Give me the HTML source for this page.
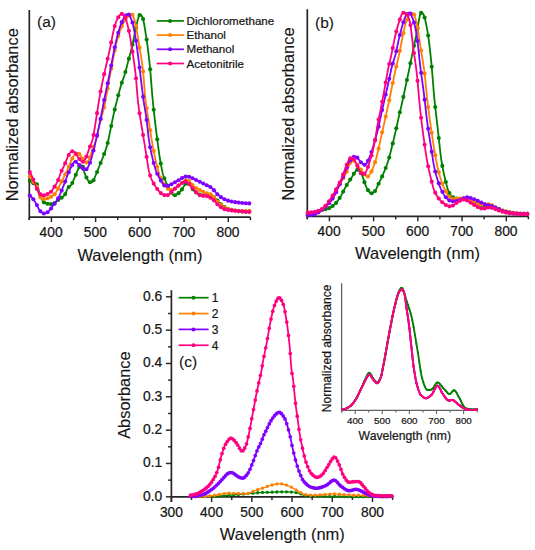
<!DOCTYPE html>
<html><head><meta charset="utf-8"><style>
html,body{margin:0;padding:0;background:#fff;overflow:hidden;}
svg{display:block;font-family:"Liberation Sans",sans-serif;}
</style></head><body>
<svg width="535" height="550" viewBox="0 0 535 550">
<rect width="535" height="550" fill="#fff"/>
<line x1="29.30" y1="10.00" x2="29.30" y2="219.90" stroke="#262626" stroke-width="1.7"/>
<line x1="29.30" y1="217.10" x2="250.40" y2="217.10" stroke="#262626" stroke-width="1.7"/>
<line x1="29.30" y1="217.10" x2="29.30" y2="220.10" stroke="#262626" stroke-width="1.4449999999999998"/>
<line x1="51.41" y1="217.10" x2="51.41" y2="222.10" stroke="#262626" stroke-width="1.4449999999999998"/>
<line x1="73.52" y1="217.10" x2="73.52" y2="220.10" stroke="#262626" stroke-width="1.4449999999999998"/>
<line x1="95.63" y1="217.10" x2="95.63" y2="222.10" stroke="#262626" stroke-width="1.4449999999999998"/>
<line x1="117.74" y1="217.10" x2="117.74" y2="220.10" stroke="#262626" stroke-width="1.4449999999999998"/>
<line x1="139.85" y1="217.10" x2="139.85" y2="222.10" stroke="#262626" stroke-width="1.4449999999999998"/>
<line x1="161.96" y1="217.10" x2="161.96" y2="220.10" stroke="#262626" stroke-width="1.4449999999999998"/>
<line x1="184.07" y1="217.10" x2="184.07" y2="222.10" stroke="#262626" stroke-width="1.4449999999999998"/>
<line x1="206.18" y1="217.10" x2="206.18" y2="220.10" stroke="#262626" stroke-width="1.4449999999999998"/>
<line x1="228.29" y1="217.10" x2="228.29" y2="222.10" stroke="#262626" stroke-width="1.4449999999999998"/>
<line x1="250.40" y1="217.10" x2="250.40" y2="220.10" stroke="#262626" stroke-width="1.4449999999999998"/>
<text x="51.11" y="236.8" font-size="13.8" text-anchor="middle" fill="#151515" stroke="#151515" stroke-width="0.22">400</text>
<text x="95.33" y="236.8" font-size="13.8" text-anchor="middle" fill="#151515" stroke="#151515" stroke-width="0.22">500</text>
<text x="139.55" y="236.8" font-size="13.8" text-anchor="middle" fill="#151515" stroke="#151515" stroke-width="0.22">600</text>
<text x="183.77" y="236.8" font-size="13.8" text-anchor="middle" fill="#151515" stroke="#151515" stroke-width="0.22">700</text>
<text x="227.99" y="236.8" font-size="13.8" text-anchor="middle" fill="#151515" stroke="#151515" stroke-width="0.22">800</text>
<path d="M29.80,180.70 L30.30,181.19 L30.80,181.64 L31.30,182.06 L31.80,182.43 L32.30,182.77 L32.80,183.05 L33.30,183.16 L33.80,183.16 L34.30,183.09 L34.80,183.03 L35.30,183.02 L35.80,183.13 L36.30,183.42 L36.80,184.05 L37.30,185.21 L37.80,186.74 L38.30,188.46 L38.80,190.23 L39.30,191.85 L39.80,193.23 L40.30,194.63 L40.80,196.08 L41.30,197.52 L41.80,198.88 L42.30,200.09 L42.80,201.08 L43.30,201.80 L43.80,202.24 L44.30,202.59 L44.80,202.90 L45.30,203.15 L45.80,203.35 L46.30,203.51 L46.80,203.62 L47.30,203.73 L47.80,203.84 L48.30,203.94 L48.80,204.04 L49.30,204.11 L49.80,204.17 L50.30,204.20 L50.80,204.19 L51.30,204.14 L51.80,204.05 L52.30,203.92 L52.80,203.77 L53.30,203.58 L53.80,203.38 L54.30,203.15 L54.80,202.87 L55.30,202.49 L55.80,202.05 L56.30,201.57 L56.80,201.09 L57.30,200.64 L57.80,200.25 L58.30,199.90 L58.80,199.57 L59.30,199.26 L59.80,198.94 L60.30,198.61 L60.80,198.27 L61.30,197.91 L61.80,197.55 L62.30,197.18 L62.80,196.78 L63.30,196.35 L63.80,195.88 L64.30,195.36 L64.80,194.77 L65.30,193.92 L65.80,192.82 L66.30,191.57 L66.80,190.31 L67.30,189.14 L67.80,188.20 L68.30,187.52 L68.80,187.02 L69.30,186.63 L69.80,186.29 L70.30,185.92 L70.80,185.45 L71.30,184.82 L71.80,183.97 L72.30,182.98 L72.80,181.88 L73.30,180.71 L73.80,179.50 L74.30,178.29 L74.80,177.09 L75.30,175.94 L75.80,174.76 L76.30,173.54 L76.80,172.32 L77.30,171.12 L77.80,169.99 L78.30,168.95 L78.80,168.03 L79.30,167.21 L79.80,166.51 L80.30,165.95 L80.80,165.57 L81.30,165.40 L81.80,165.47 L82.30,165.80 L82.80,166.61 L83.30,168.10 L83.80,169.99 L84.30,171.96 L84.80,173.70 L85.30,174.95 L85.80,176.09 L86.30,177.19 L86.80,178.24 L87.30,179.22 L87.80,180.09 L88.30,180.84 L88.80,181.44 L89.30,181.87 L89.80,182.17 L90.30,182.37 L90.80,182.45 L91.30,182.40 L91.80,182.22 L92.30,181.89 L92.80,181.40 L93.30,180.69 L93.80,179.76 L94.30,178.67 L94.80,177.46 L95.30,176.21 L95.80,174.98 L96.30,173.79 L96.80,172.57 L97.30,171.33 L97.80,170.07 L98.30,168.80 L98.80,167.52 L99.30,166.25 L99.80,165.00 L100.30,163.76 L100.80,162.54 L101.30,161.31 L101.80,160.08 L102.30,158.84 L102.80,157.58 L103.30,156.29 L103.80,154.97 L104.30,153.64 L104.80,152.29 L105.30,150.89 L105.80,149.43 L106.30,147.90 L106.80,146.26 L107.30,144.50 L107.80,142.53 L108.30,140.31 L108.80,137.93 L109.30,135.44 L109.80,132.94 L110.30,130.48 L110.80,128.07 L111.30,125.61 L111.80,123.12 L112.30,120.65 L112.80,118.22 L113.30,115.86 L113.80,113.61 L114.30,111.43 L114.80,109.30 L115.30,107.21 L115.80,105.16 L116.30,103.14 L116.80,101.15 L117.30,99.18 L117.80,97.22 L118.30,95.27 L118.80,93.32 L119.30,91.41 L119.80,89.53 L120.30,87.72 L120.80,85.97 L121.30,84.33 L121.80,82.81 L122.30,81.38 L122.80,79.99 L123.30,78.61 L123.80,77.19 L124.30,75.69 L124.80,74.06 L125.30,72.33 L125.80,70.52 L126.30,68.65 L126.80,66.75 L127.30,64.82 L127.80,62.89 L128.30,60.98 L128.80,59.09 L129.30,57.23 L129.80,55.36 L130.30,53.48 L130.80,51.56 L131.30,49.58 L131.80,47.52 L132.30,45.35 L132.80,43.05 L133.30,40.65 L133.80,38.20 L134.30,35.74 L134.80,33.31 L135.30,30.96 L135.80,28.70 L136.30,26.38 L136.80,24.03 L137.30,21.75 L137.80,19.65 L138.30,17.81 L138.80,16.34 L139.30,15.32 L139.80,14.73 L140.30,14.54 L140.80,14.70 L141.30,15.17 L141.80,15.93 L142.30,16.91 L142.80,18.13 L143.30,19.91 L143.80,22.21 L144.30,24.92 L144.80,27.92 L145.30,31.09 L145.80,34.30 L146.30,37.47 L146.80,40.81 L147.30,44.39 L147.80,48.19 L148.30,52.22 L148.80,56.47 L149.30,60.93 L149.80,65.60 L150.30,70.87 L150.80,76.87 L151.30,83.25 L151.80,89.64 L152.30,95.68 L152.80,101.00 L153.30,105.90 L153.80,110.61 L154.30,115.15 L154.80,119.53 L155.30,123.77 L155.80,127.89 L156.30,131.91 L156.80,135.87 L157.30,139.83 L157.80,143.74 L158.30,147.55 L158.80,151.20 L159.30,154.64 L159.80,157.81 L160.30,160.74 L160.80,163.62 L161.30,166.41 L161.80,169.06 L162.30,171.50 L162.80,173.67 L163.30,175.49 L163.80,176.95 L164.30,178.26 L164.80,179.50 L165.30,180.66 L165.80,181.77 L166.30,182.82 L166.80,183.81 L167.30,184.77 L167.80,185.69 L168.30,186.58 L168.80,187.51 L169.30,188.49 L169.80,189.50 L170.30,190.50 L170.80,191.48 L171.30,192.39 L171.80,193.22 L172.30,193.94 L172.80,194.51 L173.30,194.92 L173.80,195.13 L174.30,195.21 L174.80,195.20 L175.30,195.11 L175.80,194.94 L176.30,194.71 L176.80,194.43 L177.30,194.09 L177.80,193.72 L178.30,193.31 L178.80,192.87 L179.30,192.42 L179.80,191.95 L180.30,191.49 L180.80,191.00 L181.30,190.39 L181.80,189.68 L182.30,188.90 L182.80,188.07 L183.30,187.21 L183.80,186.36 L184.30,185.54 L184.80,184.78 L185.30,184.11 L185.80,183.55 L186.30,183.13 L186.80,182.87 L187.30,182.80 L187.80,182.92 L188.30,183.20 L188.80,183.61 L189.30,184.14 L189.80,184.76 L190.30,185.46 L190.80,186.21 L191.30,186.99 L191.80,187.79 L192.30,188.57 L192.80,189.33 L193.30,190.04 L193.80,190.68 L194.30,191.23 L194.80,191.66 L195.30,191.99 L195.80,192.30 L196.30,192.61 L196.80,192.92 L197.30,193.21 L197.80,193.49 L198.30,193.76 L198.80,194.01 L199.30,194.24 L199.80,194.46 L200.30,194.66 L200.80,194.83 L201.30,194.98 L201.80,195.10 L202.30,195.19 L202.80,195.24 L203.30,195.26 L203.80,195.25 L204.30,195.22 L204.80,195.18 L205.30,195.12 L205.80,195.05 L206.30,194.98 L206.80,194.92 L207.30,194.86 L207.80,194.82 L208.30,194.79 L208.80,194.79 L209.30,194.81 L209.80,194.87 L210.30,194.96 L210.80,195.10 L211.30,195.30 L211.80,195.56 L212.30,195.89 L212.80,196.26 L213.30,196.68 L213.80,197.13 L214.30,197.59 L214.80,198.08 L215.30,198.56 L215.80,199.04 L216.30,199.51 L216.80,199.97 L217.30,200.47 L217.80,200.99 L218.30,201.53 L218.80,202.08 L219.30,202.63 L219.80,203.17 L220.30,203.69 L220.80,204.18 L221.30,204.64 L221.80,205.05 L222.30,205.42 L222.80,205.77 L223.30,206.12 L223.80,206.47 L224.30,206.80 L224.80,207.12 L225.30,207.43 L225.80,207.73 L226.30,208.01 L226.80,208.27 L227.30,208.52 L227.80,208.75 L228.30,208.96 L228.80,209.15 L229.30,209.31 L229.80,209.45 L230.30,209.57 L230.80,209.69 L231.30,209.80 L231.80,209.91 L232.30,210.02 L232.80,210.13 L233.30,210.23 L233.80,210.33 L234.30,210.43 L234.80,210.52 L235.30,210.61 L235.80,210.70 L236.30,210.79 L236.80,210.87 L237.30,210.95 L237.80,211.03 L238.30,211.10 L238.80,211.17 L239.30,211.23 L239.80,211.29 L240.30,211.35 L240.80,211.40 L241.30,211.45 L241.80,211.49 L242.30,211.53 L242.80,211.56 L243.30,211.59 L243.80,211.62 L244.30,211.64 L244.80,211.65 L245.30,211.67 L245.80,211.67 L246.30,211.67 L246.80,211.67 L247.30,211.65 L247.80,211.64 L248.30,211.62 L248.80,211.59 L249.30,211.56 L249.80,211.52" fill="none" stroke="#008000" stroke-width="1.8" stroke-linejoin="round" stroke-linecap="round"/>
<g fill="#008000"><circle cx="29.80" cy="180.70" r="2.05"/><circle cx="33.34" cy="183.17" r="2.05"/><circle cx="36.88" cy="184.21" r="2.05"/><circle cx="40.42" cy="194.98" r="2.05"/><circle cx="43.96" cy="202.36" r="2.05"/><circle cx="47.50" cy="203.77" r="2.05"/><circle cx="51.04" cy="204.17" r="2.05"/><circle cx="54.58" cy="203.01" r="2.05"/><circle cx="58.12" cy="200.03" r="2.05"/><circle cx="61.66" cy="197.65" r="2.05"/><circle cx="65.20" cy="194.12" r="2.05"/><circle cx="68.74" cy="187.07" r="2.05"/><circle cx="72.28" cy="183.02" r="2.05"/><circle cx="75.82" cy="174.71" r="2.05"/><circle cx="79.36" cy="167.12" r="2.05"/><circle cx="82.90" cy="166.86" r="2.05"/><circle cx="86.44" cy="177.49" r="2.05"/><circle cx="89.98" cy="182.26" r="2.05"/><circle cx="93.52" cy="180.31" r="2.05"/><circle cx="97.06" cy="171.93" r="2.05"/><circle cx="100.60" cy="163.03" r="2.05"/><circle cx="104.14" cy="154.07" r="2.05"/><circle cx="107.68" cy="143.03" r="2.05"/><circle cx="111.22" cy="126.01" r="2.05"/><circle cx="114.76" cy="109.47" r="2.05"/><circle cx="118.30" cy="95.27" r="2.05"/><circle cx="121.84" cy="82.69" r="2.05"/><circle cx="125.38" cy="72.04" r="2.05"/><circle cx="128.92" cy="58.65" r="2.05"/><circle cx="132.46" cy="44.63" r="2.05"/><circle cx="136.00" cy="27.78" r="2.05"/><circle cx="139.54" cy="14.98" r="2.05"/><circle cx="143.08" cy="19.06" r="2.05"/><circle cx="146.62" cy="39.58" r="2.05"/><circle cx="150.16" cy="69.30" r="2.05"/><circle cx="153.70" cy="109.68" r="2.05"/><circle cx="157.24" cy="139.36" r="2.05"/><circle cx="160.78" cy="163.51" r="2.05"/><circle cx="164.32" cy="178.31" r="2.05"/><circle cx="167.86" cy="185.80" r="2.05"/><circle cx="171.40" cy="192.57" r="2.05"/><circle cx="174.94" cy="195.18" r="2.05"/><circle cx="178.48" cy="193.15" r="2.05"/><circle cx="182.02" cy="189.35" r="2.05"/><circle cx="185.56" cy="183.80" r="2.05"/><circle cx="189.10" cy="183.91" r="2.05"/><circle cx="192.64" cy="189.09" r="2.05"/><circle cx="196.18" cy="192.54" r="2.05"/><circle cx="199.72" cy="194.43" r="2.05"/><circle cx="203.26" cy="195.26" r="2.05"/><circle cx="206.80" cy="194.92" r="2.05"/><circle cx="210.34" cy="194.97" r="2.05"/><circle cx="213.88" cy="197.20" r="2.05"/><circle cx="217.42" cy="200.59" r="2.05"/><circle cx="220.96" cy="204.33" r="2.05"/><circle cx="224.50" cy="206.93" r="2.05"/><circle cx="228.04" cy="208.85" r="2.05"/><circle cx="231.58" cy="209.86" r="2.05"/><circle cx="235.12" cy="210.58" r="2.05"/><circle cx="238.66" cy="211.15" r="2.05"/><circle cx="242.20" cy="211.52" r="2.05"/><circle cx="245.74" cy="211.67" r="2.05"/><circle cx="249.28" cy="211.56" r="2.05"/></g>
<path d="M29.80,176.40 L30.30,177.24 L30.80,178.05 L31.30,178.85 L31.80,179.63 L32.30,180.40 L32.80,181.14 L33.30,181.80 L33.80,182.42 L34.30,183.02 L34.80,183.63 L35.30,184.28 L35.80,185.00 L36.30,185.82 L36.80,186.88 L37.30,188.33 L37.80,190.04 L38.30,191.85 L38.80,193.62 L39.30,195.20 L39.80,196.44 L40.30,197.22 L40.80,197.78 L41.30,198.29 L41.80,198.71 L42.30,199.04 L42.80,199.24 L43.30,199.31 L43.80,199.26 L44.30,199.17 L44.80,199.07 L45.30,198.95 L45.80,198.82 L46.30,198.68 L46.80,198.53 L47.30,198.37 L47.80,198.20 L48.30,198.02 L48.80,197.83 L49.30,197.64 L49.80,197.42 L50.30,197.20 L50.80,196.96 L51.30,196.70 L51.80,196.43 L52.30,196.14 L52.80,195.83 L53.30,195.50 L53.80,195.10 L54.30,194.58 L54.80,193.96 L55.30,193.26 L55.80,192.50 L56.30,191.69 L56.80,190.86 L57.30,190.01 L57.80,189.16 L58.30,188.24 L58.80,187.25 L59.30,186.23 L59.80,185.18 L60.30,184.13 L60.80,183.10 L61.30,182.10 L61.80,181.10 L62.30,180.10 L62.80,179.10 L63.30,178.10 L63.80,177.10 L64.30,176.10 L64.80,175.10 L65.30,174.12 L65.80,173.15 L66.30,172.18 L66.80,171.19 L67.30,170.17 L67.80,169.10 L68.30,167.94 L68.80,166.69 L69.30,165.39 L69.80,164.07 L70.30,162.77 L70.80,161.54 L71.30,160.41 L71.80,159.40 L72.30,158.43 L72.80,157.50 L73.30,156.65 L73.80,155.90 L74.30,155.29 L74.80,154.83 L75.30,154.41 L75.80,154.03 L76.30,153.71 L76.80,153.46 L77.30,153.31 L77.80,153.29 L78.30,153.40 L78.80,153.67 L79.30,154.09 L79.80,154.63 L80.30,155.27 L80.80,155.96 L81.30,156.68 L81.80,157.39 L82.30,158.07 L82.80,158.74 L83.30,159.47 L83.80,160.22 L84.30,160.95 L84.80,161.60 L85.30,162.13 L85.80,162.48 L86.30,162.54 L86.80,162.35 L87.30,161.94 L87.80,161.36 L88.30,160.63 L88.80,159.81 L89.30,158.91 L89.80,157.71 L90.30,156.20 L90.80,154.51 L91.30,152.79 L91.80,151.19 L92.30,149.79 L92.80,148.50 L93.30,147.28 L93.80,146.08 L94.30,144.86 L94.80,143.58 L95.30,142.19 L95.80,140.66 L96.30,138.92 L96.80,136.87 L97.30,134.59 L97.80,132.16 L98.30,129.68 L98.80,127.21 L99.30,124.86 L99.80,122.70 L100.30,120.78 L100.80,119.03 L101.30,117.41 L101.80,115.84 L102.30,114.26 L102.80,112.61 L103.30,110.83 L103.80,108.86 L104.30,106.65 L104.80,104.28 L105.30,101.78 L105.80,99.16 L106.30,96.45 L106.80,93.66 L107.30,90.81 L107.80,87.93 L108.30,85.02 L108.80,82.11 L109.30,79.22 L109.80,76.37 L110.30,73.57 L110.80,70.85 L111.30,68.22 L111.80,65.69 L112.30,63.15 L112.80,60.58 L113.30,58.00 L113.80,55.43 L114.30,52.89 L114.80,50.40 L115.30,47.97 L115.80,45.63 L116.30,43.40 L116.80,41.29 L117.30,39.32 L117.80,37.52 L118.30,35.89 L118.80,34.36 L119.30,32.89 L119.80,31.48 L120.30,30.13 L120.80,28.84 L121.30,27.60 L121.80,26.44 L122.30,25.33 L122.80,24.28 L123.30,23.30 L123.80,22.39 L124.30,21.53 L124.80,20.75 L125.30,19.99 L125.80,19.26 L126.30,18.56 L126.80,17.89 L127.30,17.27 L127.80,16.69 L128.30,16.16 L128.80,15.69 L129.30,15.28 L129.80,14.94 L130.30,14.68 L130.80,14.49 L131.30,14.40 L131.80,14.39 L132.30,14.61 L132.80,15.26 L133.30,16.31 L133.80,17.67 L134.30,19.29 L134.80,21.09 L135.30,23.02 L135.80,25.04 L136.30,27.48 L136.80,30.32 L137.30,33.43 L137.80,36.70 L138.30,39.99 L138.80,43.18 L139.30,46.21 L139.80,49.16 L140.30,52.10 L140.80,55.09 L141.30,58.20 L141.80,61.49 L142.30,65.04 L142.80,68.90 L143.30,73.77 L143.80,79.84 L144.30,86.40 L144.80,92.76 L145.30,98.22 L145.80,102.38 L146.30,106.07 L146.80,109.48 L147.30,112.67 L147.80,115.73 L148.30,118.73 L148.80,121.75 L149.30,124.85 L149.80,128.00 L150.30,131.15 L150.80,134.29 L151.30,137.37 L151.80,140.38 L152.30,143.28 L152.80,146.04 L153.30,148.75 L153.80,151.41 L154.30,154.01 L154.80,156.52 L155.30,158.90 L155.80,161.14 L156.30,163.21 L156.80,165.14 L157.30,167.04 L157.80,168.90 L158.30,170.70 L158.80,172.41 L159.30,174.01 L159.80,175.49 L160.30,176.82 L160.80,177.99 L161.30,179.03 L161.80,180.04 L162.30,181.04 L162.80,181.99 L163.30,182.91 L163.80,183.78 L164.30,184.60 L164.80,185.36 L165.30,186.05 L165.80,186.66 L166.30,187.20 L166.80,187.69 L167.30,188.18 L167.80,188.65 L168.30,189.08 L168.80,189.46 L169.30,189.76 L169.80,189.95 L170.30,190.05 L170.80,190.10 L171.30,190.11 L171.80,190.08 L172.30,190.00 L172.80,189.87 L173.30,189.69 L173.80,189.45 L174.30,189.15 L174.80,188.81 L175.30,188.44 L175.80,188.03 L176.30,187.60 L176.80,187.15 L177.30,186.68 L177.80,186.22 L178.30,185.75 L178.80,185.30 L179.30,184.86 L179.80,184.44 L180.30,184.05 L180.80,183.68 L181.30,183.29 L181.80,182.90 L182.30,182.49 L182.80,182.09 L183.30,181.70 L183.80,181.33 L184.30,181.00 L184.80,180.70 L185.30,180.45 L185.80,180.26 L186.30,180.13 L186.80,180.08 L187.30,180.11 L187.80,180.25 L188.30,180.50 L188.80,180.84 L189.30,181.25 L189.80,181.73 L190.30,182.26 L190.80,182.83 L191.30,183.42 L191.80,184.03 L192.30,184.63 L192.80,185.22 L193.30,185.78 L193.80,186.30 L194.30,186.77 L194.80,187.16 L195.30,187.49 L195.80,187.81 L196.30,188.12 L196.80,188.42 L197.30,188.72 L197.80,189.01 L198.30,189.29 L198.80,189.57 L199.30,189.84 L199.80,190.11 L200.30,190.37 L200.80,190.63 L201.30,190.89 L201.80,191.14 L202.30,191.38 L202.80,191.63 L203.30,191.87 L203.80,192.11 L204.30,192.34 L204.80,192.54 L205.30,192.73 L205.80,192.89 L206.30,193.05 L206.80,193.19 L207.30,193.33 L207.80,193.46 L208.30,193.60 L208.80,193.75 L209.30,193.91 L209.80,194.09 L210.30,194.28 L210.80,194.51 L211.30,194.76 L211.80,195.04 L212.30,195.38 L212.80,195.81 L213.30,196.33 L213.80,196.90 L214.30,197.53 L214.80,198.20 L215.30,198.89 L215.80,199.59 L216.30,200.28 L216.80,200.96 L217.30,201.60 L217.80,202.19 L218.30,202.72 L218.80,203.18 L219.30,203.62 L219.80,204.07 L220.30,204.51 L220.80,204.94 L221.30,205.36 L221.80,205.78 L222.30,206.17 L222.80,206.55 L223.30,206.91 L223.80,207.25 L224.30,207.57 L224.80,207.85 L225.30,208.11 L225.80,208.34 L226.30,208.53 L226.80,208.70 L227.30,208.85 L227.80,209.00 L228.30,209.15 L228.80,209.29 L229.30,209.43 L229.80,209.56 L230.30,209.69 L230.80,209.82 L231.30,209.94 L231.80,210.05 L232.30,210.17 L232.80,210.27 L233.30,210.37 L233.80,210.47 L234.30,210.56 L234.80,210.65 L235.30,210.73 L235.80,210.81 L236.30,210.88 L236.80,210.95 L237.30,211.01 L237.80,211.07 L238.30,211.12 L238.80,211.17 L239.30,211.21 L239.80,211.25 L240.30,211.28 L240.80,211.30 L241.30,211.32 L241.80,211.34 L242.30,211.35 L242.80,211.35 L243.30,211.35 L243.80,211.35 L244.30,211.34 L244.80,211.32 L245.30,211.30 L245.80,211.27 L246.30,211.23 L246.80,211.19 L247.30,211.15 L247.80,211.10 L248.30,211.04 L248.80,210.98 L249.30,210.91 L249.80,210.83" fill="none" stroke="#FF8000" stroke-width="1.8" stroke-linejoin="round" stroke-linecap="round"/>
<g fill="#FF8000"><circle cx="29.80" cy="176.40" r="2.05"/><circle cx="33.34" cy="181.85" r="2.05"/><circle cx="36.88" cy="187.09" r="2.05"/><circle cx="40.42" cy="197.36" r="2.05"/><circle cx="43.96" cy="199.23" r="2.05"/><circle cx="47.50" cy="198.30" r="2.05"/><circle cx="51.04" cy="196.84" r="2.05"/><circle cx="54.58" cy="194.24" r="2.05"/><circle cx="58.12" cy="188.58" r="2.05"/><circle cx="61.66" cy="181.38" r="2.05"/><circle cx="65.20" cy="174.31" r="2.05"/><circle cx="68.74" cy="166.85" r="2.05"/><circle cx="72.28" cy="158.46" r="2.05"/><circle cx="75.82" cy="154.01" r="2.05"/><circle cx="79.36" cy="154.15" r="2.05"/><circle cx="82.90" cy="158.88" r="2.05"/><circle cx="86.44" cy="162.51" r="2.05"/><circle cx="89.98" cy="157.20" r="2.05"/><circle cx="93.52" cy="146.75" r="2.05"/><circle cx="97.06" cy="135.71" r="2.05"/><circle cx="100.60" cy="119.71" r="2.05"/><circle cx="104.14" cy="107.38" r="2.05"/><circle cx="107.68" cy="88.62" r="2.05"/><circle cx="111.22" cy="68.64" r="2.05"/><circle cx="114.76" cy="50.60" r="2.05"/><circle cx="118.30" cy="35.89" r="2.05"/><circle cx="121.84" cy="26.34" r="2.05"/><circle cx="125.38" cy="19.87" r="2.05"/><circle cx="128.92" cy="15.58" r="2.05"/><circle cx="132.46" cy="14.77" r="2.05"/><circle cx="136.00" cy="25.96" r="2.05"/><circle cx="139.54" cy="47.63" r="2.05"/><circle cx="143.08" cy="71.44" r="2.05"/><circle cx="146.62" cy="108.28" r="2.05"/><circle cx="150.16" cy="130.27" r="2.05"/><circle cx="153.70" cy="150.88" r="2.05"/><circle cx="157.24" cy="166.82" r="2.05"/><circle cx="160.78" cy="177.94" r="2.05"/><circle cx="164.32" cy="184.63" r="2.05"/><circle cx="167.86" cy="188.70" r="2.05"/><circle cx="171.40" cy="190.11" r="2.05"/><circle cx="174.94" cy="188.71" r="2.05"/><circle cx="178.48" cy="185.59" r="2.05"/><circle cx="182.02" cy="182.72" r="2.05"/><circle cx="185.56" cy="180.34" r="2.05"/><circle cx="189.10" cy="181.08" r="2.05"/><circle cx="192.64" cy="185.04" r="2.05"/><circle cx="196.18" cy="188.05" r="2.05"/><circle cx="199.72" cy="190.07" r="2.05"/><circle cx="203.26" cy="191.85" r="2.05"/><circle cx="206.80" cy="193.19" r="2.05"/><circle cx="210.34" cy="194.30" r="2.05"/><circle cx="213.88" cy="197.00" r="2.05"/><circle cx="217.42" cy="201.74" r="2.05"/><circle cx="220.96" cy="205.08" r="2.05"/><circle cx="224.50" cy="207.68" r="2.05"/><circle cx="228.04" cy="209.07" r="2.05"/><circle cx="231.58" cy="210.00" r="2.05"/><circle cx="235.12" cy="210.70" r="2.05"/><circle cx="238.66" cy="211.15" r="2.05"/><circle cx="242.20" cy="211.35" r="2.05"/><circle cx="245.74" cy="211.27" r="2.05"/><circle cx="249.28" cy="210.91" r="2.05"/></g>
<path d="M29.80,195.50 L30.30,195.86 L30.80,196.30 L31.30,196.81 L31.80,197.37 L32.30,197.96 L32.80,198.57 L33.30,199.24 L33.80,199.97 L34.30,200.73 L34.80,201.53 L35.30,202.35 L35.80,203.19 L36.30,204.03 L36.80,204.92 L37.30,205.91 L37.80,206.95 L38.30,207.98 L38.80,208.94 L39.30,209.78 L39.80,210.45 L40.30,211.06 L40.80,211.64 L41.30,212.17 L41.80,212.62 L42.30,213.00 L42.80,213.29 L43.30,213.46 L43.80,213.53 L44.30,213.53 L44.80,213.47 L45.30,213.35 L45.80,213.18 L46.30,212.97 L46.80,212.71 L47.30,212.40 L47.80,212.03 L48.30,211.58 L48.80,211.07 L49.30,210.51 L49.80,209.93 L50.30,209.34 L50.80,208.74 L51.30,208.11 L51.80,207.45 L52.30,206.77 L52.80,206.08 L53.30,205.39 L53.80,204.70 L54.30,204.03 L54.80,203.36 L55.30,202.69 L55.80,202.01 L56.30,201.31 L56.80,200.58 L57.30,199.79 L57.80,198.95 L58.30,198.01 L58.80,196.98 L59.30,195.89 L59.80,194.75 L60.30,193.59 L60.80,192.43 L61.30,191.28 L61.80,190.10 L62.30,188.90 L62.80,187.68 L63.30,186.45 L63.80,185.19 L64.30,183.92 L64.80,182.64 L65.30,181.30 L65.80,179.91 L66.30,178.51 L66.80,177.12 L67.30,175.77 L67.80,174.50 L68.30,173.29 L68.80,172.09 L69.30,170.93 L69.80,169.80 L70.30,168.72 L70.80,167.71 L71.30,166.76 L71.80,165.85 L72.30,164.89 L72.80,163.92 L73.30,163.02 L73.80,162.25 L74.30,161.69 L74.80,161.41 L75.30,161.45 L75.80,161.69 L76.30,162.06 L76.80,162.51 L77.30,163.03 L77.80,163.57 L78.30,164.10 L78.80,164.60 L79.30,165.09 L79.80,165.62 L80.30,166.15 L80.80,166.68 L81.30,167.19 L81.80,167.67 L82.30,168.12 L82.80,168.51 L83.30,168.84 L83.80,169.11 L84.30,169.31 L84.80,169.45 L85.30,169.52 L85.80,169.52 L86.30,169.40 L86.80,169.00 L87.30,168.35 L87.80,167.49 L88.30,166.50 L88.80,165.41 L89.30,164.28 L89.80,163.13 L90.30,161.81 L90.80,160.29 L91.30,158.63 L91.80,156.86 L92.30,155.04 L92.80,153.20 L93.30,151.32 L93.80,149.34 L94.30,147.28 L94.80,145.17 L95.30,143.02 L95.80,140.86 L96.30,138.70 L96.80,136.53 L97.30,134.32 L97.80,132.09 L98.30,129.83 L98.80,127.52 L99.30,125.17 L99.80,122.78 L100.30,120.30 L100.80,117.71 L101.30,115.03 L101.80,112.30 L102.30,109.56 L102.80,106.86 L103.30,104.23 L103.80,101.71 L104.30,99.27 L104.80,96.90 L105.30,94.56 L105.80,92.23 L106.30,89.89 L106.80,87.50 L107.30,85.08 L107.80,82.66 L108.30,80.23 L108.80,77.78 L109.30,75.32 L109.80,72.83 L110.30,70.31 L110.80,67.75 L111.30,65.10 L111.80,62.39 L112.30,59.67 L112.80,56.98 L113.30,54.38 L113.80,51.90 L114.30,49.51 L114.80,47.17 L115.30,44.87 L115.80,42.64 L116.30,40.49 L116.80,38.42 L117.30,36.45 L117.80,34.59 L118.30,32.75 L118.80,30.97 L119.30,29.25 L119.80,27.62 L120.30,26.10 L120.80,24.71 L121.30,23.45 L121.80,22.22 L122.30,21.04 L122.80,19.92 L123.30,18.87 L123.80,17.92 L124.30,17.08 L124.80,16.37 L125.30,15.74 L125.80,15.19 L126.30,14.73 L126.80,14.37 L127.30,14.13 L127.80,14.01 L128.30,14.07 L128.80,14.43 L129.30,15.06 L129.80,15.92 L130.30,16.96 L130.80,18.12 L131.30,19.37 L131.80,20.65 L132.30,22.06 L132.80,23.85 L133.30,25.99 L133.80,28.40 L134.30,31.02 L134.80,33.80 L135.30,36.66 L135.80,39.59 L136.30,42.80 L136.80,46.29 L137.30,49.99 L137.80,53.83 L138.30,57.73 L138.80,61.63 L139.30,65.54 L139.80,69.61 L140.30,73.80 L140.80,78.04 L141.30,82.30 L141.80,86.53 L142.30,90.67 L142.80,94.69 L143.30,98.53 L143.80,102.09 L144.30,105.27 L144.80,108.22 L145.30,111.12 L145.80,114.15 L146.30,117.48 L146.80,121.35 L147.30,125.77 L147.80,130.40 L148.30,134.90 L148.80,138.94 L149.30,142.24 L149.80,145.21 L150.30,147.98 L150.80,150.58 L151.30,153.00 L151.80,155.27 L152.30,157.40 L152.80,159.39 L153.30,161.35 L153.80,163.28 L154.30,165.17 L154.80,166.97 L155.30,168.65 L155.80,170.19 L156.30,171.55 L156.80,172.76 L157.30,173.90 L157.80,174.99 L158.30,176.02 L158.80,177.00 L159.30,177.91 L159.80,178.77 L160.30,179.59 L160.80,180.44 L161.30,181.30 L161.80,182.14 L162.30,182.95 L162.80,183.70 L163.30,184.37 L163.80,184.94 L164.30,185.37 L164.80,185.68 L165.30,185.95 L165.80,186.16 L166.30,186.27 L166.80,186.25 L167.30,186.10 L167.80,185.91 L168.30,185.71 L168.80,185.49 L169.30,185.26 L169.80,185.02 L170.30,184.77 L170.80,184.51 L171.30,184.25 L171.80,183.98 L172.30,183.70 L172.80,183.43 L173.30,183.15 L173.80,182.87 L174.30,182.60 L174.80,182.33 L175.30,182.06 L175.80,181.80 L176.30,181.54 L176.80,181.27 L177.30,180.98 L177.80,180.68 L178.30,180.37 L178.80,180.05 L179.30,179.73 L179.80,179.40 L180.30,179.08 L180.80,178.76 L181.30,178.46 L181.80,178.16 L182.30,177.88 L182.80,177.61 L183.30,177.37 L183.80,177.14 L184.30,176.95 L184.80,176.78 L185.30,176.64 L185.80,176.54 L186.30,176.48 L186.80,176.46 L187.30,176.48 L187.80,176.53 L188.30,176.62 L188.80,176.73 L189.30,176.88 L189.80,177.04 L190.30,177.23 L190.80,177.43 L191.30,177.65 L191.80,177.88 L192.30,178.12 L192.80,178.36 L193.30,178.60 L193.80,178.84 L194.30,179.08 L194.80,179.31 L195.30,179.53 L195.80,179.76 L196.30,179.99 L196.80,180.23 L197.30,180.47 L197.80,180.72 L198.30,180.97 L198.80,181.22 L199.30,181.48 L199.80,181.74 L200.30,182.00 L200.80,182.26 L201.30,182.52 L201.80,182.78 L202.30,183.03 L202.80,183.29 L203.30,183.55 L203.80,183.80 L204.30,184.05 L204.80,184.29 L205.30,184.52 L205.80,184.75 L206.30,184.98 L206.80,185.20 L207.30,185.43 L207.80,185.66 L208.30,185.91 L208.80,186.16 L209.30,186.42 L209.80,186.69 L210.30,186.99 L210.80,187.30 L211.30,187.65 L211.80,188.06 L212.30,188.51 L212.80,189.00 L213.30,189.52 L213.80,190.08 L214.30,190.65 L214.80,191.23 L215.30,191.83 L215.80,192.42 L216.30,193.01 L216.80,193.58 L217.30,194.13 L217.80,194.66 L218.30,195.15 L218.80,195.60 L219.30,196.01 L219.80,196.37 L220.30,196.70 L220.80,197.03 L221.30,197.35 L221.80,197.66 L222.30,197.97 L222.80,198.26 L223.30,198.55 L223.80,198.83 L224.30,199.09 L224.80,199.34 L225.30,199.58 L225.80,199.81 L226.30,200.02 L226.80,200.21 L227.30,200.39 L227.80,200.55 L228.30,200.70 L228.80,200.82 L229.30,200.94 L229.80,201.06 L230.30,201.18 L230.80,201.30 L231.30,201.41 L231.80,201.52 L232.30,201.63 L232.80,201.73 L233.30,201.84 L233.80,201.93 L234.30,202.03 L234.80,202.11 L235.30,202.19 L235.80,202.27 L236.30,202.34 L236.80,202.40 L237.30,202.46 L237.80,202.51 L238.30,202.56 L238.80,202.60 L239.30,202.65 L239.80,202.70 L240.30,202.75 L240.80,202.80 L241.30,202.84 L241.80,202.89 L242.30,202.94 L242.80,202.98 L243.30,203.03 L243.80,203.07 L244.30,203.11 L244.80,203.15 L245.30,203.19 L245.80,203.22 L246.30,203.26 L246.80,203.29 L247.30,203.31 L247.80,203.34 L248.30,203.36 L248.80,203.37 L249.30,203.39 L249.80,203.40" fill="none" stroke="#8000FF" stroke-width="1.8" stroke-linejoin="round" stroke-linecap="round"/>
<g fill="#8000FF"><circle cx="29.80" cy="195.50" r="2.05"/><circle cx="33.34" cy="199.30" r="2.05"/><circle cx="36.88" cy="205.07" r="2.05"/><circle cx="40.42" cy="211.21" r="2.05"/><circle cx="43.96" cy="213.53" r="2.05"/><circle cx="47.50" cy="212.26" r="2.05"/><circle cx="51.04" cy="208.44" r="2.05"/><circle cx="54.58" cy="203.65" r="2.05"/><circle cx="58.12" cy="198.36" r="2.05"/><circle cx="61.66" cy="190.43" r="2.05"/><circle cx="65.20" cy="181.58" r="2.05"/><circle cx="68.74" cy="172.24" r="2.05"/><circle cx="72.28" cy="164.93" r="2.05"/><circle cx="75.82" cy="161.71" r="2.05"/><circle cx="79.36" cy="165.16" r="2.05"/><circle cx="82.90" cy="168.58" r="2.05"/><circle cx="86.44" cy="169.32" r="2.05"/><circle cx="89.98" cy="162.68" r="2.05"/><circle cx="93.52" cy="150.46" r="2.05"/><circle cx="97.06" cy="135.38" r="2.05"/><circle cx="100.60" cy="118.76" r="2.05"/><circle cx="104.14" cy="100.04" r="2.05"/><circle cx="107.68" cy="83.24" r="2.05"/><circle cx="111.22" cy="65.53" r="2.05"/><circle cx="114.76" cy="47.35" r="2.05"/><circle cx="118.30" cy="32.75" r="2.05"/><circle cx="121.84" cy="22.13" r="2.05"/><circle cx="125.38" cy="15.65" r="2.05"/><circle cx="128.92" cy="14.56" r="2.05"/><circle cx="132.46" cy="22.59" r="2.05"/><circle cx="136.00" cy="40.83" r="2.05"/><circle cx="139.54" cy="67.48" r="2.05"/><circle cx="143.08" cy="96.86" r="2.05"/><circle cx="146.62" cy="119.88" r="2.05"/><circle cx="150.16" cy="147.23" r="2.05"/><circle cx="153.70" cy="162.90" r="2.05"/><circle cx="157.24" cy="173.77" r="2.05"/><circle cx="160.78" cy="180.41" r="2.05"/><circle cx="164.32" cy="185.38" r="2.05"/><circle cx="167.86" cy="185.88" r="2.05"/><circle cx="171.40" cy="184.19" r="2.05"/><circle cx="174.94" cy="182.25" r="2.05"/><circle cx="178.48" cy="180.25" r="2.05"/><circle cx="182.02" cy="178.03" r="2.05"/><circle cx="185.56" cy="176.59" r="2.05"/><circle cx="189.10" cy="176.81" r="2.05"/><circle cx="192.64" cy="178.28" r="2.05"/><circle cx="196.18" cy="179.94" r="2.05"/><circle cx="199.72" cy="181.70" r="2.05"/><circle cx="203.26" cy="183.53" r="2.05"/><circle cx="206.80" cy="185.20" r="2.05"/><circle cx="210.34" cy="187.01" r="2.05"/><circle cx="213.88" cy="190.17" r="2.05"/><circle cx="217.42" cy="194.26" r="2.05"/><circle cx="220.96" cy="197.13" r="2.05"/><circle cx="224.50" cy="199.19" r="2.05"/><circle cx="228.04" cy="200.63" r="2.05"/><circle cx="231.58" cy="201.47" r="2.05"/><circle cx="235.12" cy="202.17" r="2.05"/><circle cx="238.66" cy="202.59" r="2.05"/><circle cx="242.20" cy="202.93" r="2.05"/><circle cx="245.74" cy="203.22" r="2.05"/><circle cx="249.28" cy="203.39" r="2.05"/></g>
<path d="M29.80,172.00 L30.30,172.87 L30.80,173.82 L31.30,174.85 L31.80,175.92 L32.30,177.04 L32.80,178.21 L33.30,179.49 L33.80,180.85 L34.30,182.26 L34.80,183.67 L35.30,185.05 L35.80,186.36 L36.30,187.57 L36.80,188.71 L37.30,189.86 L37.80,190.97 L38.30,191.99 L38.80,192.86 L39.30,193.53 L39.80,193.95 L40.30,194.31 L40.80,194.66 L41.30,194.96 L41.80,195.22 L42.30,195.41 L42.80,195.52 L43.30,195.53 L43.80,195.44 L44.30,195.31 L44.80,195.15 L45.30,194.97 L45.80,194.77 L46.30,194.57 L46.80,194.36 L47.30,194.14 L47.80,193.90 L48.30,193.64 L48.80,193.36 L49.30,193.05 L49.80,192.72 L50.30,192.35 L50.80,191.94 L51.30,191.41 L51.80,190.77 L52.30,190.06 L52.80,189.31 L53.30,188.55 L53.80,187.80 L54.30,187.06 L54.80,186.29 L55.30,185.50 L55.80,184.68 L56.30,183.81 L56.80,182.89 L57.30,181.91 L57.80,180.87 L58.30,179.65 L58.80,178.30 L59.30,176.87 L59.80,175.43 L60.30,174.03 L60.80,172.74 L61.30,171.58 L61.80,170.48 L62.30,169.43 L62.80,168.41 L63.30,167.39 L63.80,166.36 L64.30,165.29 L64.80,164.17 L65.30,162.94 L65.80,161.65 L66.30,160.33 L66.80,159.05 L67.30,157.85 L67.80,156.80 L68.30,155.83 L68.80,154.88 L69.30,153.98 L69.80,153.15 L70.30,152.45 L70.80,151.88 L71.30,151.50 L71.80,151.30 L72.30,151.23 L72.80,151.27 L73.30,151.41 L73.80,151.65 L74.30,151.99 L74.80,152.41 L75.30,152.92 L75.80,153.57 L76.30,154.34 L76.80,155.18 L77.30,156.04 L77.80,156.88 L78.30,157.66 L78.80,158.32 L79.30,158.95 L79.80,159.57 L80.30,160.16 L80.80,160.70 L81.30,161.16 L81.80,161.52 L82.30,161.77 L82.80,161.82 L83.30,161.61 L83.80,161.16 L84.30,160.54 L84.80,159.79 L85.30,158.95 L85.80,158.03 L86.30,156.91 L86.80,155.61 L87.30,154.19 L87.80,152.70 L88.30,151.19 L88.80,149.72 L89.30,148.33 L89.80,147.06 L90.30,145.85 L90.80,144.64 L91.30,143.36 L91.80,141.95 L92.30,140.35 L92.80,138.43 L93.30,136.10 L93.80,133.44 L94.30,130.51 L94.80,127.41 L95.30,124.23 L95.80,121.03 L96.30,117.91 L96.80,114.81 L97.30,111.56 L97.80,108.24 L98.30,104.95 L98.80,101.79 L99.30,98.84 L99.80,95.99 L100.30,93.20 L100.80,90.47 L101.30,87.81 L101.80,85.23 L102.30,82.71 L102.80,80.28 L103.30,77.93 L103.80,75.66 L104.30,73.45 L104.80,71.29 L105.30,69.14 L105.80,67.00 L106.30,64.82 L106.80,62.61 L107.30,60.40 L107.80,58.19 L108.30,55.98 L108.80,53.76 L109.30,51.51 L109.80,49.24 L110.30,46.94 L110.80,44.55 L111.30,41.98 L111.80,39.31 L112.30,36.63 L112.80,34.06 L113.30,31.68 L113.80,29.60 L114.30,27.74 L114.80,25.98 L115.30,24.32 L115.80,22.78 L116.30,21.38 L116.80,20.14 L117.30,19.07 L117.80,18.16 L118.30,17.28 L118.80,16.44 L119.30,15.68 L119.80,15.02 L120.30,14.48 L120.80,14.10 L121.30,13.91 L121.80,13.91 L122.30,14.08 L122.80,14.40 L123.30,14.83 L123.80,15.37 L124.30,15.98 L124.80,16.64 L125.30,17.57 L125.80,18.83 L126.30,20.36 L126.80,22.11 L127.30,24.02 L127.80,26.03 L128.30,28.09 L128.80,30.26 L129.30,32.73 L129.80,35.45 L130.30,38.36 L130.80,41.40 L131.30,44.49 L131.80,47.59 L132.30,50.67 L132.80,53.83 L133.30,57.10 L133.80,60.50 L134.30,64.08 L134.80,67.86 L135.30,71.87 L135.80,76.24 L136.30,81.71 L136.80,87.91 L137.30,94.18 L137.80,99.88 L138.30,104.40 L138.80,108.21 L139.30,111.75 L139.80,115.07 L140.30,118.23 L140.80,121.28 L141.30,124.26 L141.80,127.23 L142.30,130.23 L142.80,133.33 L143.30,136.44 L143.80,139.54 L144.30,142.63 L144.80,145.71 L145.30,148.78 L145.80,151.83 L146.30,154.89 L146.80,158.04 L147.30,161.38 L147.80,164.71 L148.30,167.82 L148.80,170.49 L149.30,172.57 L149.80,174.37 L150.30,176.00 L150.80,177.47 L151.30,178.79 L151.80,179.98 L152.30,181.04 L152.80,181.98 L153.30,182.89 L153.80,183.78 L154.30,184.65 L154.80,185.49 L155.30,186.30 L155.80,187.07 L156.30,187.80 L156.80,188.48 L157.30,189.10 L157.80,189.70 L158.30,190.30 L158.80,190.90 L159.30,191.49 L159.80,192.06 L160.30,192.60 L160.80,193.10 L161.30,193.55 L161.80,193.95 L162.30,194.29 L162.80,194.55 L163.30,194.76 L163.80,194.95 L164.30,195.11 L164.80,195.23 L165.30,195.32 L165.80,195.36 L166.30,195.37 L166.80,195.33 L167.30,195.24 L167.80,195.11 L168.30,194.92 L168.80,194.67 L169.30,194.36 L169.80,193.87 L170.30,193.26 L170.80,192.61 L171.30,192.01 L171.80,191.51 L172.30,191.03 L172.80,190.55 L173.30,190.07 L173.80,189.61 L174.30,189.14 L174.80,188.69 L175.30,188.24 L175.80,187.79 L176.30,187.36 L176.80,186.94 L177.30,186.53 L177.80,186.13 L178.30,185.74 L178.80,185.36 L179.30,185.00 L179.80,184.63 L180.30,184.25 L180.80,183.87 L181.30,183.49 L181.80,183.12 L182.30,182.77 L182.80,182.45 L183.30,182.16 L183.80,181.93 L184.30,181.75 L184.80,181.63 L185.30,181.59 L185.80,181.63 L186.30,181.76 L186.80,182.00 L187.30,182.32 L187.80,182.72 L188.30,183.19 L188.80,183.71 L189.30,184.27 L189.80,184.87 L190.30,185.48 L190.80,186.10 L191.30,186.71 L191.80,187.31 L192.30,187.88 L192.80,188.40 L193.30,188.92 L193.80,189.46 L194.30,190.02 L194.80,190.60 L195.30,191.17 L195.80,191.75 L196.30,192.31 L196.80,192.85 L197.30,193.37 L197.80,193.84 L198.30,194.28 L198.80,194.66 L199.30,194.99 L199.80,195.25 L200.30,195.45 L200.80,195.60 L201.30,195.71 L201.80,195.78 L202.30,195.82 L202.80,195.84 L203.30,195.84 L203.80,195.84 L204.30,195.84 L204.80,195.85 L205.30,195.87 L205.80,195.92 L206.30,195.99 L206.80,196.10 L207.30,196.26 L207.80,196.46 L208.30,196.68 L208.80,196.92 L209.30,197.18 L209.80,197.46 L210.30,197.75 L210.80,198.06 L211.30,198.39 L211.80,198.73 L212.30,199.08 L212.80,199.45 L213.30,199.84 L213.80,200.28 L214.30,200.77 L214.80,201.30 L215.30,201.85 L215.80,202.43 L216.30,203.01 L216.80,203.59 L217.30,204.16 L217.80,204.71 L218.30,205.22 L218.80,205.69 L219.30,206.11 L219.80,206.47 L220.30,206.80 L220.80,207.13 L221.30,207.44 L221.80,207.75 L222.30,208.05 L222.80,208.33 L223.30,208.59 L223.80,208.83 L224.30,209.05 L224.80,209.25 L225.30,209.41 L225.80,209.56 L226.30,209.67 L226.80,209.75 L227.30,209.83 L227.80,209.90 L228.30,209.97 L228.80,210.05 L229.30,210.12 L229.80,210.18 L230.30,210.25 L230.80,210.31 L231.30,210.37 L231.80,210.43 L232.30,210.49 L232.80,210.55 L233.30,210.60 L233.80,210.65 L234.30,210.70 L234.80,210.75 L235.30,210.79 L235.80,210.84 L236.30,210.88 L236.80,210.92 L237.30,210.97 L237.80,211.02 L238.30,211.06 L238.80,211.11 L239.30,211.15 L239.80,211.20 L240.30,211.25 L240.80,211.29 L241.30,211.34 L241.80,211.38 L242.30,211.43 L242.80,211.47 L243.30,211.52 L243.80,211.56 L244.30,211.60 L244.80,211.64 L245.30,211.68 L245.80,211.72 L246.30,211.76 L246.80,211.80 L247.30,211.83 L247.80,211.87 L248.30,211.90 L248.80,211.93 L249.30,211.96 L249.80,211.99" fill="none" stroke="#FF0080" stroke-width="1.8" stroke-linejoin="round" stroke-linecap="round"/>
<g fill="#FF0080"><circle cx="29.80" cy="172.00" r="2.05"/><circle cx="33.34" cy="179.60" r="2.05"/><circle cx="36.88" cy="188.89" r="2.05"/><circle cx="40.42" cy="194.40" r="2.05"/><circle cx="43.96" cy="195.40" r="2.05"/><circle cx="47.50" cy="194.04" r="2.05"/><circle cx="51.04" cy="191.70" r="2.05"/><circle cx="54.58" cy="186.63" r="2.05"/><circle cx="58.12" cy="180.11" r="2.05"/><circle cx="61.66" cy="170.78" r="2.05"/><circle cx="65.20" cy="163.20" r="2.05"/><circle cx="68.74" cy="154.99" r="2.05"/><circle cx="72.28" cy="151.23" r="2.05"/><circle cx="75.82" cy="153.60" r="2.05"/><circle cx="79.36" cy="159.03" r="2.05"/><circle cx="82.90" cy="161.80" r="2.05"/><circle cx="86.44" cy="156.56" r="2.05"/><circle cx="89.98" cy="146.62" r="2.05"/><circle cx="93.52" cy="134.97" r="2.05"/><circle cx="97.06" cy="113.14" r="2.05"/><circle cx="100.60" cy="91.55" r="2.05"/><circle cx="104.14" cy="74.15" r="2.05"/><circle cx="107.68" cy="58.72" r="2.05"/><circle cx="111.22" cy="42.40" r="2.05"/><circle cx="114.76" cy="26.11" r="2.05"/><circle cx="118.30" cy="17.28" r="2.05"/><circle cx="121.84" cy="13.92" r="2.05"/><circle cx="125.38" cy="17.75" r="2.05"/><circle cx="128.92" cy="30.83" r="2.05"/><circle cx="132.46" cy="51.67" r="2.05"/><circle cx="136.00" cy="78.30" r="2.05"/><circle cx="139.54" cy="113.37" r="2.05"/><circle cx="143.08" cy="135.07" r="2.05"/><circle cx="146.62" cy="156.88" r="2.05"/><circle cx="150.16" cy="175.56" r="2.05"/><circle cx="153.70" cy="183.60" r="2.05"/><circle cx="157.24" cy="189.03" r="2.05"/><circle cx="160.78" cy="193.08" r="2.05"/><circle cx="164.32" cy="195.12" r="2.05"/><circle cx="167.86" cy="195.09" r="2.05"/><circle cx="171.40" cy="191.90" r="2.05"/><circle cx="174.94" cy="188.56" r="2.05"/><circle cx="178.48" cy="185.60" r="2.05"/><circle cx="182.02" cy="182.96" r="2.05"/><circle cx="185.56" cy="181.60" r="2.05"/><circle cx="189.10" cy="184.04" r="2.05"/><circle cx="192.64" cy="188.24" r="2.05"/><circle cx="196.18" cy="192.18" r="2.05"/><circle cx="199.72" cy="195.21" r="2.05"/><circle cx="203.26" cy="195.84" r="2.05"/><circle cx="206.80" cy="196.10" r="2.05"/><circle cx="210.34" cy="197.78" r="2.05"/><circle cx="213.88" cy="200.35" r="2.05"/><circle cx="217.42" cy="204.29" r="2.05"/><circle cx="220.96" cy="207.23" r="2.05"/><circle cx="224.50" cy="209.13" r="2.05"/><circle cx="228.04" cy="209.94" r="2.05"/><circle cx="231.58" cy="210.41" r="2.05"/><circle cx="235.12" cy="210.78" r="2.05"/><circle cx="238.66" cy="211.10" r="2.05"/><circle cx="242.20" cy="211.42" r="2.05"/><circle cx="245.74" cy="211.72" r="2.05"/><circle cx="249.28" cy="211.96" r="2.05"/></g>
<text x="17.8" y="201.3" font-size="16.4" text-anchor="start" fill="#151515" stroke="#151515" stroke-width="0.12" transform="rotate(-90 17.8 201.3)">Normalized absorbance</text>
<text x="77.4" y="260.6" font-size="16.5" text-anchor="start" fill="#151515" stroke="#151515" stroke-width="0.12">Wavelength (nm)</text>
<text x="37.0" y="27.4" font-size="15.5" text-anchor="start" fill="#151515" stroke="#151515" stroke-width="0.12">(a)</text>
<line x1="156.70" y1="20.90" x2="183.90" y2="20.90" stroke="#008000" stroke-width="1.7"/><circle cx="170.1" cy="20.9" r="2" fill="#008000"/>
<line x1="156.70" y1="35.10" x2="183.90" y2="35.10" stroke="#FF8000" stroke-width="1.7"/><circle cx="170.1" cy="35.099999999999994" r="2" fill="#FF8000"/>
<line x1="156.70" y1="49.30" x2="183.90" y2="49.30" stroke="#8000FF" stroke-width="1.7"/><circle cx="170.1" cy="49.3" r="2" fill="#8000FF"/>
<line x1="156.70" y1="63.50" x2="183.90" y2="63.50" stroke="#FF0080" stroke-width="1.7"/><circle cx="170.1" cy="63.49999999999999" r="2" fill="#FF0080"/>
<text x="186.6" y="24.9" font-size="11.6" text-anchor="start" fill="#151515" stroke="#151515" stroke-width="0.22">Dichloromethane</text>
<text x="186.6" y="39.099999999999994" font-size="11.6" text-anchor="start" fill="#151515" stroke="#151515" stroke-width="0.22">Ethanol</text>
<text x="186.6" y="53.3" font-size="11.6" text-anchor="start" fill="#151515" stroke="#151515" stroke-width="0.22">Methanol</text>
<text x="186.6" y="67.5" font-size="11.6" text-anchor="start" fill="#151515" stroke="#151515" stroke-width="0.22">Acetonitrile</text>
<line x1="307.30" y1="9.20" x2="307.30" y2="219.10" stroke="#262626" stroke-width="1.7"/>
<line x1="307.30" y1="216.30" x2="528.40" y2="216.30" stroke="#262626" stroke-width="1.7"/>
<line x1="307.30" y1="216.30" x2="307.30" y2="219.30" stroke="#262626" stroke-width="1.4449999999999998"/>
<line x1="329.41" y1="216.30" x2="329.41" y2="221.30" stroke="#262626" stroke-width="1.4449999999999998"/>
<line x1="351.52" y1="216.30" x2="351.52" y2="219.30" stroke="#262626" stroke-width="1.4449999999999998"/>
<line x1="373.63" y1="216.30" x2="373.63" y2="221.30" stroke="#262626" stroke-width="1.4449999999999998"/>
<line x1="395.74" y1="216.30" x2="395.74" y2="219.30" stroke="#262626" stroke-width="1.4449999999999998"/>
<line x1="417.85" y1="216.30" x2="417.85" y2="221.30" stroke="#262626" stroke-width="1.4449999999999998"/>
<line x1="439.96" y1="216.30" x2="439.96" y2="219.30" stroke="#262626" stroke-width="1.4449999999999998"/>
<line x1="462.07" y1="216.30" x2="462.07" y2="221.30" stroke="#262626" stroke-width="1.4449999999999998"/>
<line x1="484.18" y1="216.30" x2="484.18" y2="219.30" stroke="#262626" stroke-width="1.4449999999999998"/>
<line x1="506.29" y1="216.30" x2="506.29" y2="221.30" stroke="#262626" stroke-width="1.4449999999999998"/>
<line x1="528.40" y1="216.30" x2="528.40" y2="219.30" stroke="#262626" stroke-width="1.4449999999999998"/>
<text x="329.11" y="236.2" font-size="13.8" text-anchor="middle" fill="#151515" stroke="#151515" stroke-width="0.22">400</text>
<text x="373.33" y="236.2" font-size="13.8" text-anchor="middle" fill="#151515" stroke="#151515" stroke-width="0.22">500</text>
<text x="417.55" y="236.2" font-size="13.8" text-anchor="middle" fill="#151515" stroke="#151515" stroke-width="0.22">600</text>
<text x="461.77" y="236.2" font-size="13.8" text-anchor="middle" fill="#151515" stroke="#151515" stroke-width="0.22">700</text>
<text x="505.99" y="236.2" font-size="13.8" text-anchor="middle" fill="#151515" stroke="#151515" stroke-width="0.22">800</text>
<path d="M307.80,213.52 L308.30,213.55 L308.80,213.58 L309.30,213.59 L309.80,213.59 L310.30,213.58 L310.80,213.56 L311.30,213.53 L311.80,213.49 L312.30,213.44 L312.80,213.38 L313.30,213.30 L313.80,213.21 L314.30,213.11 L314.80,213.00 L315.30,212.86 L315.80,212.70 L316.30,212.51 L316.80,212.30 L317.30,212.07 L317.80,211.84 L318.30,211.59 L318.80,211.35 L319.30,211.10 L319.80,210.86 L320.30,210.64 L320.80,210.43 L321.30,210.24 L321.80,210.07 L322.30,209.92 L322.80,209.79 L323.30,209.67 L323.80,209.56 L324.30,209.46 L324.80,209.36 L325.30,209.26 L325.80,209.16 L326.30,209.04 L326.80,208.92 L327.30,208.79 L327.80,208.63 L328.30,208.46 L328.80,208.25 L329.30,208.02 L329.80,207.77 L330.30,207.49 L330.80,207.19 L331.30,206.87 L331.80,206.54 L332.30,206.19 L332.80,205.82 L333.30,205.45 L333.80,205.06 L334.30,204.66 L334.80,204.25 L335.30,203.78 L335.80,203.25 L336.30,202.68 L336.80,202.06 L337.30,201.40 L337.80,200.71 L338.30,199.99 L338.80,199.25 L339.30,198.49 L339.80,197.72 L340.30,196.94 L340.80,196.12 L341.30,195.25 L341.80,194.33 L342.30,193.38 L342.80,192.40 L343.30,191.41 L343.80,190.42 L344.30,189.44 L344.80,188.48 L345.30,187.56 L345.80,186.67 L346.30,185.83 L346.80,185.00 L347.30,184.18 L347.80,183.38 L348.30,182.59 L348.80,181.81 L349.30,181.03 L349.80,180.26 L350.30,179.49 L350.80,178.73 L351.30,177.96 L351.80,177.19 L352.30,176.37 L352.80,175.53 L353.30,174.67 L353.80,173.81 L354.30,172.99 L354.80,172.21 L355.30,171.50 L355.80,170.87 L356.30,170.35 L356.80,169.97 L357.30,169.80 L357.80,169.83 L358.30,170.05 L358.80,170.43 L359.30,170.95 L359.80,171.57 L360.30,172.29 L360.80,173.06 L361.30,173.87 L361.80,174.75 L362.30,175.85 L362.80,177.16 L363.30,178.60 L363.80,180.13 L364.30,181.69 L364.80,183.23 L365.30,184.68 L365.80,185.99 L366.30,187.11 L366.80,188.05 L367.30,188.98 L367.80,189.86 L368.30,190.68 L368.80,191.41 L369.30,192.04 L369.80,192.55 L370.30,192.90 L370.80,193.11 L371.30,193.21 L371.80,193.22 L372.30,193.13 L372.80,192.95 L373.30,192.69 L373.80,192.33 L374.30,191.88 L374.80,191.35 L375.30,190.73 L375.80,189.92 L376.30,188.80 L376.80,187.56 L377.30,186.40 L377.80,185.36 L378.30,184.35 L378.80,183.36 L379.30,182.37 L379.80,181.37 L380.30,180.36 L380.80,179.31 L381.30,178.24 L381.80,177.15 L382.30,176.03 L382.80,174.90 L383.30,173.75 L383.80,172.58 L384.30,171.38 L384.80,170.17 L385.30,168.93 L385.80,167.66 L386.30,166.36 L386.80,165.01 L387.30,163.60 L387.80,162.13 L388.30,160.58 L388.80,158.92 L389.30,157.13 L389.80,155.25 L390.30,153.30 L390.80,151.31 L391.30,149.30 L391.80,147.30 L392.30,145.30 L392.80,143.26 L393.30,141.19 L393.80,139.09 L394.30,136.97 L394.80,134.83 L395.30,132.67 L395.80,130.48 L396.30,128.25 L396.80,125.97 L397.30,123.68 L397.80,121.38 L398.30,119.09 L398.80,116.84 L399.30,114.62 L399.80,112.46 L400.30,110.33 L400.80,108.22 L401.30,106.10 L401.80,103.96 L402.30,101.78 L402.80,99.55 L403.30,97.25 L403.80,94.90 L404.30,92.53 L404.80,90.13 L405.30,87.73 L405.80,85.35 L406.30,82.98 L406.80,80.63 L407.30,78.29 L407.80,75.94 L408.30,73.59 L408.80,71.22 L409.30,68.83 L409.80,66.41 L410.30,63.96 L410.80,61.47 L411.30,58.96 L411.80,56.44 L412.30,53.94 L412.80,51.46 L413.30,49.02 L413.80,46.63 L414.30,44.28 L414.80,41.96 L415.30,39.63 L415.80,37.30 L416.30,34.92 L416.80,32.49 L417.30,29.88 L417.80,26.95 L418.30,23.89 L418.80,20.89 L419.30,18.15 L419.80,15.87 L420.30,14.23 L420.80,13.20 L421.30,12.67 L421.80,12.56 L422.30,12.81 L422.80,13.36 L423.30,14.14 L423.80,15.14 L424.30,16.53 L424.80,18.28 L425.30,20.32 L425.80,22.60 L426.30,25.08 L426.80,27.68 L427.30,30.36 L427.80,33.21 L428.30,36.49 L428.80,40.15 L429.30,44.14 L429.80,48.41 L430.30,52.90 L430.80,57.55 L431.30,62.38 L431.80,67.82 L432.30,73.79 L432.80,80.03 L433.30,86.30 L433.80,92.35 L434.30,97.95 L434.80,102.94 L435.30,107.63 L435.80,112.12 L436.30,116.46 L436.80,120.72 L437.30,124.96 L437.80,129.22 L438.30,133.59 L438.80,138.17 L439.30,142.90 L439.80,147.61 L440.30,152.10 L440.80,156.23 L441.30,159.80 L441.80,162.92 L442.30,165.80 L442.80,168.49 L443.30,170.99 L443.80,173.33 L444.30,175.55 L444.80,177.67 L445.30,179.72 L445.80,181.80 L446.30,183.88 L446.80,185.89 L447.30,187.73 L447.80,189.36 L448.30,190.68 L448.80,191.75 L449.30,192.78 L449.80,193.76 L450.30,194.66 L450.80,195.45 L451.30,196.11 L451.80,196.62 L452.30,196.95 L452.80,197.23 L453.30,197.49 L453.80,197.74 L454.30,197.97 L454.80,198.17 L455.30,198.34 L455.80,198.46 L456.30,198.55 L456.80,198.62 L457.30,198.68 L457.80,198.73 L458.30,198.77 L458.80,198.80 L459.30,198.84 L459.80,198.86 L460.30,198.89 L460.80,198.91 L461.30,198.94 L461.80,198.97 L462.30,199.01 L462.80,199.05 L463.30,199.10 L463.80,199.16 L464.30,199.23 L464.80,199.31 L465.30,199.41 L465.80,199.52 L466.30,199.65 L466.80,199.80 L467.30,199.96 L467.80,200.13 L468.30,200.31 L468.80,200.50 L469.30,200.69 L469.80,200.89 L470.30,201.10 L470.80,201.31 L471.30,201.52 L471.80,201.73 L472.30,201.93 L472.80,202.14 L473.30,202.34 L473.80,202.53 L474.30,202.72 L474.80,202.90 L475.30,203.07 L475.80,203.23 L476.30,203.40 L476.80,203.56 L477.30,203.73 L477.80,203.89 L478.30,204.05 L478.80,204.21 L479.30,204.37 L479.80,204.53 L480.30,204.69 L480.80,204.84 L481.30,205.00 L481.80,205.15 L482.30,205.30 L482.80,205.44 L483.30,205.59 L483.80,205.73 L484.30,205.87 L484.80,206.01 L485.30,206.14 L485.80,206.27 L486.30,206.40 L486.80,206.52 L487.30,206.64 L487.80,206.75 L488.30,206.85 L488.80,206.95 L489.30,207.04 L489.80,207.13 L490.30,207.21 L490.80,207.30 L491.30,207.38 L491.80,207.46 L492.30,207.54 L492.80,207.63 L493.30,207.71 L493.80,207.80 L494.30,207.89 L494.80,207.98 L495.30,208.08 L495.80,208.19 L496.30,208.30 L496.80,208.42 L497.30,208.55 L497.80,208.68 L498.30,208.84 L498.80,209.02 L499.30,209.20 L499.80,209.40 L500.30,209.61 L500.80,209.83 L501.30,210.05 L501.80,210.28 L502.30,210.50 L502.80,210.72 L503.30,210.93 L503.80,211.14 L504.30,211.33 L504.80,211.52 L505.30,211.68 L505.80,211.83 L506.30,211.96 L506.80,212.06 L507.30,212.16 L507.80,212.26 L508.30,212.36 L508.80,212.45 L509.30,212.54 L509.80,212.63 L510.30,212.72 L510.80,212.80 L511.30,212.88 L511.80,212.95 L512.30,213.03 L512.80,213.10 L513.30,213.17 L513.80,213.23 L514.30,213.29 L514.80,213.35 L515.30,213.41 L515.80,213.46 L516.30,213.51 L516.80,213.56 L517.30,213.60 L517.80,213.64 L518.30,213.68 L518.80,213.72 L519.30,213.75 L519.80,213.78 L520.30,213.80 L520.80,213.83 L521.30,213.85 L521.80,213.87 L522.30,213.88 L522.80,213.89 L523.30,213.90 L523.80,213.91 L524.30,213.91 L524.80,213.91 L525.30,213.91 L525.80,213.90 L526.30,213.89 L526.80,213.88 L527.30,213.87 L527.80,213.85 L528.30,213.83" fill="none" stroke="#008000" stroke-width="1.8" stroke-linejoin="round" stroke-linecap="round"/>
<g fill="#008000"><circle cx="307.80" cy="213.52" r="2.05"/><circle cx="311.34" cy="213.53" r="2.05"/><circle cx="314.88" cy="212.98" r="2.05"/><circle cx="318.42" cy="211.53" r="2.05"/><circle cx="321.96" cy="210.02" r="2.05"/><circle cx="325.50" cy="209.22" r="2.05"/><circle cx="329.04" cy="208.14" r="2.05"/><circle cx="332.58" cy="205.99" r="2.05"/><circle cx="336.12" cy="202.89" r="2.05"/><circle cx="339.66" cy="197.94" r="2.05"/><circle cx="343.20" cy="191.61" r="2.05"/><circle cx="346.74" cy="185.10" r="2.05"/><circle cx="350.28" cy="179.52" r="2.05"/><circle cx="353.82" cy="173.78" r="2.05"/><circle cx="357.36" cy="169.79" r="2.05"/><circle cx="360.90" cy="173.22" r="2.05"/><circle cx="364.44" cy="182.13" r="2.05"/><circle cx="367.98" cy="190.16" r="2.05"/><circle cx="371.52" cy="193.22" r="2.05"/><circle cx="375.06" cy="191.04" r="2.05"/><circle cx="378.60" cy="183.75" r="2.05"/><circle cx="382.14" cy="176.39" r="2.05"/><circle cx="385.68" cy="167.97" r="2.05"/><circle cx="389.22" cy="157.43" r="2.05"/><circle cx="392.76" cy="143.42" r="2.05"/><circle cx="396.30" cy="128.25" r="2.05"/><circle cx="399.84" cy="112.29" r="2.05"/><circle cx="403.38" cy="96.88" r="2.05"/><circle cx="406.92" cy="80.07" r="2.05"/><circle cx="410.46" cy="63.17" r="2.05"/><circle cx="414.00" cy="45.68" r="2.05"/><circle cx="417.54" cy="28.50" r="2.05"/><circle cx="421.08" cy="12.85" r="2.05"/><circle cx="424.62" cy="17.61" r="2.05"/><circle cx="428.16" cy="35.53" r="2.05"/><circle cx="431.70" cy="66.68" r="2.05"/><circle cx="435.24" cy="107.07" r="2.05"/><circle cx="438.78" cy="137.99" r="2.05"/><circle cx="442.32" cy="165.91" r="2.05"/><circle cx="445.86" cy="182.06" r="2.05"/><circle cx="449.40" cy="192.98" r="2.05"/><circle cx="452.94" cy="197.30" r="2.05"/><circle cx="456.48" cy="198.57" r="2.05"/><circle cx="460.02" cy="198.87" r="2.05"/><circle cx="463.56" cy="199.13" r="2.05"/><circle cx="467.10" cy="199.89" r="2.05"/><circle cx="470.64" cy="201.24" r="2.05"/><circle cx="474.18" cy="202.68" r="2.05"/><circle cx="477.72" cy="203.87" r="2.05"/><circle cx="481.26" cy="204.98" r="2.05"/><circle cx="484.80" cy="206.01" r="2.05"/><circle cx="488.34" cy="206.86" r="2.05"/><circle cx="491.88" cy="207.47" r="2.05"/><circle cx="495.42" cy="208.11" r="2.05"/><circle cx="498.96" cy="209.07" r="2.05"/><circle cx="502.50" cy="210.59" r="2.05"/><circle cx="506.04" cy="211.89" r="2.05"/><circle cx="509.58" cy="212.59" r="2.05"/><circle cx="513.12" cy="213.14" r="2.05"/><circle cx="516.66" cy="213.54" r="2.05"/><circle cx="520.20" cy="213.80" r="2.05"/><circle cx="523.74" cy="213.91" r="2.05"/><circle cx="527.28" cy="213.87" r="2.05"/></g>
<path d="M307.80,213.53 L308.30,213.56 L308.80,213.58 L309.30,213.58 L309.80,213.58 L310.30,213.56 L310.80,213.53 L311.30,213.49 L311.80,213.45 L312.30,213.39 L312.80,213.33 L313.30,213.25 L313.80,213.18 L314.30,213.09 L314.80,213.00 L315.30,212.89 L315.80,212.75 L316.30,212.59 L316.80,212.40 L317.30,212.19 L317.80,211.97 L318.30,211.72 L318.80,211.47 L319.30,211.20 L319.80,210.92 L320.30,210.64 L320.80,210.35 L321.30,210.06 L321.80,209.76 L322.30,209.42 L322.80,209.06 L323.30,208.66 L323.80,208.24 L324.30,207.79 L324.80,207.31 L325.30,206.82 L325.80,206.31 L326.30,205.78 L326.80,205.23 L327.30,204.68 L327.80,204.11 L328.30,203.53 L328.80,202.90 L329.30,202.24 L329.80,201.54 L330.30,200.82 L330.80,200.06 L331.30,199.28 L331.80,198.49 L332.30,197.67 L332.80,196.85 L333.30,196.01 L333.80,195.17 L334.30,194.34 L334.80,193.49 L335.30,192.62 L335.80,191.72 L336.30,190.80 L336.80,189.87 L337.30,188.92 L337.80,187.98 L338.30,187.03 L338.80,186.10 L339.30,185.18 L339.80,184.28 L340.30,183.38 L340.80,182.49 L341.30,181.61 L341.80,180.73 L342.30,179.85 L342.80,178.97 L343.30,178.09 L343.80,177.20 L344.30,176.31 L344.80,175.41 L345.30,174.50 L345.80,173.59 L346.30,172.61 L346.80,171.49 L347.30,170.26 L347.80,168.97 L348.30,167.64 L348.80,166.32 L349.30,165.04 L349.80,163.84 L350.30,162.76 L350.80,161.83 L351.30,161.08 L351.80,160.57 L352.30,160.32 L352.80,160.33 L353.30,160.49 L353.80,160.76 L354.30,161.13 L354.80,161.59 L355.30,162.12 L355.80,162.72 L356.30,163.37 L356.80,164.06 L357.30,164.78 L357.80,165.51 L358.30,166.24 L358.80,166.97 L359.30,167.67 L359.80,168.34 L360.30,168.96 L360.80,169.53 L361.30,170.11 L361.80,170.74 L362.30,171.38 L362.80,172.03 L363.30,172.68 L363.80,173.32 L364.30,173.94 L364.80,174.53 L365.30,175.07 L365.80,175.57 L366.30,176.00 L366.80,176.37 L367.30,176.64 L367.80,176.64 L368.30,176.34 L368.80,175.79 L369.30,175.08 L369.80,174.27 L370.30,173.44 L370.80,172.64 L371.30,171.77 L371.80,170.76 L372.30,169.63 L372.80,168.41 L373.30,167.11 L373.80,165.76 L374.30,164.38 L374.80,162.94 L375.30,161.37 L375.80,159.69 L376.30,157.90 L376.80,156.03 L377.30,154.09 L377.80,152.10 L378.30,149.98 L378.80,147.73 L379.30,145.40 L379.80,143.03 L380.30,140.66 L380.80,138.35 L381.30,136.11 L381.80,133.88 L382.30,131.66 L382.80,129.45 L383.30,127.24 L383.80,125.02 L384.30,122.79 L384.80,120.56 L385.30,118.33 L385.80,116.11 L386.30,113.87 L386.80,111.63 L387.30,109.36 L387.80,107.06 L388.30,104.73 L388.80,102.34 L389.30,99.91 L389.80,97.45 L390.30,94.97 L390.80,92.49 L391.30,90.03 L391.80,87.60 L392.30,85.19 L392.80,82.78 L393.30,80.37 L393.80,77.97 L394.30,75.60 L394.80,73.24 L395.30,70.93 L395.80,68.65 L396.30,66.46 L396.80,64.34 L397.30,62.25 L397.80,60.16 L398.30,58.03 L398.80,55.82 L399.30,53.48 L399.80,51.03 L400.30,48.50 L400.80,45.92 L401.30,43.33 L401.80,40.78 L402.30,38.30 L402.80,35.93 L403.30,33.55 L403.80,31.15 L404.30,28.80 L404.80,26.57 L405.30,24.55 L405.80,22.80 L406.30,21.35 L406.80,20.01 L407.30,18.77 L407.80,17.64 L408.30,16.62 L408.80,15.74 L409.30,14.99 L409.80,14.39 L410.30,13.92 L410.80,13.55 L411.30,13.31 L411.80,13.18 L412.30,13.18 L412.80,13.30 L413.30,13.57 L413.80,14.17 L414.30,15.15 L414.80,16.47 L415.30,18.06 L415.80,19.88 L416.30,21.87 L416.80,23.97 L417.30,26.30 L417.80,29.10 L418.30,32.25 L418.80,35.61 L419.30,39.07 L419.80,42.48 L420.30,45.73 L420.80,48.84 L421.30,51.87 L421.80,54.89 L422.30,57.93 L422.80,61.04 L423.30,64.27 L423.80,67.65 L424.30,71.23 L424.80,75.12 L425.30,79.74 L425.80,84.89 L426.30,90.21 L426.80,95.37 L427.30,100.00 L427.80,104.17 L428.30,108.19 L428.80,112.07 L429.30,115.84 L429.80,119.50 L430.30,123.08 L430.80,126.60 L431.30,130.08 L431.80,133.54 L432.30,136.95 L432.80,140.30 L433.30,143.56 L433.80,146.71 L434.30,149.73 L434.80,152.63 L435.30,155.50 L435.80,158.30 L436.30,161.01 L436.80,163.60 L437.30,166.03 L437.80,168.27 L438.30,170.31 L438.80,172.28 L439.30,174.17 L439.80,175.98 L440.30,177.70 L440.80,179.31 L441.30,180.82 L441.80,182.20 L442.30,183.50 L442.80,184.76 L443.30,185.98 L443.80,187.15 L444.30,188.26 L444.80,189.33 L445.30,190.33 L445.80,191.28 L446.30,192.24 L446.80,193.19 L447.30,194.11 L447.80,194.94 L448.30,195.66 L448.80,196.21 L449.30,196.64 L449.80,197.07 L450.30,197.48 L450.80,197.87 L451.30,198.23 L451.80,198.54 L452.30,198.79 L452.80,198.98 L453.30,199.08 L453.80,199.10 L454.30,199.06 L454.80,199.00 L455.30,198.93 L455.80,198.86 L456.30,198.78 L456.80,198.71 L457.30,198.64 L457.80,198.58 L458.30,198.53 L458.80,198.49 L459.30,198.47 L459.80,198.44 L460.30,198.42 L460.80,198.40 L461.30,198.38 L461.80,198.37 L462.30,198.36 L462.80,198.35 L463.30,198.35 L463.80,198.36 L464.30,198.38 L464.80,198.40 L465.30,198.43 L465.80,198.47 L466.30,198.52 L466.80,198.61 L467.30,198.74 L467.80,198.91 L468.30,199.11 L468.80,199.34 L469.30,199.59 L469.80,199.87 L470.30,200.16 L470.80,200.47 L471.30,200.79 L471.80,201.11 L472.30,201.44 L472.80,201.77 L473.30,202.09 L473.80,202.41 L474.30,202.71 L474.80,203.00 L475.30,203.28 L475.80,203.52 L476.30,203.75 L476.80,203.94 L477.30,204.10 L477.80,204.23 L478.30,204.33 L478.80,204.42 L479.30,204.48 L479.80,204.52 L480.30,204.55 L480.80,204.56 L481.30,204.56 L481.80,204.55 L482.30,204.53 L482.80,204.51 L483.30,204.48 L483.80,204.45 L484.30,204.41 L484.80,204.38 L485.30,204.35 L485.80,204.33 L486.30,204.31 L486.80,204.30 L487.30,204.31 L487.80,204.32 L488.30,204.35 L488.80,204.40 L489.30,204.47 L489.80,204.55 L490.30,204.67 L490.80,204.80 L491.30,204.97 L491.80,205.18 L492.30,205.42 L492.80,205.68 L493.30,205.98 L493.80,206.29 L494.30,206.61 L494.80,206.95 L495.30,207.29 L495.80,207.63 L496.30,207.96 L496.80,208.28 L497.30,208.59 L497.80,208.88 L498.30,209.14 L498.80,209.37 L499.30,209.57 L499.80,209.73 L500.30,209.87 L500.80,210.02 L501.30,210.16 L501.80,210.30 L502.30,210.43 L502.80,210.57 L503.30,210.70 L503.80,210.83 L504.30,210.96 L504.80,211.09 L505.30,211.21 L505.80,211.33 L506.30,211.45 L506.80,211.57 L507.30,211.68 L507.80,211.79 L508.30,211.90 L508.80,212.01 L509.30,212.11 L509.80,212.21 L510.30,212.31 L510.80,212.40 L511.30,212.50 L511.80,212.59 L512.30,212.68 L512.80,212.76 L513.30,212.84 L513.80,212.92 L514.30,213.00 L514.80,213.07 L515.30,213.14 L515.80,213.21 L516.30,213.27 L516.80,213.33 L517.30,213.39 L517.80,213.45 L518.30,213.50 L518.80,213.55 L519.30,213.59 L519.80,213.64 L520.30,213.67 L520.80,213.71 L521.30,213.74 L521.80,213.77 L522.30,213.80 L522.80,213.82 L523.30,213.84 L523.80,213.85 L524.30,213.86 L524.80,213.87 L525.30,213.88 L525.80,213.88 L526.30,213.87 L526.80,213.87 L527.30,213.86 L527.80,213.84 L528.30,213.83" fill="none" stroke="#FF8000" stroke-width="1.8" stroke-linejoin="round" stroke-linecap="round"/>
<g fill="#FF8000"><circle cx="307.80" cy="213.53" r="2.05"/><circle cx="311.34" cy="213.49" r="2.05"/><circle cx="314.88" cy="212.98" r="2.05"/><circle cx="318.42" cy="211.66" r="2.05"/><circle cx="321.96" cy="209.65" r="2.05"/><circle cx="325.50" cy="206.62" r="2.05"/><circle cx="329.04" cy="202.59" r="2.05"/><circle cx="332.58" cy="197.21" r="2.05"/><circle cx="336.12" cy="191.13" r="2.05"/><circle cx="339.66" cy="184.53" r="2.05"/><circle cx="343.20" cy="178.26" r="2.05"/><circle cx="346.74" cy="171.63" r="2.05"/><circle cx="350.28" cy="162.80" r="2.05"/><circle cx="353.82" cy="160.77" r="2.05"/><circle cx="357.36" cy="164.87" r="2.05"/><circle cx="360.90" cy="169.64" r="2.05"/><circle cx="364.44" cy="174.11" r="2.05"/><circle cx="367.98" cy="176.56" r="2.05"/><circle cx="371.52" cy="171.34" r="2.05"/><circle cx="375.06" cy="162.14" r="2.05"/><circle cx="378.60" cy="148.64" r="2.05"/><circle cx="382.14" cy="132.37" r="2.05"/><circle cx="385.68" cy="116.64" r="2.05"/><circle cx="389.22" cy="100.30" r="2.05"/><circle cx="392.76" cy="82.97" r="2.05"/><circle cx="396.30" cy="66.46" r="2.05"/><circle cx="399.84" cy="50.83" r="2.05"/><circle cx="403.38" cy="33.16" r="2.05"/><circle cx="406.92" cy="19.71" r="2.05"/><circle cx="410.46" cy="13.79" r="2.05"/><circle cx="414.00" cy="14.52" r="2.05"/><circle cx="417.54" cy="27.59" r="2.05"/><circle cx="421.08" cy="50.54" r="2.05"/><circle cx="424.62" cy="73.66" r="2.05"/><circle cx="428.16" cy="107.08" r="2.05"/><circle cx="431.70" cy="132.85" r="2.05"/><circle cx="435.24" cy="155.15" r="2.05"/><circle cx="438.78" cy="172.20" r="2.05"/><circle cx="442.32" cy="183.55" r="2.05"/><circle cx="445.86" cy="191.39" r="2.05"/><circle cx="449.40" cy="196.73" r="2.05"/><circle cx="452.94" cy="199.02" r="2.05"/><circle cx="456.48" cy="198.76" r="2.05"/><circle cx="460.02" cy="198.43" r="2.05"/><circle cx="463.56" cy="198.36" r="2.05"/><circle cx="467.10" cy="198.69" r="2.05"/><circle cx="470.64" cy="200.37" r="2.05"/><circle cx="474.18" cy="202.64" r="2.05"/><circle cx="477.72" cy="204.21" r="2.05"/><circle cx="481.26" cy="204.56" r="2.05"/><circle cx="484.80" cy="204.38" r="2.05"/><circle cx="488.34" cy="204.36" r="2.05"/><circle cx="491.88" cy="205.21" r="2.05"/><circle cx="495.42" cy="207.37" r="2.05"/><circle cx="498.96" cy="209.44" r="2.05"/><circle cx="502.50" cy="210.49" r="2.05"/><circle cx="506.04" cy="211.39" r="2.05"/><circle cx="509.58" cy="212.17" r="2.05"/><circle cx="513.12" cy="212.81" r="2.05"/><circle cx="516.66" cy="213.32" r="2.05"/><circle cx="520.20" cy="213.67" r="2.05"/><circle cx="523.74" cy="213.85" r="2.05"/><circle cx="527.28" cy="213.86" r="2.05"/></g>
<path d="M307.80,215.13 L308.30,215.17 L308.80,215.19 L309.30,215.19 L309.80,215.18 L310.30,215.16 L310.80,215.12 L311.30,215.07 L311.80,215.00 L312.30,214.92 L312.80,214.82 L313.30,214.71 L313.80,214.59 L314.30,214.45 L314.80,214.30 L315.30,214.12 L315.80,213.91 L316.30,213.67 L316.80,213.40 L317.30,213.10 L317.80,212.78 L318.30,212.44 L318.80,212.09 L319.30,211.73 L319.80,211.37 L320.30,211.00 L320.80,210.63 L321.30,210.27 L321.80,209.91 L322.30,209.54 L322.80,209.15 L323.30,208.74 L323.80,208.33 L324.30,207.90 L324.80,207.46 L325.30,207.01 L325.80,206.55 L326.30,206.08 L326.80,205.59 L327.30,205.10 L327.80,204.60 L328.30,204.09 L328.80,203.54 L329.30,202.98 L329.80,202.38 L330.30,201.76 L330.80,201.11 L331.30,200.44 L331.80,199.74 L332.30,199.01 L332.80,198.26 L333.30,197.48 L333.80,196.67 L334.30,195.84 L334.80,194.97 L335.30,194.02 L335.80,192.99 L336.30,191.91 L336.80,190.78 L337.30,189.62 L337.80,188.45 L338.30,187.29 L338.80,186.14 L339.30,185.02 L339.80,183.94 L340.30,182.87 L340.80,181.80 L341.30,180.74 L341.80,179.68 L342.30,178.62 L342.80,177.54 L343.30,176.45 L343.80,175.34 L344.30,174.20 L344.80,172.98 L345.30,171.66 L345.80,170.26 L346.30,168.83 L346.80,167.41 L347.30,166.04 L347.80,164.74 L348.30,163.57 L348.80,162.57 L349.30,161.75 L349.80,161.03 L350.30,160.33 L350.80,159.67 L351.30,159.06 L351.80,158.50 L352.30,157.99 L352.80,157.55 L353.30,157.18 L353.80,156.89 L354.30,156.68 L354.80,156.56 L355.30,156.55 L355.80,156.63 L356.30,156.83 L356.80,157.14 L357.30,157.61 L357.80,158.19 L358.30,158.86 L358.80,159.57 L359.30,160.28 L359.80,160.97 L360.30,161.58 L360.80,162.10 L361.30,162.59 L361.80,163.07 L362.30,163.51 L362.80,163.92 L363.30,164.26 L363.80,164.53 L364.30,164.71 L364.80,164.80 L365.30,164.72 L365.80,164.39 L366.30,163.84 L366.80,163.11 L367.30,162.22 L367.80,161.21 L368.30,160.11 L368.80,158.94 L369.30,157.75 L369.80,156.57 L370.30,155.38 L370.80,154.06 L371.30,152.63 L371.80,151.09 L372.30,149.47 L372.80,147.80 L373.30,146.10 L373.80,144.38 L374.30,142.67 L374.80,140.99 L375.30,139.28 L375.80,137.53 L376.30,135.74 L376.80,133.90 L377.30,131.99 L377.80,130.01 L378.30,127.94 L378.80,125.73 L379.30,123.42 L379.80,121.03 L380.30,118.62 L380.80,116.22 L381.30,113.87 L381.80,111.60 L382.30,109.37 L382.80,107.15 L383.30,104.96 L383.80,102.77 L384.30,100.60 L384.80,98.43 L385.30,96.26 L385.80,94.10 L386.30,91.92 L386.80,89.74 L387.30,87.54 L387.80,85.33 L388.30,83.10 L388.80,80.83 L389.30,78.46 L389.80,76.05 L390.30,73.63 L390.80,71.27 L391.30,69.01 L391.80,66.90 L392.30,65.00 L392.80,63.29 L393.30,61.71 L393.80,60.19 L394.30,58.66 L394.80,57.06 L395.30,55.33 L395.80,53.39 L396.30,51.23 L396.80,48.90 L397.30,46.47 L397.80,44.02 L398.30,41.62 L398.80,39.35 L399.30,37.25 L399.80,35.18 L400.30,33.14 L400.80,31.16 L401.30,29.25 L401.80,27.42 L402.30,25.70 L402.80,24.09 L403.30,22.51 L403.80,20.97 L404.30,19.50 L404.80,18.15 L405.30,16.95 L405.80,15.94 L406.30,15.13 L406.80,14.43 L407.30,13.83 L407.80,13.34 L408.30,12.99 L408.80,12.77 L409.30,12.72 L409.80,12.84 L410.30,13.28 L410.80,14.04 L411.30,15.06 L411.80,16.26 L412.30,17.57 L412.80,18.93 L413.30,20.27 L413.80,21.76 L414.30,23.51 L414.80,25.51 L415.30,27.74 L415.80,30.21 L416.30,32.90 L416.80,35.80 L417.30,39.12 L417.80,43.21 L418.30,47.82 L418.80,52.71 L419.30,57.63 L419.80,62.35 L420.30,66.61 L420.80,70.56 L421.30,74.35 L421.80,78.04 L422.30,81.69 L422.80,85.35 L423.30,89.07 L423.80,92.92 L424.30,96.94 L424.80,101.22 L425.30,105.66 L425.80,110.15 L426.30,114.57 L426.80,118.79 L427.30,122.70 L427.80,126.32 L428.30,129.77 L428.80,133.08 L429.30,136.30 L429.80,139.47 L430.30,142.61 L430.80,145.76 L431.30,149.00 L431.80,152.34 L432.30,155.69 L432.80,158.96 L433.30,162.06 L433.80,164.89 L434.30,167.37 L434.80,169.62 L435.30,171.73 L435.80,173.72 L436.30,175.58 L436.80,177.33 L437.30,178.97 L437.80,180.51 L438.30,181.97 L438.80,183.42 L439.30,184.85 L439.80,186.22 L440.30,187.53 L440.80,188.76 L441.30,189.89 L441.80,190.90 L442.30,191.84 L442.80,192.75 L443.30,193.62 L443.80,194.45 L444.30,195.23 L444.80,195.93 L445.30,196.56 L445.80,197.12 L446.30,197.66 L446.80,198.21 L447.30,198.74 L447.80,199.25 L448.30,199.70 L448.80,200.10 L449.30,200.41 L449.80,200.64 L450.30,200.78 L450.80,200.90 L451.30,201.02 L451.80,201.13 L452.30,201.22 L452.80,201.30 L453.30,201.35 L453.80,201.37 L454.30,201.36 L454.80,201.31 L455.30,201.24 L455.80,201.14 L456.30,201.04 L456.80,200.92 L457.30,200.79 L457.80,200.65 L458.30,200.50 L458.80,200.35 L459.30,200.20 L459.80,200.03 L460.30,199.82 L460.80,199.60 L461.30,199.35 L461.80,199.10 L462.30,198.84 L462.80,198.58 L463.30,198.33 L463.80,198.09 L464.30,197.88 L464.80,197.70 L465.30,197.55 L465.80,197.44 L466.30,197.38 L466.80,197.35 L467.30,197.36 L467.80,197.39 L468.30,197.44 L468.80,197.52 L469.30,197.62 L469.80,197.74 L470.30,197.88 L470.80,198.03 L471.30,198.19 L471.80,198.36 L472.30,198.54 L472.80,198.73 L473.30,198.92 L473.80,199.11 L474.30,199.30 L474.80,199.49 L475.30,199.67 L475.80,199.87 L476.30,200.08 L476.80,200.30 L477.30,200.52 L477.80,200.76 L478.30,201.00 L478.80,201.25 L479.30,201.50 L479.80,201.75 L480.30,202.01 L480.80,202.27 L481.30,202.53 L481.80,202.78 L482.30,203.03 L482.80,203.28 L483.30,203.53 L483.80,203.76 L484.30,203.99 L484.80,204.21 L485.30,204.42 L485.80,204.62 L486.30,204.80 L486.80,204.97 L487.30,205.11 L487.80,205.23 L488.30,205.34 L488.80,205.44 L489.30,205.53 L489.80,205.62 L490.30,205.71 L490.80,205.81 L491.30,205.92 L491.80,206.04 L492.30,206.17 L492.80,206.33 L493.30,206.51 L493.80,206.72 L494.30,206.94 L494.80,207.17 L495.30,207.42 L495.80,207.69 L496.30,207.95 L496.80,208.23 L497.30,208.51 L497.80,208.79 L498.30,209.06 L498.80,209.33 L499.30,209.60 L499.80,209.85 L500.30,210.10 L500.80,210.33 L501.30,210.54 L501.80,210.73 L502.30,210.90 L502.80,211.07 L503.30,211.24 L503.80,211.41 L504.30,211.57 L504.80,211.73 L505.30,211.88 L505.80,212.03 L506.30,212.17 L506.80,212.31 L507.30,212.43 L507.80,212.55 L508.30,212.67 L508.80,212.77 L509.30,212.87 L509.80,212.95 L510.30,213.03 L510.80,213.09 L511.30,213.14 L511.80,213.20 L512.30,213.25 L512.80,213.30 L513.30,213.35 L513.80,213.39 L514.30,213.44 L514.80,213.48 L515.30,213.52 L515.80,213.56 L516.30,213.60 L516.80,213.64 L517.30,213.67 L517.80,213.71 L518.30,213.74 L518.80,213.76 L519.30,213.79 L519.80,213.81 L520.30,213.83 L520.80,213.85 L521.30,213.87 L521.80,213.88 L522.30,213.90 L522.80,213.91 L523.30,213.91 L523.80,213.92 L524.30,213.92 L524.80,213.92 L525.30,213.91 L525.80,213.91 L526.30,213.90 L526.80,213.88 L527.30,213.87 L527.80,213.85 L528.30,213.83" fill="none" stroke="#8000FF" stroke-width="1.8" stroke-linejoin="round" stroke-linecap="round"/>
<g fill="#8000FF"><circle cx="307.80" cy="215.13" r="2.05"/><circle cx="311.34" cy="215.06" r="2.05"/><circle cx="314.88" cy="214.27" r="2.05"/><circle cx="318.42" cy="212.36" r="2.05"/><circle cx="321.96" cy="209.79" r="2.05"/><circle cx="325.50" cy="206.83" r="2.05"/><circle cx="329.04" cy="203.28" r="2.05"/><circle cx="332.58" cy="198.59" r="2.05"/><circle cx="336.12" cy="192.30" r="2.05"/><circle cx="339.66" cy="184.24" r="2.05"/><circle cx="343.20" cy="176.67" r="2.05"/><circle cx="346.74" cy="167.58" r="2.05"/><circle cx="350.28" cy="160.36" r="2.05"/><circle cx="353.82" cy="156.88" r="2.05"/><circle cx="357.36" cy="157.67" r="2.05"/><circle cx="360.90" cy="162.20" r="2.05"/><circle cx="364.44" cy="164.75" r="2.05"/><circle cx="367.98" cy="160.82" r="2.05"/><circle cx="371.52" cy="151.96" r="2.05"/><circle cx="375.06" cy="140.10" r="2.05"/><circle cx="378.60" cy="126.63" r="2.05"/><circle cx="382.14" cy="110.08" r="2.05"/><circle cx="385.68" cy="94.62" r="2.05"/><circle cx="389.22" cy="78.84" r="2.05"/><circle cx="392.76" cy="63.43" r="2.05"/><circle cx="396.30" cy="51.23" r="2.05"/><circle cx="399.84" cy="35.01" r="2.05"/><circle cx="403.38" cy="22.26" r="2.05"/><circle cx="406.92" cy="14.28" r="2.05"/><circle cx="410.46" cy="13.49" r="2.05"/><circle cx="414.00" cy="22.43" r="2.05"/><circle cx="417.54" cy="41.00" r="2.05"/><circle cx="421.08" cy="72.70" r="2.05"/><circle cx="424.62" cy="99.65" r="2.05"/><circle cx="428.16" cy="128.82" r="2.05"/><circle cx="431.70" cy="151.67" r="2.05"/><circle cx="435.24" cy="171.48" r="2.05"/><circle cx="438.78" cy="183.37" r="2.05"/><circle cx="442.32" cy="191.87" r="2.05"/><circle cx="445.86" cy="197.18" r="2.05"/><circle cx="449.40" cy="200.47" r="2.05"/><circle cx="452.94" cy="201.31" r="2.05"/><circle cx="456.48" cy="201.00" r="2.05"/><circle cx="460.02" cy="199.94" r="2.05"/><circle cx="463.56" cy="198.20" r="2.05"/><circle cx="467.10" cy="197.35" r="2.05"/><circle cx="470.64" cy="197.98" r="2.05"/><circle cx="474.18" cy="199.25" r="2.05"/><circle cx="477.72" cy="200.72" r="2.05"/><circle cx="481.26" cy="202.51" r="2.05"/><circle cx="484.80" cy="204.21" r="2.05"/><circle cx="488.34" cy="205.35" r="2.05"/><circle cx="491.88" cy="206.06" r="2.05"/><circle cx="495.42" cy="207.49" r="2.05"/><circle cx="498.96" cy="209.42" r="2.05"/><circle cx="502.50" cy="210.97" r="2.05"/><circle cx="506.04" cy="212.10" r="2.05"/><circle cx="509.58" cy="212.92" r="2.05"/><circle cx="513.12" cy="213.33" r="2.05"/><circle cx="516.66" cy="213.63" r="2.05"/><circle cx="520.20" cy="213.83" r="2.05"/><circle cx="523.74" cy="213.92" r="2.05"/><circle cx="527.28" cy="213.87" r="2.05"/></g>
<path d="M307.80,212.60 L308.30,212.59 L308.80,212.57 L309.30,212.54 L309.80,212.50 L310.30,212.45 L310.80,212.39 L311.30,212.33 L311.80,212.26 L312.30,212.19 L312.80,212.11 L313.30,212.03 L313.80,211.96 L314.30,211.88 L314.80,211.80 L315.30,211.71 L315.80,211.61 L316.30,211.48 L316.80,211.33 L317.30,211.17 L317.80,211.00 L318.30,210.81 L318.80,210.60 L319.30,210.39 L319.80,210.17 L320.30,209.93 L320.80,209.69 L321.30,209.45 L321.80,209.18 L322.30,208.86 L322.80,208.48 L323.30,208.06 L323.80,207.59 L324.30,207.09 L324.80,206.55 L325.30,205.99 L325.80,205.40 L326.30,204.80 L326.80,204.18 L327.30,203.55 L327.80,202.93 L328.30,202.28 L328.80,201.60 L329.30,200.88 L329.80,200.12 L330.30,199.34 L330.80,198.53 L331.30,197.70 L331.80,196.86 L332.30,196.00 L332.80,195.14 L333.30,194.27 L333.80,193.40 L334.30,192.54 L334.80,191.69 L335.30,190.83 L335.80,189.95 L336.30,189.07 L336.80,188.17 L337.30,187.26 L337.80,186.32 L338.30,185.37 L338.80,184.40 L339.30,183.40 L339.80,182.37 L340.30,181.29 L340.80,180.15 L341.30,178.98 L341.80,177.78 L342.30,176.55 L342.80,175.29 L343.30,173.96 L343.80,172.57 L344.30,171.15 L344.80,169.73 L345.30,168.36 L345.80,167.05 L346.30,165.80 L346.80,164.52 L347.30,163.27 L347.80,162.09 L348.30,161.02 L348.80,160.10 L349.30,159.37 L349.80,158.76 L350.30,158.24 L350.80,157.85 L351.30,157.60 L351.80,157.54 L352.30,157.68 L352.80,158.05 L353.30,158.59 L353.80,159.28 L354.30,160.09 L354.80,160.98 L355.30,161.92 L355.80,162.89 L356.30,163.84 L356.80,164.78 L357.30,165.80 L357.80,166.91 L358.30,168.06 L358.80,169.21 L359.30,170.30 L359.80,171.31 L360.30,172.17 L360.80,172.85 L361.30,173.40 L361.80,173.83 L362.30,174.13 L362.80,174.30 L363.30,174.34 L363.80,174.24 L364.30,173.96 L364.80,173.44 L365.30,172.72 L365.80,171.85 L366.30,170.87 L366.80,169.83 L367.30,168.76 L367.80,167.54 L368.30,166.14 L368.80,164.63 L369.30,163.01 L369.80,161.34 L370.30,159.65 L370.80,157.96 L371.30,156.25 L371.80,154.48 L372.30,152.62 L372.80,150.68 L373.30,148.63 L373.80,146.47 L374.30,144.17 L374.80,141.64 L375.30,138.72 L375.80,135.57 L376.30,132.35 L376.80,129.20 L377.30,126.30 L377.80,123.63 L378.30,121.05 L378.80,118.54 L379.30,116.08 L379.80,113.62 L380.30,111.14 L380.80,108.61 L381.30,106.04 L381.80,103.45 L382.30,100.86 L382.80,98.26 L383.30,95.63 L383.80,92.99 L384.30,90.32 L384.80,87.61 L385.30,84.79 L385.80,81.90 L386.30,79.00 L386.80,76.13 L387.30,73.34 L387.80,70.71 L388.30,68.24 L388.80,65.92 L389.30,63.69 L389.80,61.52 L390.30,59.38 L390.80,57.22 L391.30,55.00 L391.80,52.70 L392.30,50.26 L392.80,47.72 L393.30,45.13 L393.80,42.55 L394.30,40.06 L394.80,37.71 L395.30,35.56 L395.80,33.50 L396.30,31.52 L396.80,29.62 L397.30,27.79 L397.80,26.05 L398.30,24.38 L398.80,22.80 L399.30,21.22 L399.80,19.61 L400.30,18.04 L400.80,16.58 L401.30,15.29 L401.80,14.24 L402.30,13.50 L402.80,13.04 L403.30,12.79 L403.80,12.69 L404.30,12.74 L404.80,12.89 L405.30,13.11 L405.80,13.39 L406.30,13.71 L406.80,14.20 L407.30,14.90 L407.80,15.79 L408.30,16.89 L408.80,18.20 L409.30,19.72 L409.80,21.48 L410.30,24.01 L410.80,27.35 L411.30,31.28 L411.80,35.55 L412.30,39.93 L412.80,44.17 L413.30,48.04 L413.80,51.63 L414.30,55.12 L414.80,58.57 L415.30,62.08 L415.80,65.70 L416.30,69.53 L416.80,73.64 L417.30,78.26 L417.80,83.60 L418.30,89.37 L418.80,95.28 L419.30,101.01 L419.80,106.29 L420.30,110.93 L420.80,115.33 L421.30,119.56 L421.80,123.63 L422.30,127.57 L422.80,131.39 L423.30,135.11 L423.80,138.76 L424.30,142.40 L424.80,146.03 L425.30,149.57 L425.80,152.99 L426.30,156.22 L426.80,159.23 L427.30,161.97 L427.80,164.56 L428.30,167.03 L428.80,169.40 L429.30,171.68 L429.80,173.87 L430.30,175.97 L430.80,178.00 L431.30,180.01 L431.80,182.03 L432.30,184.03 L432.80,185.94 L433.30,187.70 L433.80,189.25 L434.30,190.54 L434.80,191.69 L435.30,192.77 L435.80,193.78 L436.30,194.73 L436.80,195.60 L437.30,196.40 L437.80,197.13 L438.30,197.80 L438.80,198.46 L439.30,199.10 L439.80,199.72 L440.30,200.31 L440.80,200.86 L441.30,201.36 L441.80,201.80 L442.30,202.21 L442.80,202.63 L443.30,203.05 L443.80,203.47 L444.30,203.87 L444.80,204.26 L445.30,204.63 L445.80,204.97 L446.30,205.29 L446.80,205.57 L447.30,205.82 L447.80,206.02 L448.30,206.18 L448.80,206.28 L449.30,206.35 L449.80,206.38 L450.30,206.37 L450.80,206.31 L451.30,206.21 L451.80,206.07 L452.30,205.88 L452.80,205.63 L453.30,205.34 L453.80,205.02 L454.30,204.67 L454.80,204.30 L455.30,203.92 L455.80,203.55 L456.30,203.16 L456.80,202.72 L457.30,202.38 L457.80,202.07 L458.30,201.76 L458.80,201.45 L459.30,201.15 L459.80,200.86 L460.30,200.59 L460.80,200.34 L461.30,200.11 L461.80,199.92 L462.30,199.75 L462.80,199.62 L463.30,199.53 L463.80,199.49 L464.30,199.50 L464.80,199.56 L465.30,199.68 L465.80,199.84 L466.30,200.04 L466.80,200.28 L467.30,200.55 L467.80,200.84 L468.30,201.15 L468.80,201.48 L469.30,201.82 L469.80,202.17 L470.30,202.52 L470.80,202.86 L471.30,203.20 L471.80,203.52 L472.30,203.82 L472.80,204.10 L473.30,204.37 L473.80,204.66 L474.30,204.95 L474.80,205.25 L475.30,205.55 L475.80,205.85 L476.30,206.15 L476.80,206.45 L477.30,206.74 L477.80,207.02 L478.30,207.28 L478.80,207.54 L479.30,207.77 L479.80,207.99 L480.30,208.18 L480.80,208.35 L481.30,208.49 L481.80,208.60 L482.30,208.67 L482.80,208.69 L483.30,208.67 L483.80,208.62 L484.30,208.54 L484.80,208.43 L485.30,208.31 L485.80,208.18 L486.30,208.04 L486.80,207.90 L487.30,207.77 L487.80,207.64 L488.30,207.54 L488.80,207.46 L489.30,207.41 L489.80,207.40 L490.30,207.43 L490.80,207.50 L491.30,207.61 L491.80,207.74 L492.30,207.89 L492.80,208.06 L493.30,208.24 L493.80,208.44 L494.30,208.64 L494.80,208.85 L495.30,209.06 L495.80,209.28 L496.30,209.50 L496.80,209.71 L497.30,209.92 L497.80,210.13 L498.30,210.32 L498.80,210.50 L499.30,210.68 L499.80,210.83 L500.30,210.98 L500.80,211.13 L501.30,211.29 L501.80,211.44 L502.30,211.59 L502.80,211.74 L503.30,211.89 L503.80,212.03 L504.30,212.17 L504.80,212.31 L505.30,212.44 L505.80,212.56 L506.30,212.68 L506.80,212.78 L507.30,212.88 L507.80,212.97 L508.30,213.05 L508.80,213.11 L509.30,213.17 L509.80,213.23 L510.30,213.29 L510.80,213.34 L511.30,213.40 L511.80,213.45 L512.30,213.49 L512.80,213.54 L513.30,213.58 L513.80,213.62 L514.30,213.66 L514.80,213.70 L515.30,213.73 L515.80,213.76 L516.30,213.79 L516.80,213.82 L517.30,213.85 L517.80,213.87 L518.30,213.89 L518.80,213.91 L519.30,213.93 L519.80,213.94 L520.30,213.95 L520.80,213.96 L521.30,213.97 L521.80,213.97 L522.30,213.98 L522.80,213.98 L523.30,213.98 L523.80,213.97 L524.30,213.96 L524.80,213.96 L525.30,213.95 L525.80,213.93 L526.30,213.92 L526.80,213.90 L527.30,213.88 L527.80,213.86 L528.30,213.83" fill="none" stroke="#FF0080" stroke-width="1.8" stroke-linejoin="round" stroke-linecap="round"/>
<g fill="#FF0080"><circle cx="307.80" cy="212.60" r="2.05"/><circle cx="311.34" cy="212.33" r="2.05"/><circle cx="314.88" cy="211.79" r="2.05"/><circle cx="318.42" cy="210.76" r="2.05"/><circle cx="321.96" cy="209.08" r="2.05"/><circle cx="325.50" cy="205.76" r="2.05"/><circle cx="329.04" cy="201.26" r="2.05"/><circle cx="332.58" cy="195.52" r="2.05"/><circle cx="336.12" cy="189.39" r="2.05"/><circle cx="339.66" cy="182.67" r="2.05"/><circle cx="343.20" cy="174.23" r="2.05"/><circle cx="346.74" cy="164.68" r="2.05"/><circle cx="350.28" cy="158.26" r="2.05"/><circle cx="353.82" cy="159.31" r="2.05"/><circle cx="357.36" cy="165.93" r="2.05"/><circle cx="360.90" cy="172.97" r="2.05"/><circle cx="364.44" cy="173.83" r="2.05"/><circle cx="367.98" cy="167.05" r="2.05"/><circle cx="371.52" cy="155.48" r="2.05"/><circle cx="375.06" cy="140.16" r="2.05"/><circle cx="378.60" cy="119.54" r="2.05"/><circle cx="382.14" cy="101.69" r="2.05"/><circle cx="385.68" cy="82.60" r="2.05"/><circle cx="389.22" cy="64.04" r="2.05"/><circle cx="392.76" cy="47.92" r="2.05"/><circle cx="396.30" cy="31.52" r="2.05"/><circle cx="399.84" cy="19.49" r="2.05"/><circle cx="403.38" cy="12.76" r="2.05"/><circle cx="406.92" cy="14.35" r="2.05"/><circle cx="410.46" cy="25.00" r="2.05"/><circle cx="414.00" cy="53.04" r="2.05"/><circle cx="417.54" cy="80.75" r="2.05"/><circle cx="421.08" cy="117.72" r="2.05"/><circle cx="424.62" cy="144.73" r="2.05"/><circle cx="428.16" cy="166.35" r="2.05"/><circle cx="431.70" cy="181.63" r="2.05"/><circle cx="435.24" cy="192.64" r="2.05"/><circle cx="438.78" cy="198.43" r="2.05"/><circle cx="442.32" cy="202.23" r="2.05"/><circle cx="445.86" cy="205.01" r="2.05"/><circle cx="449.40" cy="206.36" r="2.05"/><circle cx="452.94" cy="205.56" r="2.05"/><circle cx="456.48" cy="203.00" r="2.05"/><circle cx="460.02" cy="200.74" r="2.05"/><circle cx="463.56" cy="199.50" r="2.05"/><circle cx="467.10" cy="200.44" r="2.05"/><circle cx="470.64" cy="202.75" r="2.05"/><circle cx="474.18" cy="204.88" r="2.05"/><circle cx="477.72" cy="206.97" r="2.05"/><circle cx="481.26" cy="208.48" r="2.05"/><circle cx="484.80" cy="208.43" r="2.05"/><circle cx="488.34" cy="207.53" r="2.05"/><circle cx="491.88" cy="207.77" r="2.05"/><circle cx="495.42" cy="209.11" r="2.05"/><circle cx="498.96" cy="210.56" r="2.05"/><circle cx="502.50" cy="211.65" r="2.05"/><circle cx="506.04" cy="212.62" r="2.05"/><circle cx="509.58" cy="213.21" r="2.05"/><circle cx="513.12" cy="213.57" r="2.05"/><circle cx="516.66" cy="213.81" r="2.05"/><circle cx="520.20" cy="213.95" r="2.05"/><circle cx="523.74" cy="213.97" r="2.05"/><circle cx="527.28" cy="213.88" r="2.05"/></g>
<text x="294.1" y="200.6" font-size="16.4" text-anchor="start" fill="#151515" stroke="#151515" stroke-width="0.12" transform="rotate(-90 294.1 200.6)">Normalized absorbance</text>
<text x="355.0" y="259.2" font-size="16.5" text-anchor="start" fill="#151515" stroke="#151515" stroke-width="0.12">Wavelength (nm)</text>
<text x="315.0" y="28.0" font-size="15.5" text-anchor="start" fill="#151515" stroke="#151515" stroke-width="0.12">(b)</text>
<line x1="171.40" y1="290.20" x2="171.40" y2="502.00" stroke="#262626" stroke-width="1.7"/>
<line x1="165.90" y1="496.80" x2="171.40" y2="496.80" stroke="#262626" stroke-width="1.4449999999999998"/>
<text x="162.2" y="500.8" font-size="13.8" text-anchor="end" fill="#151515" stroke="#151515" stroke-width="0.22">0.0</text>
<line x1="168.10" y1="480.13" x2="171.40" y2="480.13" stroke="#262626" stroke-width="1.4449999999999998"/>
<line x1="165.90" y1="463.47" x2="171.40" y2="463.47" stroke="#262626" stroke-width="1.4449999999999998"/>
<text x="162.2" y="467.47" font-size="13.8" text-anchor="end" fill="#151515" stroke="#151515" stroke-width="0.22">0.1</text>
<line x1="168.10" y1="446.81" x2="171.40" y2="446.81" stroke="#262626" stroke-width="1.4449999999999998"/>
<line x1="165.90" y1="430.14" x2="171.40" y2="430.14" stroke="#262626" stroke-width="1.4449999999999998"/>
<text x="162.2" y="434.14" font-size="13.8" text-anchor="end" fill="#151515" stroke="#151515" stroke-width="0.22">0.2</text>
<line x1="168.10" y1="413.48" x2="171.40" y2="413.48" stroke="#262626" stroke-width="1.4449999999999998"/>
<line x1="165.90" y1="396.81" x2="171.40" y2="396.81" stroke="#262626" stroke-width="1.4449999999999998"/>
<text x="162.2" y="400.81" font-size="13.8" text-anchor="end" fill="#151515" stroke="#151515" stroke-width="0.22">0.3</text>
<line x1="168.10" y1="380.14" x2="171.40" y2="380.14" stroke="#262626" stroke-width="1.4449999999999998"/>
<line x1="165.90" y1="363.48" x2="171.40" y2="363.48" stroke="#262626" stroke-width="1.4449999999999998"/>
<text x="162.2" y="367.48" font-size="13.8" text-anchor="end" fill="#151515" stroke="#151515" stroke-width="0.22">0.4</text>
<line x1="168.10" y1="346.81" x2="171.40" y2="346.81" stroke="#262626" stroke-width="1.4449999999999998"/>
<line x1="165.90" y1="330.15" x2="171.40" y2="330.15" stroke="#262626" stroke-width="1.4449999999999998"/>
<text x="162.2" y="334.15" font-size="13.8" text-anchor="end" fill="#151515" stroke="#151515" stroke-width="0.22">0.5</text>
<line x1="168.10" y1="313.49" x2="171.40" y2="313.49" stroke="#262626" stroke-width="1.4449999999999998"/>
<line x1="165.90" y1="296.82" x2="171.40" y2="296.82" stroke="#262626" stroke-width="1.4449999999999998"/>
<text x="162.2" y="300.81999999999994" font-size="13.8" text-anchor="end" fill="#151515" stroke="#151515" stroke-width="0.22">0.6</text>
<line x1="171.40" y1="496.80" x2="392.61" y2="496.80" stroke="#262626" stroke-width="1.7"/>
<line x1="171.40" y1="496.80" x2="171.40" y2="502.00" stroke="#262626" stroke-width="1.4449999999999998"/>
<line x1="191.51" y1="496.80" x2="191.51" y2="500.00" stroke="#262626" stroke-width="1.4449999999999998"/>
<line x1="211.62" y1="496.80" x2="211.62" y2="502.00" stroke="#262626" stroke-width="1.4449999999999998"/>
<line x1="231.73" y1="496.80" x2="231.73" y2="500.00" stroke="#262626" stroke-width="1.4449999999999998"/>
<line x1="251.84" y1="496.80" x2="251.84" y2="502.00" stroke="#262626" stroke-width="1.4449999999999998"/>
<line x1="271.95" y1="496.80" x2="271.95" y2="500.00" stroke="#262626" stroke-width="1.4449999999999998"/>
<line x1="292.06" y1="496.80" x2="292.06" y2="502.00" stroke="#262626" stroke-width="1.4449999999999998"/>
<line x1="312.17" y1="496.80" x2="312.17" y2="500.00" stroke="#262626" stroke-width="1.4449999999999998"/>
<line x1="332.28" y1="496.80" x2="332.28" y2="502.00" stroke="#262626" stroke-width="1.4449999999999998"/>
<line x1="352.39" y1="496.80" x2="352.39" y2="500.00" stroke="#262626" stroke-width="1.4449999999999998"/>
<line x1="372.50" y1="496.80" x2="372.50" y2="502.00" stroke="#262626" stroke-width="1.4449999999999998"/>
<line x1="392.61" y1="496.80" x2="392.61" y2="500.00" stroke="#262626" stroke-width="1.4449999999999998"/>
<text x="171.40" y="516.7" font-size="13.8" text-anchor="middle" fill="#151515" stroke="#151515" stroke-width="0.22">300</text>
<text x="211.62" y="516.7" font-size="13.8" text-anchor="middle" fill="#151515" stroke="#151515" stroke-width="0.22">400</text>
<text x="251.84" y="516.7" font-size="13.8" text-anchor="middle" fill="#151515" stroke="#151515" stroke-width="0.22">500</text>
<text x="292.06" y="516.7" font-size="13.8" text-anchor="middle" fill="#151515" stroke="#151515" stroke-width="0.22">600</text>
<text x="332.28" y="516.7" font-size="13.8" text-anchor="middle" fill="#151515" stroke="#151515" stroke-width="0.22">700</text>
<text x="372.50" y="516.7" font-size="13.8" text-anchor="middle" fill="#151515" stroke="#151515" stroke-width="0.22">800</text>
<path d="M190.50,496.60 L191.00,496.61 L191.50,496.61 L192.00,496.61 L192.50,496.61 L193.00,496.61 L193.50,496.62 L194.00,496.62 L194.50,496.62 L195.00,496.62 L195.50,496.61 L196.00,496.61 L196.50,496.61 L197.00,496.61 L197.50,496.61 L198.00,496.60 L198.50,496.60 L199.00,496.59 L199.50,496.59 L200.00,496.58 L200.50,496.58 L201.00,496.57 L201.50,496.56 L202.00,496.55 L202.50,496.55 L203.00,496.54 L203.50,496.53 L204.00,496.52 L204.50,496.51 L205.00,496.50 L205.50,496.49 L206.00,496.48 L206.50,496.47 L207.00,496.45 L207.50,496.44 L208.00,496.43 L208.50,496.42 L209.00,496.40 L209.50,496.39 L210.00,496.37 L210.50,496.36 L211.00,496.34 L211.50,496.33 L212.00,496.31 L212.50,496.29 L213.00,496.28 L213.50,496.26 L214.00,496.23 L214.50,496.21 L215.00,496.19 L215.50,496.16 L216.00,496.14 L216.50,496.11 L217.00,496.08 L217.50,496.05 L218.00,496.02 L218.50,495.99 L219.00,495.96 L219.50,495.92 L220.00,495.89 L220.50,495.86 L221.00,495.82 L221.50,495.79 L222.00,495.75 L222.50,495.71 L223.00,495.68 L223.50,495.64 L224.00,495.60 L224.50,495.56 L225.00,495.53 L225.50,495.49 L226.00,495.45 L226.50,495.41 L227.00,495.37 L227.50,495.34 L228.00,495.30 L228.50,495.26 L229.00,495.22 L229.50,495.19 L230.00,495.15 L230.50,495.11 L231.00,495.07 L231.50,495.03 L232.00,494.99 L232.50,494.95 L233.00,494.91 L233.50,494.87 L234.00,494.82 L234.50,494.78 L235.00,494.74 L235.50,494.70 L236.00,494.65 L236.50,494.61 L237.00,494.57 L237.50,494.53 L238.00,494.48 L238.50,494.44 L239.00,494.40 L239.50,494.35 L240.00,494.31 L240.50,494.26 L241.00,494.22 L241.50,494.18 L242.00,494.13 L242.50,494.09 L243.00,494.04 L243.50,494.00 L244.00,493.96 L244.50,493.91 L245.00,493.87 L245.50,493.83 L246.00,493.78 L246.50,493.74 L247.00,493.70 L247.50,493.65 L248.00,493.61 L248.50,493.57 L249.00,493.53 L249.50,493.48 L250.00,493.44 L250.50,493.40 L251.00,493.36 L251.50,493.31 L252.00,493.27 L252.50,493.23 L253.00,493.18 L253.50,493.13 L254.00,493.09 L254.50,493.04 L255.00,493.00 L255.50,492.95 L256.00,492.91 L256.50,492.86 L257.00,492.82 L257.50,492.78 L258.00,492.74 L258.50,492.70 L259.00,492.66 L259.50,492.63 L260.00,492.59 L260.50,492.56 L261.00,492.53 L261.50,492.51 L262.00,492.49 L262.50,492.47 L263.00,492.45 L263.50,492.44 L264.00,492.42 L264.50,492.41 L265.00,492.40 L265.50,492.39 L266.00,492.39 L266.50,492.38 L267.00,492.37 L267.50,492.36 L268.00,492.35 L268.50,492.34 L269.00,492.33 L269.50,492.32 L270.00,492.30 L270.50,492.28 L271.00,492.26 L271.50,492.25 L272.00,492.23 L272.50,492.20 L273.00,492.18 L273.50,492.16 L274.00,492.14 L274.50,492.12 L275.00,492.09 L275.50,492.07 L276.00,492.05 L276.50,492.03 L277.00,492.00 L277.50,491.98 L278.00,491.96 L278.50,491.94 L279.00,491.92 L279.50,491.90 L280.00,491.88 L280.50,491.86 L281.00,491.84 L281.50,491.82 L282.00,491.81 L282.50,491.79 L283.00,491.78 L283.50,491.78 L284.00,491.77 L284.50,491.78 L285.00,491.78 L285.50,491.79 L286.00,491.80 L286.50,491.82 L287.00,491.84 L287.50,491.86 L288.00,491.88 L288.50,491.90 L289.00,491.93 L289.50,491.96 L290.00,491.99 L290.50,492.02 L291.00,492.05 L291.50,492.08 L292.00,492.11 L292.50,492.14 L293.00,492.17 L293.50,492.20 L294.00,492.24 L294.50,492.29 L295.00,492.37 L295.50,492.45 L296.00,492.55 L296.50,492.66 L297.00,492.78 L297.50,492.90 L298.00,493.04 L298.50,493.17 L299.00,493.32 L299.50,493.46 L300.00,493.60 L300.50,493.77 L301.00,494.00 L301.50,494.25 L302.00,494.52 L302.50,494.78 L303.00,495.02 L303.50,495.22 L304.00,495.36 L304.50,495.42 L305.00,495.47 L305.50,495.51 L306.00,495.56 L306.50,495.60 L307.00,495.64 L307.50,495.68 L308.00,495.71 L308.50,495.75 L309.00,495.79 L309.50,495.82 L310.00,495.85 L310.50,495.88 L311.00,495.91 L311.50,495.94 L312.00,495.96 L312.50,495.99 L313.00,496.01 L313.50,496.03 L314.00,496.05 L314.50,496.07 L315.00,496.09 L315.50,496.11 L316.00,496.12 L316.50,496.14 L317.00,496.15 L317.50,496.16 L318.00,496.17 L318.50,496.18 L319.00,496.19 L319.50,496.19 L320.00,496.20 L320.50,496.20 L321.00,496.21 L321.50,496.21 L322.00,496.22 L322.50,496.23 L323.00,496.23 L323.50,496.24 L324.00,496.24 L324.50,496.25 L325.00,496.25 L325.50,496.26 L326.00,496.26 L326.50,496.27 L327.00,496.27 L327.50,496.28 L328.00,496.29 L328.50,496.29 L329.00,496.30 L329.50,496.30 L330.00,496.31 L330.50,496.31 L331.00,496.32 L331.50,496.33 L332.00,496.33 L332.50,496.34 L333.00,496.34 L333.50,496.35 L334.00,496.36 L334.50,496.36 L335.00,496.37 L335.50,496.37 L336.00,496.38 L336.50,496.39 L337.00,496.39 L337.50,496.40 L338.00,496.40 L338.50,496.41 L339.00,496.42 L339.50,496.42 L340.00,496.43 L340.50,496.43 L341.00,496.44 L341.50,496.45 L342.00,496.45 L342.50,496.46 L343.00,496.46 L343.50,496.47 L344.00,496.48 L344.50,496.48 L345.00,496.49 L345.50,496.49 L346.00,496.50 L346.50,496.51 L347.00,496.51 L347.50,496.52 L348.00,496.52 L348.50,496.53 L349.00,496.53 L349.50,496.54 L350.00,496.54 L350.50,496.55 L351.00,496.55 L351.50,496.56 L352.00,496.56 L352.50,496.57 L353.00,496.57 L353.50,496.58 L354.00,496.58 L354.50,496.59 L355.00,496.59 L355.50,496.60 L356.00,496.60 L356.50,496.61 L357.00,496.61 L357.50,496.62 L358.00,496.62 L358.50,496.63 L359.00,496.63 L359.50,496.63 L360.00,496.64 L360.50,496.64 L361.00,496.64 L361.50,496.65 L362.00,496.65 L362.50,496.66 L363.00,496.66 L363.50,496.66 L364.00,496.67 L364.50,496.67 L365.00,496.67 L365.50,496.67 L366.00,496.68 L366.50,496.68 L367.00,496.68 L367.50,496.68 L368.00,496.69 L368.50,496.69 L369.00,496.69 L369.50,496.69 L370.00,496.69 L370.50,496.70 L371.00,496.70 L371.50,496.70 L372.00,496.70 L372.50,496.70 L373.00,496.70 L373.50,496.70 L374.00,496.70 L374.50,496.70 L375.00,496.70 L375.50,496.70 L376.00,496.70 L376.50,496.70 L377.00,496.70 L377.50,496.70 L378.00,496.70 L378.50,496.70 L379.00,496.70 L379.50,496.70 L380.00,496.70 L380.50,496.69 L381.00,496.69 L381.50,496.69 L382.00,496.69 L382.50,496.69 L383.00,496.68 L383.50,496.68 L384.00,496.68 L384.50,496.68 L385.00,496.67 L385.50,496.67 L386.00,496.67 L386.50,496.66 L387.00,496.66 L387.50,496.65 L388.00,496.65 L388.50,496.64 L389.00,496.64 L389.50,496.63 L390.00,496.63 L390.50,496.62 L391.00,496.62 L391.50,496.61 L392.00,496.61" fill="none" stroke="#008000" stroke-width="1.2" stroke-linejoin="round" stroke-linecap="round"/>
<g fill="#008000"><circle cx="190.50" cy="496.60" r="1.65"/><circle cx="195.30" cy="496.62" r="1.65"/><circle cx="200.10" cy="496.58" r="1.65"/><circle cx="204.90" cy="496.50" r="1.65"/><circle cx="209.70" cy="496.38" r="1.65"/><circle cx="214.50" cy="496.21" r="1.65"/><circle cx="219.30" cy="495.94" r="1.65"/><circle cx="224.10" cy="495.59" r="1.65"/><circle cx="228.90" cy="495.23" r="1.65"/><circle cx="233.70" cy="494.85" r="1.65"/><circle cx="238.50" cy="494.44" r="1.65"/><circle cx="243.30" cy="494.02" r="1.65"/><circle cx="248.10" cy="493.60" r="1.65"/><circle cx="252.90" cy="493.19" r="1.65"/><circle cx="257.70" cy="492.76" r="1.65"/><circle cx="262.50" cy="492.47" r="1.65"/><circle cx="267.30" cy="492.36" r="1.65"/><circle cx="272.10" cy="492.22" r="1.65"/><circle cx="276.90" cy="492.01" r="1.65"/><circle cx="281.70" cy="491.82" r="1.65"/><circle cx="286.50" cy="491.82" r="1.65"/><circle cx="291.30" cy="492.07" r="1.65"/><circle cx="296.10" cy="492.57" r="1.65"/><circle cx="300.90" cy="493.95" r="1.65"/><circle cx="305.70" cy="495.53" r="1.65"/><circle cx="310.50" cy="495.88" r="1.65"/><circle cx="315.30" cy="496.10" r="1.65"/><circle cx="320.10" cy="496.20" r="1.65"/><circle cx="324.90" cy="496.25" r="1.65"/><circle cx="329.70" cy="496.31" r="1.65"/><circle cx="334.50" cy="496.36" r="1.65"/><circle cx="339.30" cy="496.42" r="1.65"/><circle cx="344.10" cy="496.48" r="1.65"/><circle cx="348.90" cy="496.53" r="1.65"/><circle cx="353.70" cy="496.58" r="1.65"/><circle cx="358.50" cy="496.63" r="1.65"/><circle cx="363.30" cy="496.66" r="1.65"/><circle cx="368.10" cy="496.69" r="1.65"/><circle cx="372.90" cy="496.70" r="1.65"/><circle cx="377.70" cy="496.70" r="1.65"/><circle cx="382.50" cy="496.69" r="1.65"/><circle cx="387.30" cy="496.66" r="1.65"/><circle cx="392.10" cy="496.61" r="1.65"/></g>
<path d="M190.50,496.61 L191.00,496.62 L191.50,496.63 L192.00,496.64 L192.50,496.65 L193.00,496.66 L193.50,496.66 L194.00,496.67 L194.50,496.67 L195.00,496.67 L195.50,496.67 L196.00,496.67 L196.50,496.67 L197.00,496.67 L197.50,496.66 L198.00,496.65 L198.50,496.65 L199.00,496.64 L199.50,496.62 L200.00,496.61 L200.50,496.60 L201.00,496.58 L201.50,496.56 L202.00,496.54 L202.50,496.52 L203.00,496.50 L203.50,496.47 L204.00,496.44 L204.50,496.41 L205.00,496.38 L205.50,496.35 L206.00,496.32 L206.50,496.28 L207.00,496.24 L207.50,496.20 L208.00,496.16 L208.50,496.11 L209.00,496.05 L209.50,496.00 L210.00,495.93 L210.50,495.87 L211.00,495.80 L211.50,495.73 L212.00,495.66 L212.50,495.58 L213.00,495.50 L213.50,495.43 L214.00,495.35 L214.50,495.26 L215.00,495.18 L215.50,495.10 L216.00,495.02 L216.50,494.94 L217.00,494.86 L217.50,494.78 L218.00,494.70 L218.50,494.63 L219.00,494.55 L219.50,494.47 L220.00,494.39 L220.50,494.30 L221.00,494.20 L221.50,494.10 L222.00,494.00 L222.50,493.91 L223.00,493.81 L223.50,493.72 L224.00,493.63 L224.50,493.54 L225.00,493.46 L225.50,493.39 L226.00,493.33 L226.50,493.28 L227.00,493.24 L227.50,493.21 L228.00,493.20 L228.50,493.20 L229.00,493.19 L229.50,493.20 L230.00,493.20 L230.50,493.21 L231.00,493.21 L231.50,493.23 L232.00,493.24 L232.50,493.25 L233.00,493.27 L233.50,493.28 L234.00,493.30 L234.50,493.31 L235.00,493.33 L235.50,493.35 L236.00,493.36 L236.50,493.38 L237.00,493.39 L237.50,493.40 L238.00,493.42 L238.50,493.43 L239.00,493.45 L239.50,493.47 L240.00,493.49 L240.50,493.51 L241.00,493.53 L241.50,493.56 L242.00,493.58 L242.50,493.60 L243.00,493.62 L243.50,493.64 L244.00,493.66 L244.50,493.67 L245.00,493.68 L245.50,493.69 L246.00,493.70 L246.50,493.70 L247.00,493.69 L247.50,493.63 L248.00,493.53 L248.50,493.39 L249.00,493.22 L249.50,493.01 L250.00,492.79 L250.50,492.55 L251.00,492.29 L251.50,492.04 L252.00,491.78 L252.50,491.53 L253.00,491.29 L253.50,491.07 L254.00,490.87 L254.50,490.70 L255.00,490.53 L255.50,490.36 L256.00,490.20 L256.50,490.04 L257.00,489.88 L257.50,489.72 L258.00,489.57 L258.50,489.41 L259.00,489.26 L259.50,489.11 L260.00,488.95 L260.50,488.80 L261.00,488.64 L261.50,488.48 L262.00,488.32 L262.50,488.16 L263.00,488.00 L263.50,487.83 L264.00,487.66 L264.50,487.48 L265.00,487.30 L265.50,487.11 L266.00,486.92 L266.50,486.73 L267.00,486.54 L267.50,486.36 L268.00,486.18 L268.50,486.00 L269.00,485.84 L269.50,485.69 L270.00,485.54 L270.50,485.41 L271.00,485.27 L271.50,485.14 L272.00,485.00 L272.50,484.88 L273.00,484.75 L273.50,484.63 L274.00,484.52 L274.50,484.41 L275.00,484.31 L275.50,484.22 L276.00,484.13 L276.50,484.06 L277.00,483.99 L277.50,483.93 L278.00,483.88 L278.50,483.84 L279.00,483.81 L279.50,483.80 L280.00,483.80 L280.50,483.82 L281.00,483.86 L281.50,483.92 L282.00,483.99 L282.50,484.08 L283.00,484.18 L283.50,484.29 L284.00,484.41 L284.50,484.55 L285.00,484.69 L285.50,484.84 L286.00,485.00 L286.50,485.16 L287.00,485.33 L287.50,485.51 L288.00,485.68 L288.50,485.86 L289.00,486.04 L289.50,486.23 L290.00,486.45 L290.50,486.69 L291.00,486.95 L291.50,487.23 L292.00,487.51 L292.50,487.80 L293.00,488.09 L293.50,488.38 L294.00,488.67 L294.50,488.96 L295.00,489.24 L295.50,489.54 L296.00,489.83 L296.50,490.14 L297.00,490.44 L297.50,490.74 L298.00,491.05 L298.50,491.35 L299.00,491.64 L299.50,491.92 L300.00,492.20 L300.50,492.48 L301.00,492.77 L301.50,493.07 L302.00,493.36 L302.50,493.63 L303.00,493.87 L303.50,494.08 L304.00,494.23 L304.50,494.34 L305.00,494.42 L305.50,494.51 L306.00,494.60 L306.50,494.68 L307.00,494.76 L307.50,494.83 L308.00,494.90 L308.50,494.96 L309.00,495.02 L309.50,495.07 L310.00,495.12 L310.50,495.16 L311.00,495.19 L311.50,495.21 L312.00,495.22 L312.50,495.23 L313.00,495.22 L313.50,495.21 L314.00,495.18 L314.50,495.16 L315.00,495.13 L315.50,495.10 L316.00,495.07 L316.50,495.04 L317.00,495.01 L317.50,494.98 L318.00,494.94 L318.50,494.91 L319.00,494.88 L319.50,494.84 L320.00,494.81 L320.50,494.77 L321.00,494.74 L321.50,494.70 L322.00,494.67 L322.50,494.63 L323.00,494.60 L323.50,494.57 L324.00,494.53 L324.50,494.49 L325.00,494.44 L325.50,494.40 L326.00,494.36 L326.50,494.31 L327.00,494.27 L327.50,494.22 L328.00,494.18 L328.50,494.14 L329.00,494.09 L329.50,494.06 L330.00,494.02 L330.50,493.99 L331.00,493.96 L331.50,493.94 L332.00,493.92 L332.50,493.91 L333.00,493.90 L333.50,493.90 L334.00,493.91 L334.50,493.92 L335.00,493.94 L335.50,493.96 L336.00,493.98 L336.50,494.02 L337.00,494.05 L337.50,494.09 L338.00,494.13 L338.50,494.17 L339.00,494.21 L339.50,494.26 L340.00,494.30 L340.50,494.35 L341.00,494.39 L341.50,494.44 L342.00,494.48 L342.50,494.52 L343.00,494.56 L343.50,494.59 L344.00,494.63 L344.50,494.66 L345.00,494.69 L345.50,494.73 L346.00,494.76 L346.50,494.80 L347.00,494.83 L347.50,494.87 L348.00,494.90 L348.50,494.94 L349.00,494.97 L349.50,495.00 L350.00,495.03 L350.50,495.07 L351.00,495.10 L351.50,495.12 L352.00,495.15 L352.50,495.18 L353.00,495.20 L353.50,495.22 L354.00,495.24 L354.50,495.25 L355.00,495.25 L355.50,495.26 L356.00,495.26 L356.50,495.26 L357.00,495.25 L357.50,495.25 L358.00,495.25 L358.50,495.25 L359.00,495.24 L359.50,495.24 L360.00,495.25 L360.50,495.25 L361.00,495.26 L361.50,495.27 L362.00,495.29 L362.50,495.31 L363.00,495.34 L363.50,495.38 L364.00,495.42 L364.50,495.47 L365.00,495.53 L365.50,495.58 L366.00,495.64 L366.50,495.70 L367.00,495.75 L367.50,495.81 L368.00,495.86 L368.50,495.91 L369.00,495.95 L369.50,495.98 L370.00,496.01 L370.50,496.03 L371.00,496.06 L371.50,496.08 L372.00,496.11 L372.50,496.13 L373.00,496.15 L373.50,496.18 L374.00,496.20 L374.50,496.22 L375.00,496.24 L375.50,496.26 L376.00,496.28 L376.50,496.30 L377.00,496.32 L377.50,496.34 L378.00,496.36 L378.50,496.37 L379.00,496.39 L379.50,496.41 L380.00,496.42 L380.50,496.44 L381.00,496.45 L381.50,496.47 L382.00,496.48 L382.50,496.49 L383.00,496.51 L383.50,496.52 L384.00,496.53 L384.50,496.54 L385.00,496.55 L385.50,496.56 L386.00,496.56 L386.50,496.57 L387.00,496.58 L387.50,496.58 L388.00,496.59 L388.50,496.59 L389.00,496.60 L389.50,496.60 L390.00,496.60 L390.50,496.60 L391.00,496.60 L391.50,496.60 L392.00,496.60" fill="none" stroke="#FF8000" stroke-width="1.2" stroke-linejoin="round" stroke-linecap="round"/>
<g fill="#FF8000"><circle cx="190.50" cy="496.61" r="1.65"/><circle cx="195.30" cy="496.67" r="1.65"/><circle cx="200.10" cy="496.61" r="1.65"/><circle cx="204.90" cy="496.39" r="1.65"/><circle cx="209.70" cy="495.97" r="1.65"/><circle cx="214.50" cy="495.26" r="1.65"/><circle cx="219.30" cy="494.51" r="1.65"/><circle cx="224.10" cy="493.61" r="1.65"/><circle cx="228.90" cy="493.19" r="1.65"/><circle cx="233.70" cy="493.29" r="1.65"/><circle cx="238.50" cy="493.43" r="1.65"/><circle cx="243.30" cy="493.63" r="1.65"/><circle cx="248.10" cy="493.51" r="1.65"/><circle cx="252.90" cy="491.34" r="1.65"/><circle cx="257.70" cy="489.66" r="1.65"/><circle cx="262.50" cy="488.16" r="1.65"/><circle cx="267.30" cy="486.43" r="1.65"/><circle cx="272.10" cy="484.98" r="1.65"/><circle cx="276.90" cy="484.00" r="1.65"/><circle cx="281.70" cy="483.95" r="1.65"/><circle cx="286.50" cy="485.16" r="1.65"/><circle cx="291.30" cy="487.11" r="1.65"/><circle cx="296.10" cy="489.89" r="1.65"/><circle cx="300.90" cy="492.72" r="1.65"/><circle cx="305.70" cy="494.55" r="1.65"/><circle cx="310.50" cy="495.16" r="1.65"/><circle cx="315.30" cy="495.11" r="1.65"/><circle cx="320.10" cy="494.80" r="1.65"/><circle cx="324.90" cy="494.45" r="1.65"/><circle cx="329.70" cy="494.04" r="1.65"/><circle cx="334.50" cy="493.92" r="1.65"/><circle cx="339.30" cy="494.24" r="1.65"/><circle cx="344.10" cy="494.63" r="1.65"/><circle cx="348.90" cy="494.96" r="1.65"/><circle cx="353.70" cy="495.23" r="1.65"/><circle cx="358.50" cy="495.25" r="1.65"/><circle cx="363.30" cy="495.36" r="1.65"/><circle cx="368.10" cy="495.87" r="1.65"/><circle cx="372.90" cy="496.15" r="1.65"/><circle cx="377.70" cy="496.35" r="1.65"/><circle cx="382.50" cy="496.49" r="1.65"/><circle cx="387.30" cy="496.58" r="1.65"/><circle cx="392.10" cy="496.60" r="1.65"/></g>
<path d="M190.50,496.22 L191.00,496.25 L191.50,496.27 L192.00,496.29 L192.50,496.29 L193.00,496.29 L193.50,496.28 L194.00,496.26 L194.50,496.23 L195.00,496.20 L195.50,496.16 L196.00,496.10 L196.50,496.04 L197.00,495.96 L197.50,495.87 L198.00,495.77 L198.50,495.67 L199.00,495.55 L199.50,495.43 L200.00,495.30 L200.50,495.17 L201.00,495.03 L201.50,494.88 L202.00,494.73 L202.50,494.58 L203.00,494.42 L203.50,494.27 L204.00,494.09 L204.50,493.89 L205.00,493.67 L205.50,493.43 L206.00,493.17 L206.50,492.89 L207.00,492.59 L207.50,492.29 L208.00,491.97 L208.50,491.65 L209.00,491.32 L209.50,490.98 L210.00,490.64 L210.50,490.30 L211.00,489.96 L211.50,489.61 L212.00,489.24 L212.50,488.86 L213.00,488.46 L213.50,488.04 L214.00,487.62 L214.50,487.18 L215.00,486.74 L215.50,486.28 L216.00,485.82 L216.50,485.35 L217.00,484.88 L217.50,484.40 L218.00,483.91 L218.50,483.40 L219.00,482.88 L219.50,482.34 L220.00,481.80 L220.50,481.25 L221.00,480.69 L221.50,480.13 L222.00,479.57 L222.50,479.02 L223.00,478.47 L223.50,477.93 L224.00,477.39 L224.50,476.84 L225.00,476.26 L225.50,475.68 L226.00,475.12 L226.50,474.59 L227.00,474.12 L227.50,473.73 L228.00,473.42 L228.50,473.15 L229.00,472.92 L229.50,472.73 L230.00,472.59 L230.50,472.50 L231.00,472.47 L231.50,472.50 L232.00,472.60 L232.50,472.78 L233.00,473.02 L233.50,473.31 L234.00,473.65 L234.50,474.03 L235.00,474.42 L235.50,474.82 L236.00,475.22 L236.50,475.60 L237.00,475.96 L237.50,476.28 L238.00,476.57 L238.50,476.84 L239.00,477.09 L239.50,477.34 L240.00,477.56 L240.50,477.76 L241.00,477.92 L241.50,478.06 L242.00,478.16 L242.50,478.21 L243.00,478.15 L243.50,477.97 L244.00,477.68 L244.50,477.30 L245.00,476.85 L245.50,476.33 L246.00,475.75 L246.50,475.14 L247.00,474.51 L247.50,473.86 L248.00,473.18 L248.50,472.37 L249.00,471.43 L249.50,470.38 L250.00,469.25 L250.50,468.06 L251.00,466.82 L251.50,465.57 L252.00,464.33 L252.50,463.11 L253.00,461.83 L253.50,460.49 L254.00,459.11 L254.50,457.70 L255.00,456.28 L255.50,454.86 L256.00,453.47 L256.50,452.11 L257.00,450.81 L257.50,449.57 L258.00,448.43 L258.50,447.43 L259.00,446.51 L259.50,445.60 L260.00,444.66 L260.50,443.60 L261.00,442.42 L261.50,441.15 L262.00,439.83 L262.50,438.50 L263.00,437.18 L263.50,435.91 L264.00,434.72 L264.50,433.65 L265.00,432.65 L265.50,431.68 L266.00,430.70 L266.50,429.68 L267.00,428.63 L267.50,427.57 L268.00,426.51 L268.50,425.45 L269.00,424.41 L269.50,423.39 L270.00,422.42 L270.50,421.50 L271.00,420.64 L271.50,419.85 L272.00,419.09 L272.50,418.35 L273.00,417.64 L273.50,416.95 L274.00,416.29 L274.50,415.66 L275.00,415.07 L275.50,414.52 L276.00,414.02 L276.50,413.56 L277.00,413.17 L277.50,412.83 L278.00,412.55 L278.50,412.33 L279.00,412.22 L279.50,412.27 L280.00,412.46 L280.50,412.77 L281.00,413.20 L281.50,413.72 L282.00,414.32 L282.50,414.98 L283.00,415.68 L283.50,416.41 L284.00,417.15 L284.50,417.96 L285.00,418.97 L285.50,420.15 L286.00,421.50 L286.50,422.98 L287.00,424.58 L287.50,426.27 L288.00,428.04 L288.50,429.87 L289.00,431.73 L289.50,433.60 L290.00,435.63 L290.50,437.91 L291.00,440.35 L291.50,442.88 L292.00,445.40 L292.50,447.82 L293.00,450.07 L293.50,452.11 L294.00,454.11 L294.50,456.08 L295.00,458.02 L295.50,459.92 L296.00,461.76 L296.50,463.53 L297.00,465.22 L297.50,466.83 L298.00,468.34 L298.50,469.73 L299.00,471.06 L299.50,472.38 L300.00,473.68 L300.50,474.95 L301.00,476.18 L301.50,477.34 L302.00,478.43 L302.50,479.42 L303.00,480.31 L303.50,481.07 L304.00,481.69 L304.50,482.21 L305.00,482.72 L305.50,483.22 L306.00,483.71 L306.50,484.18 L307.00,484.63 L307.50,485.06 L308.00,485.47 L308.50,485.84 L309.00,486.19 L309.50,486.50 L310.00,486.77 L310.50,487.00 L311.00,487.19 L311.50,487.32 L312.00,487.45 L312.50,487.58 L313.00,487.70 L313.50,487.82 L314.00,487.93 L314.50,488.03 L315.00,488.12 L315.50,488.19 L316.00,488.23 L316.50,488.26 L317.00,488.25 L317.50,488.22 L318.00,488.16 L318.50,488.08 L319.00,487.97 L319.50,487.86 L320.00,487.72 L320.50,487.58 L321.00,487.42 L321.50,487.25 L322.00,487.07 L322.50,486.88 L323.00,486.69 L323.50,486.49 L324.00,486.29 L324.50,486.08 L325.00,485.87 L325.50,485.66 L326.00,485.46 L326.50,485.21 L327.00,484.90 L327.50,484.54 L328.00,484.15 L328.50,483.72 L329.00,483.28 L329.50,482.84 L330.00,482.39 L330.50,481.96 L331.00,481.55 L331.50,481.17 L332.00,480.83 L332.50,480.55 L333.00,480.32 L333.50,480.17 L334.00,480.10 L334.50,480.13 L335.00,480.29 L335.50,480.57 L336.00,480.94 L336.50,481.39 L337.00,481.91 L337.50,482.47 L338.00,483.06 L338.50,483.66 L339.00,484.25 L339.50,484.81 L340.00,485.33 L340.50,485.79 L341.00,486.17 L341.50,486.53 L342.00,486.91 L342.50,487.28 L343.00,487.66 L343.50,488.03 L344.00,488.40 L344.50,488.75 L345.00,489.09 L345.50,489.40 L346.00,489.69 L346.50,489.95 L347.00,490.18 L347.50,490.37 L348.00,490.52 L348.50,490.62 L349.00,490.67 L349.50,490.67 L350.00,490.64 L350.50,490.57 L351.00,490.47 L351.50,490.36 L352.00,490.23 L352.50,490.09 L353.00,489.95 L353.50,489.81 L354.00,489.68 L354.50,489.56 L355.00,489.47 L355.50,489.40 L356.00,489.37 L356.50,489.37 L357.00,489.42 L357.50,489.52 L358.00,489.66 L358.50,489.83 L359.00,490.02 L359.50,490.22 L360.00,490.44 L360.50,490.68 L361.00,490.92 L361.50,491.17 L362.00,491.42 L362.50,491.67 L363.00,491.91 L363.50,492.15 L364.00,492.39 L364.50,492.65 L365.00,492.92 L365.50,493.19 L366.00,493.46 L366.50,493.73 L367.00,494.00 L367.50,494.25 L368.00,494.49 L368.50,494.70 L369.00,494.90 L369.50,495.06 L370.00,495.22 L370.50,495.37 L371.00,495.50 L371.50,495.63 L372.00,495.74 L372.50,495.83 L373.00,495.91 L373.50,495.97 L374.00,496.02 L374.50,496.05 L375.00,496.09 L375.50,496.13 L376.00,496.16 L376.50,496.19 L377.00,496.22 L377.50,496.25 L378.00,496.28 L378.50,496.31 L379.00,496.33 L379.50,496.35 L380.00,496.37 L380.50,496.39 L381.00,496.41 L381.50,496.42 L382.00,496.43 L382.50,496.44 L383.00,496.45 L383.50,496.46 L384.00,496.46 L384.50,496.47 L385.00,496.47 L385.50,496.46 L386.00,496.46 L386.50,496.45 L387.00,496.45 L387.50,496.43 L388.00,496.42 L388.50,496.41 L389.00,496.39 L389.50,496.37 L390.00,496.35 L390.50,496.32 L391.00,496.30 L391.50,496.27 L392.00,496.23" fill="none" stroke="#8000FF" stroke-width="1.8" stroke-linejoin="round" stroke-linecap="round"/>
<g fill="#8000FF"><circle cx="190.50" cy="496.22" r="1.85"/><circle cx="192.25" cy="496.29" r="1.85"/><circle cx="194.00" cy="496.26" r="1.85"/><circle cx="195.75" cy="496.13" r="1.85"/><circle cx="197.50" cy="495.87" r="1.85"/><circle cx="199.25" cy="495.49" r="1.85"/><circle cx="201.00" cy="495.03" r="1.85"/><circle cx="202.75" cy="494.50" r="1.85"/><circle cx="204.50" cy="493.89" r="1.85"/><circle cx="206.25" cy="493.03" r="1.85"/><circle cx="208.00" cy="491.97" r="1.85"/><circle cx="209.75" cy="490.81" r="1.85"/><circle cx="211.50" cy="489.61" r="1.85"/><circle cx="213.25" cy="488.25" r="1.85"/><circle cx="215.00" cy="486.74" r="1.85"/><circle cx="216.75" cy="485.12" r="1.85"/><circle cx="218.50" cy="483.40" r="1.85"/><circle cx="220.25" cy="481.52" r="1.85"/><circle cx="222.00" cy="479.57" r="1.85"/><circle cx="223.75" cy="477.66" r="1.85"/><circle cx="225.50" cy="475.68" r="1.85"/><circle cx="227.25" cy="473.92" r="1.85"/><circle cx="229.00" cy="472.92" r="1.85"/><circle cx="230.75" cy="472.48" r="1.85"/><circle cx="232.50" cy="472.78" r="1.85"/><circle cx="234.25" cy="473.84" r="1.85"/><circle cx="236.00" cy="475.22" r="1.85"/><circle cx="237.75" cy="476.43" r="1.85"/><circle cx="239.50" cy="477.34" r="1.85"/><circle cx="241.25" cy="478.00" r="1.85"/><circle cx="243.00" cy="478.15" r="1.85"/><circle cx="244.75" cy="477.08" r="1.85"/><circle cx="246.50" cy="475.14" r="1.85"/><circle cx="248.25" cy="472.79" r="1.85"/><circle cx="250.00" cy="469.25" r="1.85"/><circle cx="251.75" cy="464.95" r="1.85"/><circle cx="253.50" cy="460.49" r="1.85"/><circle cx="255.25" cy="455.57" r="1.85"/><circle cx="257.00" cy="450.81" r="1.85"/><circle cx="258.75" cy="446.97" r="1.85"/><circle cx="260.50" cy="443.60" r="1.85"/><circle cx="262.25" cy="439.17" r="1.85"/><circle cx="264.00" cy="434.72" r="1.85"/><circle cx="265.75" cy="431.20" r="1.85"/><circle cx="267.50" cy="427.57" r="1.85"/><circle cx="269.25" cy="423.90" r="1.85"/><circle cx="271.00" cy="420.64" r="1.85"/><circle cx="272.75" cy="417.99" r="1.85"/><circle cx="274.50" cy="415.66" r="1.85"/><circle cx="276.25" cy="413.78" r="1.85"/><circle cx="278.00" cy="412.55" r="1.85"/><circle cx="279.75" cy="412.35" r="1.85"/><circle cx="281.50" cy="413.72" r="1.85"/><circle cx="283.25" cy="416.04" r="1.85"/><circle cx="285.00" cy="418.97" r="1.85"/><circle cx="286.75" cy="423.76" r="1.85"/><circle cx="288.50" cy="429.87" r="1.85"/><circle cx="290.25" cy="436.74" r="1.85"/><circle cx="292.00" cy="445.40" r="1.85"/><circle cx="293.75" cy="453.11" r="1.85"/><circle cx="295.50" cy="459.92" r="1.85"/><circle cx="297.25" cy="466.04" r="1.85"/><circle cx="299.00" cy="471.06" r="1.85"/><circle cx="300.75" cy="475.57" r="1.85"/><circle cx="302.50" cy="479.42" r="1.85"/><circle cx="304.25" cy="481.95" r="1.85"/><circle cx="306.00" cy="483.71" r="1.85"/><circle cx="307.75" cy="485.27" r="1.85"/><circle cx="309.50" cy="486.50" r="1.85"/><circle cx="311.25" cy="487.26" r="1.85"/><circle cx="313.00" cy="487.70" r="1.85"/><circle cx="314.75" cy="488.08" r="1.85"/><circle cx="316.50" cy="488.26" r="1.85"/><circle cx="318.25" cy="488.12" r="1.85"/><circle cx="320.00" cy="487.72" r="1.85"/><circle cx="321.75" cy="487.16" r="1.85"/><circle cx="323.50" cy="486.49" r="1.85"/><circle cx="325.25" cy="485.77" r="1.85"/><circle cx="327.00" cy="484.90" r="1.85"/><circle cx="328.75" cy="483.51" r="1.85"/><circle cx="330.50" cy="481.96" r="1.85"/><circle cx="332.25" cy="480.68" r="1.85"/><circle cx="334.00" cy="480.10" r="1.85"/><circle cx="335.75" cy="480.74" r="1.85"/><circle cx="337.50" cy="482.47" r="1.85"/><circle cx="339.25" cy="484.53" r="1.85"/><circle cx="341.00" cy="486.17" r="1.85"/><circle cx="342.75" cy="487.47" r="1.85"/><circle cx="344.50" cy="488.75" r="1.85"/><circle cx="346.25" cy="489.83" r="1.85"/><circle cx="348.00" cy="490.52" r="1.85"/><circle cx="349.75" cy="490.66" r="1.85"/><circle cx="351.50" cy="490.36" r="1.85"/><circle cx="353.25" cy="489.87" r="1.85"/><circle cx="355.00" cy="489.47" r="1.85"/><circle cx="356.75" cy="489.39" r="1.85"/><circle cx="358.50" cy="489.83" r="1.85"/><circle cx="360.25" cy="490.56" r="1.85"/><circle cx="362.00" cy="491.42" r="1.85"/><circle cx="363.75" cy="492.27" r="1.85"/><circle cx="365.50" cy="493.19" r="1.85"/><circle cx="367.25" cy="494.12" r="1.85"/><circle cx="369.00" cy="494.90" r="1.85"/><circle cx="370.75" cy="495.44" r="1.85"/><circle cx="372.50" cy="495.83" r="1.85"/><circle cx="374.25" cy="496.04" r="1.85"/><circle cx="376.00" cy="496.16" r="1.85"/><circle cx="377.75" cy="496.27" r="1.85"/><circle cx="379.50" cy="496.35" r="1.85"/><circle cx="381.25" cy="496.41" r="1.85"/><circle cx="383.00" cy="496.45" r="1.85"/><circle cx="384.75" cy="496.47" r="1.85"/><circle cx="386.50" cy="496.45" r="1.85"/><circle cx="388.25" cy="496.41" r="1.85"/><circle cx="390.00" cy="496.35" r="1.85"/><circle cx="391.75" cy="496.25" r="1.85"/></g>
<path d="M190.50,495.19 L191.00,495.16 L191.50,495.11 L192.00,495.04 L192.50,494.95 L193.00,494.85 L193.50,494.74 L194.00,494.62 L194.50,494.49 L195.00,494.35 L195.50,494.20 L196.00,494.05 L196.50,493.89 L197.00,493.73 L197.50,493.55 L198.00,493.34 L198.50,493.11 L199.00,492.85 L199.50,492.57 L200.00,492.28 L200.50,491.98 L201.00,491.66 L201.50,491.34 L202.00,491.02 L202.50,490.69 L203.00,490.36 L203.50,490.04 L204.00,489.70 L204.50,489.34 L205.00,488.97 L205.50,488.58 L206.00,488.17 L206.50,487.74 L207.00,487.30 L207.50,486.85 L208.00,486.38 L208.50,485.90 L209.00,485.40 L209.50,484.87 L210.00,484.27 L210.50,483.62 L211.00,482.93 L211.50,482.19 L212.00,481.43 L212.50,480.65 L213.00,479.86 L213.50,479.06 L214.00,478.24 L214.50,477.37 L215.00,476.44 L215.50,475.44 L216.00,474.36 L216.50,473.20 L217.00,471.96 L217.50,470.62 L218.00,469.02 L218.50,467.16 L219.00,465.12 L219.50,462.98 L220.00,460.84 L220.50,458.77 L221.00,456.86 L221.50,455.18 L222.00,453.60 L222.50,452.04 L223.00,450.51 L223.50,449.04 L224.00,447.66 L224.50,446.39 L225.00,445.24 L225.50,444.26 L226.00,443.45 L226.50,442.69 L227.00,441.93 L227.50,441.19 L228.00,440.49 L228.50,439.84 L229.00,439.27 L229.50,438.80 L230.00,438.44 L230.50,438.21 L231.00,438.14 L231.50,438.23 L232.00,438.46 L232.50,438.77 L233.00,439.17 L233.50,439.64 L234.00,440.16 L234.50,440.73 L235.00,441.33 L235.50,441.96 L236.00,442.59 L236.50,443.23 L237.00,443.86 L237.50,444.60 L238.00,445.44 L238.50,446.34 L239.00,447.27 L239.50,448.19 L240.00,449.06 L240.50,449.84 L241.00,450.49 L241.50,450.98 L242.00,451.18 L242.50,451.07 L243.00,450.70 L243.50,450.11 L244.00,449.34 L244.50,448.43 L245.00,447.42 L245.50,446.36 L246.00,445.28 L246.50,443.92 L247.00,442.21 L247.50,440.23 L248.00,438.03 L248.50,435.69 L249.00,433.29 L249.50,430.90 L250.00,428.40 L250.50,425.69 L251.00,422.88 L251.50,420.08 L252.00,417.37 L252.50,414.75 L253.00,412.16 L253.50,409.58 L254.00,406.96 L254.50,404.28 L255.00,401.50 L255.50,398.71 L256.00,395.98 L256.50,393.40 L257.00,390.94 L257.50,388.58 L258.00,386.26 L258.50,383.96 L259.00,381.70 L259.50,379.54 L260.00,377.42 L260.50,375.26 L261.00,372.99 L261.50,370.52 L262.00,367.49 L262.50,364.20 L263.00,361.44 L263.50,358.82 L264.00,356.31 L264.50,353.86 L265.00,351.43 L265.50,349.01 L266.00,346.53 L266.50,343.98 L267.00,341.32 L267.50,338.50 L268.00,335.59 L268.50,332.63 L269.00,329.69 L269.50,326.81 L270.00,324.05 L270.50,321.47 L271.00,319.08 L271.50,316.73 L272.00,314.46 L272.50,312.28 L273.00,310.24 L273.50,308.37 L274.00,306.71 L274.50,305.30 L275.00,304.03 L275.50,302.80 L276.00,301.64 L276.50,300.57 L277.00,299.62 L277.50,298.81 L278.00,298.18 L278.50,297.75 L279.00,297.55 L279.50,297.64 L280.00,298.01 L280.50,298.60 L281.00,299.38 L281.50,300.33 L282.00,301.39 L282.50,302.53 L283.00,303.72 L283.50,305.03 L284.00,306.84 L284.50,309.10 L285.00,311.70 L285.50,314.54 L286.00,317.51 L286.50,320.50 L287.00,323.67 L287.50,327.24 L288.00,331.16 L288.50,335.40 L289.00,339.94 L289.50,344.72 L290.00,350.13 L290.50,357.09 L291.00,364.25 L291.50,370.00 L292.00,373.41 L292.50,375.80 L293.00,379.00 L293.50,383.68 L294.00,388.88 L294.50,393.90 L295.00,398.62 L295.50,403.20 L296.00,407.40 L296.50,411.06 L297.00,414.45 L297.50,417.90 L298.00,421.66 L298.50,425.56 L299.00,429.33 L299.50,432.70 L300.00,435.68 L300.50,438.48 L301.00,441.11 L301.50,443.59 L302.00,445.94 L302.50,448.20 L303.00,450.46 L303.50,452.70 L304.00,454.89 L304.50,456.97 L305.00,458.89 L305.50,460.60 L306.00,462.08 L306.50,463.45 L307.00,464.80 L307.50,466.12 L308.00,467.38 L308.50,468.58 L309.00,469.70 L309.50,470.74 L310.00,471.66 L310.50,472.48 L311.00,473.16 L311.50,473.70 L312.00,474.19 L312.50,474.69 L313.00,475.17 L313.50,475.63 L314.00,476.05 L314.50,476.43 L315.00,476.75 L315.50,477.01 L316.00,477.19 L316.50,477.29 L317.00,477.29 L317.50,477.24 L318.00,477.14 L318.50,477.00 L319.00,476.81 L319.50,476.57 L320.00,476.30 L320.50,475.98 L321.00,475.62 L321.50,475.22 L322.00,474.78 L322.50,474.30 L323.00,473.73 L323.50,473.09 L324.00,472.37 L324.50,471.61 L325.00,470.80 L325.50,469.97 L326.00,469.13 L326.50,468.30 L327.00,467.48 L327.50,466.70 L328.00,465.94 L328.50,465.13 L329.00,464.27 L329.50,463.39 L330.00,462.49 L330.50,461.60 L331.00,460.73 L331.50,459.91 L332.00,459.14 L332.50,458.45 L333.00,457.85 L333.50,457.36 L334.00,457.00 L334.50,456.83 L335.00,456.98 L335.50,457.43 L336.00,458.11 L336.50,458.98 L337.00,459.98 L337.50,461.05 L338.00,462.14 L338.50,463.20 L339.00,464.22 L339.50,465.37 L340.00,466.64 L340.50,467.99 L341.00,469.39 L341.50,470.78 L342.00,472.15 L342.50,473.45 L343.00,474.64 L343.50,475.69 L344.00,476.56 L344.50,477.37 L345.00,478.18 L345.50,478.97 L346.00,479.71 L346.50,480.39 L347.00,481.00 L347.50,481.51 L348.00,481.91 L348.50,482.18 L349.00,482.30 L349.50,482.28 L350.00,482.23 L350.50,482.16 L351.00,482.09 L351.50,482.00 L352.00,481.92 L352.50,481.83 L353.00,481.76 L353.50,481.69 L354.00,481.63 L354.50,481.59 L355.00,481.56 L355.50,481.53 L356.00,481.51 L356.50,481.49 L357.00,481.48 L357.50,481.49 L358.00,481.51 L358.50,481.55 L359.00,481.62 L359.50,481.81 L360.00,482.15 L360.50,482.61 L361.00,483.15 L361.50,483.76 L362.00,484.40 L362.50,485.04 L363.00,485.65 L363.50,486.21 L364.00,486.77 L364.50,487.37 L365.00,488.00 L365.50,488.64 L366.00,489.28 L366.50,489.92 L367.00,490.53 L367.50,491.12 L368.00,491.66 L368.50,492.15 L369.00,492.58 L369.50,492.94 L370.00,493.28 L370.50,493.60 L371.00,493.91 L371.50,494.20 L372.00,494.48 L372.50,494.72 L373.00,494.94 L373.50,495.13 L374.00,495.28 L374.50,495.40 L375.00,495.48 L375.50,495.51 L376.00,495.54 L376.50,495.57 L377.00,495.60 L377.50,495.62 L378.00,495.65 L378.50,495.67 L379.00,495.70 L379.50,495.72 L380.00,495.74 L380.50,495.76 L381.00,495.77 L381.50,495.78 L382.00,495.79 L382.50,495.80 L383.00,495.80 L383.50,495.80 L384.00,495.81 L384.50,495.81 L385.00,495.81 L385.50,495.81 L386.00,495.82 L386.50,495.82 L387.00,495.82 L387.50,495.82 L388.00,495.82 L388.50,495.82 L389.00,495.82 L389.50,495.82 L390.00,495.82 L390.50,495.82 L391.00,495.82 L391.50,495.81 L392.00,495.81" fill="none" stroke="#FF0080" stroke-width="1.8" stroke-linejoin="round" stroke-linecap="round"/>
<g fill="#FF0080"><circle cx="190.50" cy="495.19" r="1.85"/><circle cx="192.25" cy="495.00" r="1.85"/><circle cx="194.00" cy="494.62" r="1.85"/><circle cx="195.75" cy="494.12" r="1.85"/><circle cx="197.50" cy="493.55" r="1.85"/><circle cx="199.25" cy="492.71" r="1.85"/><circle cx="201.00" cy="491.66" r="1.85"/><circle cx="202.75" cy="490.52" r="1.85"/><circle cx="204.50" cy="489.34" r="1.85"/><circle cx="206.25" cy="487.96" r="1.85"/><circle cx="208.00" cy="486.38" r="1.85"/><circle cx="209.75" cy="484.57" r="1.85"/><circle cx="211.50" cy="482.19" r="1.85"/><circle cx="213.25" cy="479.46" r="1.85"/><circle cx="215.00" cy="476.44" r="1.85"/><circle cx="216.75" cy="472.59" r="1.85"/><circle cx="218.50" cy="467.16" r="1.85"/><circle cx="220.25" cy="459.79" r="1.85"/><circle cx="222.00" cy="453.60" r="1.85"/><circle cx="223.75" cy="448.34" r="1.85"/><circle cx="225.50" cy="444.26" r="1.85"/><circle cx="227.25" cy="441.56" r="1.85"/><circle cx="229.00" cy="439.27" r="1.85"/><circle cx="230.75" cy="438.15" r="1.85"/><circle cx="232.50" cy="438.77" r="1.85"/><circle cx="234.25" cy="440.44" r="1.85"/><circle cx="236.00" cy="442.59" r="1.85"/><circle cx="237.75" cy="445.01" r="1.85"/><circle cx="239.50" cy="448.19" r="1.85"/><circle cx="241.25" cy="450.76" r="1.85"/><circle cx="243.00" cy="450.70" r="1.85"/><circle cx="244.75" cy="447.93" r="1.85"/><circle cx="246.50" cy="443.92" r="1.85"/><circle cx="248.25" cy="436.87" r="1.85"/><circle cx="250.00" cy="428.40" r="1.85"/><circle cx="251.75" cy="418.70" r="1.85"/><circle cx="253.50" cy="409.58" r="1.85"/><circle cx="255.25" cy="400.11" r="1.85"/><circle cx="257.00" cy="390.94" r="1.85"/><circle cx="258.75" cy="382.81" r="1.85"/><circle cx="260.50" cy="375.26" r="1.85"/><circle cx="262.25" cy="365.77" r="1.85"/><circle cx="264.00" cy="356.31" r="1.85"/><circle cx="265.75" cy="347.78" r="1.85"/><circle cx="267.50" cy="338.50" r="1.85"/><circle cx="269.25" cy="328.23" r="1.85"/><circle cx="271.00" cy="319.08" r="1.85"/><circle cx="272.75" cy="311.24" r="1.85"/><circle cx="274.50" cy="305.30" r="1.85"/><circle cx="276.25" cy="301.09" r="1.85"/><circle cx="278.00" cy="298.18" r="1.85"/><circle cx="279.75" cy="297.79" r="1.85"/><circle cx="281.50" cy="300.33" r="1.85"/><circle cx="283.25" cy="304.32" r="1.85"/><circle cx="285.00" cy="311.70" r="1.85"/><circle cx="286.75" cy="322.03" r="1.85"/><circle cx="288.50" cy="335.40" r="1.85"/><circle cx="290.25" cy="353.49" r="1.85"/><circle cx="292.00" cy="373.41" r="1.85"/><circle cx="293.75" cy="386.26" r="1.85"/><circle cx="295.50" cy="403.20" r="1.85"/><circle cx="297.25" cy="416.14" r="1.85"/><circle cx="299.00" cy="429.33" r="1.85"/><circle cx="300.75" cy="439.81" r="1.85"/><circle cx="302.50" cy="448.20" r="1.85"/><circle cx="304.25" cy="455.94" r="1.85"/><circle cx="306.00" cy="462.08" r="1.85"/><circle cx="307.75" cy="466.76" r="1.85"/><circle cx="309.50" cy="470.74" r="1.85"/><circle cx="311.25" cy="473.45" r="1.85"/><circle cx="313.00" cy="475.17" r="1.85"/><circle cx="314.75" cy="476.60" r="1.85"/><circle cx="316.50" cy="477.29" r="1.85"/><circle cx="318.25" cy="477.07" r="1.85"/><circle cx="320.00" cy="476.30" r="1.85"/><circle cx="321.75" cy="475.01" r="1.85"/><circle cx="323.50" cy="473.09" r="1.85"/><circle cx="325.25" cy="470.39" r="1.85"/><circle cx="327.00" cy="467.48" r="1.85"/><circle cx="328.75" cy="464.71" r="1.85"/><circle cx="330.50" cy="461.60" r="1.85"/><circle cx="332.25" cy="458.78" r="1.85"/><circle cx="334.00" cy="457.00" r="1.85"/><circle cx="335.75" cy="457.75" r="1.85"/><circle cx="337.50" cy="461.05" r="1.85"/><circle cx="339.25" cy="464.78" r="1.85"/><circle cx="341.00" cy="469.39" r="1.85"/><circle cx="342.75" cy="474.06" r="1.85"/><circle cx="344.50" cy="477.37" r="1.85"/><circle cx="346.25" cy="480.06" r="1.85"/><circle cx="348.00" cy="481.91" r="1.85"/><circle cx="349.75" cy="482.26" r="1.85"/><circle cx="351.50" cy="482.00" r="1.85"/><circle cx="353.25" cy="481.72" r="1.85"/><circle cx="355.00" cy="481.56" r="1.85"/><circle cx="356.75" cy="481.48" r="1.85"/><circle cx="358.50" cy="481.55" r="1.85"/><circle cx="360.25" cy="482.36" r="1.85"/><circle cx="362.00" cy="484.40" r="1.85"/><circle cx="363.75" cy="486.49" r="1.85"/><circle cx="365.50" cy="488.64" r="1.85"/><circle cx="367.25" cy="490.83" r="1.85"/><circle cx="369.00" cy="492.58" r="1.85"/><circle cx="370.75" cy="493.76" r="1.85"/><circle cx="372.50" cy="494.72" r="1.85"/><circle cx="374.25" cy="495.35" r="1.85"/><circle cx="376.00" cy="495.54" r="1.85"/><circle cx="377.75" cy="495.64" r="1.85"/><circle cx="379.50" cy="495.72" r="1.85"/><circle cx="381.25" cy="495.78" r="1.85"/><circle cx="383.00" cy="495.80" r="1.85"/><circle cx="384.75" cy="495.81" r="1.85"/><circle cx="386.50" cy="495.82" r="1.85"/><circle cx="388.25" cy="495.82" r="1.85"/><circle cx="390.00" cy="495.82" r="1.85"/><circle cx="391.75" cy="495.81" r="1.85"/></g>
<text x="130.2" y="438.8" font-size="16.4" text-anchor="start" fill="#151515" stroke="#151515" stroke-width="0.12" transform="rotate(-90 130.2 438.8)">Absorbance</text>
<text x="219.8" y="539.6" font-size="16.5" text-anchor="start" fill="#151515" stroke="#151515" stroke-width="0.12">Wavelength (nm)</text>
<line x1="178.60" y1="297.70" x2="208.60" y2="297.70" stroke="#008000" stroke-width="1.7"/><circle cx="193.5" cy="297.70" r="2" fill="#008000"/>
<text x="211.8" y="302.2" font-size="12" text-anchor="start" fill="#151515" stroke="#151515" stroke-width="0.22">1</text>
<line x1="178.60" y1="313.55" x2="208.60" y2="313.55" stroke="#FF8000" stroke-width="1.7"/><circle cx="193.5" cy="313.55" r="2" fill="#FF8000"/>
<text x="211.8" y="318.05" font-size="12" text-anchor="start" fill="#151515" stroke="#151515" stroke-width="0.22">2</text>
<line x1="178.60" y1="329.40" x2="208.60" y2="329.40" stroke="#8000FF" stroke-width="1.7"/><circle cx="193.5" cy="329.40" r="2" fill="#8000FF"/>
<text x="211.8" y="333.9" font-size="12" text-anchor="start" fill="#151515" stroke="#151515" stroke-width="0.22">3</text>
<line x1="178.60" y1="345.25" x2="208.60" y2="345.25" stroke="#FF0080" stroke-width="1.7"/><circle cx="193.5" cy="345.25" r="2" fill="#FF0080"/>
<text x="211.8" y="349.75" font-size="12" text-anchor="start" fill="#151515" stroke="#151515" stroke-width="0.22">4</text>
<text x="179.0" y="367.4" font-size="15.5" text-anchor="start" fill="#151515" stroke="#151515" stroke-width="0.12">(c)</text>
<line x1="341.60" y1="283.30" x2="341.60" y2="412.50" stroke="#606060" stroke-width="1.3"/>
<line x1="341.60" y1="410.30" x2="477.20" y2="410.30" stroke="#606060" stroke-width="1.3"/>
<line x1="341.60" y1="410.30" x2="341.60" y2="412.50" stroke="#606060" stroke-width="1.105"/>
<line x1="355.16" y1="410.30" x2="355.16" y2="413.90" stroke="#606060" stroke-width="1.105"/>
<line x1="368.72" y1="410.30" x2="368.72" y2="412.50" stroke="#606060" stroke-width="1.105"/>
<line x1="382.28" y1="410.30" x2="382.28" y2="413.90" stroke="#606060" stroke-width="1.105"/>
<line x1="395.84" y1="410.30" x2="395.84" y2="412.50" stroke="#606060" stroke-width="1.105"/>
<line x1="409.40" y1="410.30" x2="409.40" y2="413.90" stroke="#606060" stroke-width="1.105"/>
<line x1="422.96" y1="410.30" x2="422.96" y2="412.50" stroke="#606060" stroke-width="1.105"/>
<line x1="436.52" y1="410.30" x2="436.52" y2="413.90" stroke="#606060" stroke-width="1.105"/>
<line x1="450.08" y1="410.30" x2="450.08" y2="412.50" stroke="#606060" stroke-width="1.105"/>
<line x1="463.64" y1="410.30" x2="463.64" y2="413.90" stroke="#606060" stroke-width="1.105"/>
<line x1="477.20" y1="410.30" x2="477.20" y2="412.50" stroke="#606060" stroke-width="1.105"/>
<text x="355.16" y="424.2" font-size="9.8" text-anchor="middle" fill="#151515" stroke="#151515" stroke-width="0.22">400</text>
<text x="382.28" y="424.2" font-size="9.8" text-anchor="middle" fill="#151515" stroke="#151515" stroke-width="0.22">500</text>
<text x="409.40" y="424.2" font-size="9.8" text-anchor="middle" fill="#151515" stroke="#151515" stroke-width="0.22">600</text>
<text x="436.52" y="424.2" font-size="9.8" text-anchor="middle" fill="#151515" stroke="#151515" stroke-width="0.22">700</text>
<text x="463.64" y="424.2" font-size="9.8" text-anchor="middle" fill="#151515" stroke="#151515" stroke-width="0.22">800</text>
<path d="M342.20,409.60 L342.70,409.59 L343.20,409.53 L343.70,409.43 L344.20,409.31 L344.70,409.15 L345.20,408.96 L345.70,408.74 L346.20,408.51 L346.70,408.25 L347.20,407.98 L347.70,407.69 L348.20,407.40 L348.70,407.09 L349.20,406.78 L349.70,406.46 L350.20,406.13 L350.70,405.74 L351.20,405.29 L351.70,404.79 L352.20,404.25 L352.70,403.66 L353.20,403.03 L353.70,402.37 L354.20,401.68 L354.70,400.96 L355.20,400.22 L355.70,399.46 L356.20,398.68 L356.70,397.83 L357.20,396.91 L357.70,395.93 L358.20,394.90 L358.70,393.85 L359.20,392.77 L359.70,391.70 L360.20,390.64 L360.70,389.60 L361.20,388.60 L361.70,387.57 L362.20,386.53 L362.70,385.48 L363.20,384.44 L363.70,383.40 L364.20,382.39 L364.70,381.41 L365.20,380.47 L365.70,379.57 L366.20,378.68 L366.70,377.74 L367.20,376.80 L367.70,375.94 L368.20,375.22 L368.70,374.71 L369.20,374.48 L369.70,374.58 L370.20,374.99 L370.70,375.61 L371.20,376.39 L371.70,377.24 L372.20,378.09 L372.70,378.87 L373.20,379.52 L373.70,380.11 L374.20,380.70 L374.70,381.27 L375.20,381.80 L375.70,382.29 L376.20,382.71 L376.70,383.04 L377.20,383.20 L377.70,383.03 L378.20,382.58 L378.70,381.89 L379.20,381.01 L379.70,379.99 L380.20,378.89 L380.70,377.69 L381.20,376.07 L381.70,374.02 L382.20,371.65 L382.70,369.06 L383.20,366.35 L383.70,363.63 L384.20,361.00 L384.70,358.40 L385.20,355.71 L385.70,352.95 L386.20,350.14 L386.70,347.31 L387.20,344.47 L387.70,341.65 L388.20,338.86 L388.70,336.13 L389.20,333.47 L389.70,330.83 L390.20,328.18 L390.70,325.53 L391.20,322.91 L391.70,320.33 L392.20,317.81 L392.70,315.36 L393.20,313.02 L393.70,310.78 L394.20,308.66 L394.70,306.56 L395.20,304.47 L395.70,302.42 L396.20,300.45 L396.70,298.58 L397.20,296.84 L397.70,295.26 L398.20,293.87 L398.70,292.70 L399.20,291.76 L399.70,290.97 L400.20,290.33 L400.70,289.84 L401.20,289.50 L401.70,289.33 L402.20,289.35 L402.70,289.75 L403.20,290.51 L403.70,291.61 L404.20,293.02 L404.70,294.82 L405.20,297.86 L405.70,301.74 L406.20,305.78 L406.70,309.36 L407.20,312.66 L407.70,315.89 L408.20,319.21 L408.70,322.73 L409.20,326.61 L409.70,330.95 L410.20,335.59 L410.70,340.34 L411.20,345.00 L411.70,349.72 L412.20,354.58 L412.70,359.28 L413.20,363.51 L413.70,367.11 L414.20,370.50 L414.70,373.71 L415.20,376.70 L415.70,379.42 L416.20,381.85 L416.70,383.93 L417.20,385.67 L417.70,387.34 L418.20,388.97 L418.70,390.51 L419.20,391.93 L419.70,393.16 L420.20,394.17 L420.70,394.90 L421.20,395.37 L421.70,395.82 L422.20,396.27 L422.70,396.71 L423.20,397.12 L423.70,397.48 L424.20,397.79 L424.70,398.02 L425.20,398.18 L425.70,398.23 L426.20,398.18 L426.70,398.05 L427.20,397.88 L427.70,397.65 L428.20,397.39 L428.70,397.08 L429.20,396.75 L429.70,396.39 L430.20,396.00 L430.70,395.60 L431.20,395.18 L431.70,394.69 L432.20,394.01 L432.70,393.17 L433.20,392.23 L433.70,391.21 L434.20,390.17 L434.70,389.14 L435.20,388.18 L435.70,387.31 L436.20,386.59 L436.70,386.06 L437.20,385.75 L437.70,385.72 L438.20,385.98 L438.70,386.49 L439.20,387.20 L439.70,388.07 L440.20,389.05 L440.70,390.09 L441.20,391.14 L441.70,392.15 L442.20,393.07 L442.70,393.86 L443.20,394.55 L443.70,395.25 L444.20,395.97 L444.70,396.68 L445.20,397.38 L445.70,398.05 L446.20,398.66 L446.70,399.21 L447.20,399.69 L447.70,400.07 L448.20,400.34 L448.70,400.49 L449.20,400.53 L449.70,400.48 L450.20,400.38 L450.70,400.26 L451.20,400.14 L451.70,400.05 L452.20,400.02 L452.70,400.08 L453.20,400.25 L453.70,400.53 L454.20,400.87 L454.70,401.25 L455.20,401.67 L455.70,402.10 L456.20,402.55 L456.70,403.00 L457.20,403.44 L457.70,403.87 L458.20,404.27 L458.70,404.65 L459.20,405.02 L459.70,405.41 L460.20,405.79 L460.70,406.18 L461.20,406.56 L461.70,406.93 L462.20,407.28 L462.70,407.62 L463.20,407.93 L463.70,408.21 L464.20,408.45 L464.70,408.66 L465.20,408.84 L465.70,409.00 L466.20,409.15 L466.70,409.28 L467.20,409.40 L467.70,409.50 L468.20,409.60 L468.70,409.68 L469.20,409.75 L469.70,409.80 L470.20,409.85 L470.70,409.88 L471.20,409.90 L471.70,409.91 L472.20,409.91 L472.70,409.90 L473.20,409.88 L473.70,409.85 L474.20,409.82 L474.70,409.77 L475.20,409.71 L475.70,409.65 L476.20,409.57 L476.70,409.49 L477.20,409.40" fill="none" stroke="#FF8000" stroke-width="1.9" stroke-linejoin="round" stroke-linecap="round"/>
<g fill="#FF8000"><circle cx="342.20" cy="409.60" r="1.0"/><circle cx="343.60" cy="409.46" r="1.0"/><circle cx="345.00" cy="409.04" r="1.0"/><circle cx="346.40" cy="408.41" r="1.0"/><circle cx="347.80" cy="407.63" r="1.0"/><circle cx="349.20" cy="406.78" r="1.0"/><circle cx="350.60" cy="405.82" r="1.0"/><circle cx="352.00" cy="404.47" r="1.0"/><circle cx="353.40" cy="402.77" r="1.0"/><circle cx="354.80" cy="400.81" r="1.0"/><circle cx="356.20" cy="398.68" r="1.0"/><circle cx="357.60" cy="396.13" r="1.0"/><circle cx="359.00" cy="393.20" r="1.0"/><circle cx="360.40" cy="390.22" r="1.0"/><circle cx="361.80" cy="387.36" r="1.0"/><circle cx="363.20" cy="384.44" r="1.0"/><circle cx="364.60" cy="381.60" r="1.0"/><circle cx="366.00" cy="379.05" r="1.0"/><circle cx="367.40" cy="376.45" r="1.0"/><circle cx="368.80" cy="374.64" r="1.0"/><circle cx="370.20" cy="374.99" r="1.0"/><circle cx="371.60" cy="377.07" r="1.0"/><circle cx="373.00" cy="379.28" r="1.0"/><circle cx="374.40" cy="380.93" r="1.0"/><circle cx="375.80" cy="382.38" r="1.0"/><circle cx="377.20" cy="383.20" r="1.0"/><circle cx="378.60" cy="382.04" r="1.0"/><circle cx="380.00" cy="379.34" r="1.0"/><circle cx="381.40" cy="375.30" r="1.0"/><circle cx="382.80" cy="368.52" r="1.0"/><circle cx="384.20" cy="361.00" r="1.0"/><circle cx="385.60" cy="353.51" r="1.0"/><circle cx="387.00" cy="345.61" r="1.0"/><circle cx="388.40" cy="337.76" r="1.0"/><circle cx="389.80" cy="330.30" r="1.0"/><circle cx="391.20" cy="322.91" r="1.0"/><circle cx="392.60" cy="315.85" r="1.0"/><circle cx="394.00" cy="309.50" r="1.0"/><circle cx="395.40" cy="303.64" r="1.0"/><circle cx="396.80" cy="298.22" r="1.0"/><circle cx="398.20" cy="293.87" r="1.0"/><circle cx="399.60" cy="291.11" r="1.0"/><circle cx="401.00" cy="289.62" r="1.0"/><circle cx="402.40" cy="289.47" r="1.0"/><circle cx="403.80" cy="291.87" r="1.0"/><circle cx="405.20" cy="297.86" r="1.0"/><circle cx="406.60" cy="308.69" r="1.0"/><circle cx="408.00" cy="317.86" r="1.0"/><circle cx="409.40" cy="328.29" r="1.0"/><circle cx="410.80" cy="341.29" r="1.0"/><circle cx="412.20" cy="354.58" r="1.0"/><circle cx="413.60" cy="366.41" r="1.0"/><circle cx="415.00" cy="375.53" r="1.0"/><circle cx="416.40" cy="382.72" r="1.0"/><circle cx="417.80" cy="387.67" r="1.0"/><circle cx="419.20" cy="391.93" r="1.0"/><circle cx="420.60" cy="394.77" r="1.0"/><circle cx="422.00" cy="396.10" r="1.0"/><circle cx="423.40" cy="397.27" r="1.0"/><circle cx="424.80" cy="398.06" r="1.0"/><circle cx="426.20" cy="398.18" r="1.0"/><circle cx="427.60" cy="397.70" r="1.0"/><circle cx="429.00" cy="396.88" r="1.0"/><circle cx="430.40" cy="395.84" r="1.0"/><circle cx="431.80" cy="394.57" r="1.0"/><circle cx="433.20" cy="392.23" r="1.0"/><circle cx="434.60" cy="389.34" r="1.0"/><circle cx="436.00" cy="386.86" r="1.0"/><circle cx="437.40" cy="385.70" r="1.0"/><circle cx="438.80" cy="386.62" r="1.0"/><circle cx="440.20" cy="389.05" r="1.0"/><circle cx="441.60" cy="391.95" r="1.0"/><circle cx="443.00" cy="394.27" r="1.0"/><circle cx="444.40" cy="396.26" r="1.0"/><circle cx="445.80" cy="398.17" r="1.0"/><circle cx="447.20" cy="399.69" r="1.0"/><circle cx="448.60" cy="400.47" r="1.0"/><circle cx="450.00" cy="400.43" r="1.0"/><circle cx="451.40" cy="400.10" r="1.0"/><circle cx="452.80" cy="400.10" r="1.0"/><circle cx="454.20" cy="400.87" r="1.0"/><circle cx="455.60" cy="402.01" r="1.0"/><circle cx="457.00" cy="403.27" r="1.0"/><circle cx="458.40" cy="404.43" r="1.0"/><circle cx="459.80" cy="405.48" r="1.0"/><circle cx="461.20" cy="406.56" r="1.0"/><circle cx="462.60" cy="407.55" r="1.0"/><circle cx="464.00" cy="408.36" r="1.0"/><circle cx="465.40" cy="408.90" r="1.0"/><circle cx="466.80" cy="409.30" r="1.0"/><circle cx="468.20" cy="409.60" r="1.0"/><circle cx="469.60" cy="409.79" r="1.0"/><circle cx="471.00" cy="409.89" r="1.0"/><circle cx="472.40" cy="409.91" r="1.0"/><circle cx="473.80" cy="409.85" r="1.0"/><circle cx="475.20" cy="409.71" r="1.0"/><circle cx="476.60" cy="409.51" r="1.0"/></g>
<path d="M342.20,409.60 L342.70,409.59 L343.20,409.53 L343.70,409.43 L344.20,409.31 L344.70,409.15 L345.20,408.96 L345.70,408.74 L346.20,408.51 L346.70,408.25 L347.20,407.98 L347.70,407.69 L348.20,407.40 L348.70,407.09 L349.20,406.78 L349.70,406.46 L350.20,406.13 L350.70,405.74 L351.20,405.29 L351.70,404.79 L352.20,404.25 L352.70,403.66 L353.20,403.03 L353.70,402.37 L354.20,401.68 L354.70,400.96 L355.20,400.22 L355.70,399.46 L356.20,398.68 L356.70,397.83 L357.20,396.91 L357.70,395.93 L358.20,394.90 L358.70,393.85 L359.20,392.77 L359.70,391.70 L360.20,390.64 L360.70,389.60 L361.20,388.60 L361.70,387.57 L362.20,386.53 L362.70,385.48 L363.20,384.44 L363.70,383.40 L364.20,382.39 L364.70,381.41 L365.20,380.47 L365.70,379.57 L366.20,378.68 L366.70,377.74 L367.20,376.80 L367.70,375.94 L368.20,375.22 L368.70,374.71 L369.20,374.48 L369.70,374.58 L370.20,374.99 L370.70,375.61 L371.20,376.39 L371.70,377.24 L372.20,378.09 L372.70,378.87 L373.20,379.52 L373.70,380.11 L374.20,380.70 L374.70,381.27 L375.20,381.80 L375.70,382.29 L376.20,382.71 L376.70,383.04 L377.20,383.20 L377.70,383.03 L378.20,382.58 L378.70,381.89 L379.20,381.01 L379.70,379.99 L380.20,378.89 L380.70,377.69 L381.20,376.07 L381.70,374.02 L382.20,371.65 L382.70,369.06 L383.20,366.35 L383.70,363.63 L384.20,361.00 L384.70,358.40 L385.20,355.71 L385.70,352.95 L386.20,350.14 L386.70,347.31 L387.20,344.47 L387.70,341.65 L388.20,338.86 L388.70,336.13 L389.20,333.47 L389.70,330.83 L390.20,328.18 L390.70,325.53 L391.20,322.91 L391.70,320.33 L392.20,317.81 L392.70,315.36 L393.20,313.02 L393.70,310.78 L394.20,308.66 L394.70,306.56 L395.20,304.47 L395.70,302.42 L396.20,300.45 L396.70,298.58 L397.20,296.84 L397.70,295.26 L398.20,293.87 L398.70,292.70 L399.20,291.76 L399.70,290.97 L400.20,290.33 L400.70,289.84 L401.20,289.50 L401.70,289.33 L402.20,289.35 L402.70,289.75 L403.20,290.51 L403.70,291.61 L404.20,293.02 L404.70,294.82 L405.20,297.86 L405.70,301.74 L406.20,305.78 L406.70,309.36 L407.20,312.66 L407.70,315.89 L408.20,319.21 L408.70,322.73 L409.20,326.61 L409.70,330.95 L410.20,335.59 L410.70,340.34 L411.20,345.00 L411.70,349.72 L412.20,354.58 L412.70,359.28 L413.20,363.51 L413.70,367.11 L414.20,370.50 L414.70,373.71 L415.20,376.70 L415.70,379.42 L416.20,381.85 L416.70,383.93 L417.20,385.67 L417.70,387.34 L418.20,388.97 L418.70,390.51 L419.20,391.93 L419.70,393.16 L420.20,394.17 L420.70,394.90 L421.20,395.37 L421.70,395.82 L422.20,396.27 L422.70,396.71 L423.20,397.12 L423.70,397.48 L424.20,397.79 L424.70,398.02 L425.20,398.18 L425.70,398.23 L426.20,398.18 L426.70,398.05 L427.20,397.88 L427.70,397.65 L428.20,397.39 L428.70,397.08 L429.20,396.75 L429.70,396.39 L430.20,396.00 L430.70,395.60 L431.20,395.18 L431.70,394.69 L432.20,394.01 L432.70,393.17 L433.20,392.23 L433.70,391.21 L434.20,390.17 L434.70,389.14 L435.20,388.18 L435.70,387.31 L436.20,386.59 L436.70,386.06 L437.20,385.75 L437.70,385.72 L438.20,385.98 L438.70,386.49 L439.20,387.20 L439.70,388.07 L440.20,389.05 L440.70,390.09 L441.20,391.14 L441.70,392.15 L442.20,393.07 L442.70,393.86 L443.20,394.55 L443.70,395.25 L444.20,395.97 L444.70,396.68 L445.20,397.38 L445.70,398.05 L446.20,398.66 L446.70,399.21 L447.20,399.69 L447.70,400.07 L448.20,400.34 L448.70,400.49 L449.20,400.53 L449.70,400.48 L450.20,400.38 L450.70,400.26 L451.20,400.14 L451.70,400.05 L452.20,400.02 L452.70,400.08 L453.20,400.25 L453.70,400.53 L454.20,400.87 L454.70,401.25 L455.20,401.67 L455.70,402.10 L456.20,402.55 L456.70,403.00 L457.20,403.44 L457.70,403.87 L458.20,404.27 L458.70,404.65 L459.20,405.02 L459.70,405.41 L460.20,405.79 L460.70,406.18 L461.20,406.56 L461.70,406.93 L462.20,407.28 L462.70,407.62 L463.20,407.93 L463.70,408.21 L464.20,408.45 L464.70,408.66 L465.20,408.84 L465.70,409.00 L466.20,409.15 L466.70,409.28 L467.20,409.40 L467.70,409.50 L468.20,409.60 L468.70,409.68 L469.20,409.75 L469.70,409.80 L470.20,409.85 L470.70,409.88 L471.20,409.90 L471.70,409.91 L472.20,409.91 L472.70,409.90 L473.20,409.88 L473.70,409.85 L474.20,409.82 L474.70,409.77 L475.20,409.71 L475.70,409.65 L476.20,409.57 L476.70,409.49 L477.20,409.40" fill="none" stroke="#8000FF" stroke-width="1.9" stroke-linejoin="round" stroke-linecap="round"/>
<g fill="#8000FF"><circle cx="342.20" cy="409.60" r="1.0"/><circle cx="343.60" cy="409.46" r="1.0"/><circle cx="345.00" cy="409.04" r="1.0"/><circle cx="346.40" cy="408.41" r="1.0"/><circle cx="347.80" cy="407.63" r="1.0"/><circle cx="349.20" cy="406.78" r="1.0"/><circle cx="350.60" cy="405.82" r="1.0"/><circle cx="352.00" cy="404.47" r="1.0"/><circle cx="353.40" cy="402.77" r="1.0"/><circle cx="354.80" cy="400.81" r="1.0"/><circle cx="356.20" cy="398.68" r="1.0"/><circle cx="357.60" cy="396.13" r="1.0"/><circle cx="359.00" cy="393.20" r="1.0"/><circle cx="360.40" cy="390.22" r="1.0"/><circle cx="361.80" cy="387.36" r="1.0"/><circle cx="363.20" cy="384.44" r="1.0"/><circle cx="364.60" cy="381.60" r="1.0"/><circle cx="366.00" cy="379.05" r="1.0"/><circle cx="367.40" cy="376.45" r="1.0"/><circle cx="368.80" cy="374.64" r="1.0"/><circle cx="370.20" cy="374.99" r="1.0"/><circle cx="371.60" cy="377.07" r="1.0"/><circle cx="373.00" cy="379.28" r="1.0"/><circle cx="374.40" cy="380.93" r="1.0"/><circle cx="375.80" cy="382.38" r="1.0"/><circle cx="377.20" cy="383.20" r="1.0"/><circle cx="378.60" cy="382.04" r="1.0"/><circle cx="380.00" cy="379.34" r="1.0"/><circle cx="381.40" cy="375.30" r="1.0"/><circle cx="382.80" cy="368.52" r="1.0"/><circle cx="384.20" cy="361.00" r="1.0"/><circle cx="385.60" cy="353.51" r="1.0"/><circle cx="387.00" cy="345.61" r="1.0"/><circle cx="388.40" cy="337.76" r="1.0"/><circle cx="389.80" cy="330.30" r="1.0"/><circle cx="391.20" cy="322.91" r="1.0"/><circle cx="392.60" cy="315.85" r="1.0"/><circle cx="394.00" cy="309.50" r="1.0"/><circle cx="395.40" cy="303.64" r="1.0"/><circle cx="396.80" cy="298.22" r="1.0"/><circle cx="398.20" cy="293.87" r="1.0"/><circle cx="399.60" cy="291.11" r="1.0"/><circle cx="401.00" cy="289.62" r="1.0"/><circle cx="402.40" cy="289.47" r="1.0"/><circle cx="403.80" cy="291.87" r="1.0"/><circle cx="405.20" cy="297.86" r="1.0"/><circle cx="406.60" cy="308.69" r="1.0"/><circle cx="408.00" cy="317.86" r="1.0"/><circle cx="409.40" cy="328.29" r="1.0"/><circle cx="410.80" cy="341.29" r="1.0"/><circle cx="412.20" cy="354.58" r="1.0"/><circle cx="413.60" cy="366.41" r="1.0"/><circle cx="415.00" cy="375.53" r="1.0"/><circle cx="416.40" cy="382.72" r="1.0"/><circle cx="417.80" cy="387.67" r="1.0"/><circle cx="419.20" cy="391.93" r="1.0"/><circle cx="420.60" cy="394.77" r="1.0"/><circle cx="422.00" cy="396.10" r="1.0"/><circle cx="423.40" cy="397.27" r="1.0"/><circle cx="424.80" cy="398.06" r="1.0"/><circle cx="426.20" cy="398.18" r="1.0"/><circle cx="427.60" cy="397.70" r="1.0"/><circle cx="429.00" cy="396.88" r="1.0"/><circle cx="430.40" cy="395.84" r="1.0"/><circle cx="431.80" cy="394.57" r="1.0"/><circle cx="433.20" cy="392.23" r="1.0"/><circle cx="434.60" cy="389.34" r="1.0"/><circle cx="436.00" cy="386.86" r="1.0"/><circle cx="437.40" cy="385.70" r="1.0"/><circle cx="438.80" cy="386.62" r="1.0"/><circle cx="440.20" cy="389.05" r="1.0"/><circle cx="441.60" cy="391.95" r="1.0"/><circle cx="443.00" cy="394.27" r="1.0"/><circle cx="444.40" cy="396.26" r="1.0"/><circle cx="445.80" cy="398.17" r="1.0"/><circle cx="447.20" cy="399.69" r="1.0"/><circle cx="448.60" cy="400.47" r="1.0"/><circle cx="450.00" cy="400.43" r="1.0"/><circle cx="451.40" cy="400.10" r="1.0"/><circle cx="452.80" cy="400.10" r="1.0"/><circle cx="454.20" cy="400.87" r="1.0"/><circle cx="455.60" cy="402.01" r="1.0"/><circle cx="457.00" cy="403.27" r="1.0"/><circle cx="458.40" cy="404.43" r="1.0"/><circle cx="459.80" cy="405.48" r="1.0"/><circle cx="461.20" cy="406.56" r="1.0"/><circle cx="462.60" cy="407.55" r="1.0"/><circle cx="464.00" cy="408.36" r="1.0"/><circle cx="465.40" cy="408.90" r="1.0"/><circle cx="466.80" cy="409.30" r="1.0"/><circle cx="468.20" cy="409.60" r="1.0"/><circle cx="469.60" cy="409.79" r="1.0"/><circle cx="471.00" cy="409.89" r="1.0"/><circle cx="472.40" cy="409.91" r="1.0"/><circle cx="473.80" cy="409.85" r="1.0"/><circle cx="475.20" cy="409.71" r="1.0"/><circle cx="476.60" cy="409.51" r="1.0"/></g>
<path d="M342.20,409.60 L342.70,409.59 L343.20,409.53 L343.70,409.43 L344.20,409.31 L344.70,409.15 L345.20,408.96 L345.70,408.74 L346.20,408.51 L346.70,408.25 L347.20,407.98 L347.70,407.69 L348.20,407.40 L348.70,407.09 L349.20,406.78 L349.70,406.46 L350.20,406.13 L350.70,405.73 L351.20,405.28 L351.70,404.78 L352.20,404.22 L352.70,403.63 L353.20,403.00 L353.70,402.34 L354.20,401.64 L354.70,400.93 L355.20,400.20 L355.70,399.45 L356.20,398.69 L356.70,397.86 L357.20,396.96 L357.70,396.01 L358.20,395.00 L358.70,393.96 L359.20,392.89 L359.70,391.80 L360.20,390.71 L360.70,389.63 L361.20,388.55 L361.70,387.41 L362.20,386.24 L362.70,385.03 L363.20,383.82 L363.70,382.61 L364.20,381.43 L364.70,380.28 L365.20,379.20 L365.70,378.19 L366.20,377.21 L366.70,376.19 L367.20,375.18 L367.70,374.26 L368.20,373.50 L368.70,372.98 L369.20,372.76 L369.70,372.91 L370.20,373.38 L370.70,374.11 L371.20,374.99 L371.70,375.96 L372.20,376.93 L372.70,377.81 L373.20,378.53 L373.70,379.20 L374.20,379.86 L374.70,380.50 L375.20,381.10 L375.70,381.63 L376.20,382.09 L376.70,382.44 L377.20,382.60 L377.70,382.42 L378.20,381.94 L378.70,381.23 L379.20,380.33 L379.70,379.30 L380.20,378.18 L380.70,377.00 L381.20,375.44 L381.70,373.48 L382.20,371.23 L382.70,368.76 L383.20,366.17 L383.70,363.56 L384.20,361.00 L384.70,358.44 L385.20,355.77 L385.70,353.02 L386.20,350.21 L386.70,347.37 L387.20,344.51 L387.70,341.67 L388.20,338.87 L388.70,336.13 L389.20,333.47 L389.70,330.84 L390.20,328.20 L390.70,325.57 L391.20,322.97 L391.70,320.40 L392.20,317.89 L392.70,315.44 L393.20,313.08 L393.70,310.81 L394.20,308.64 L394.70,306.48 L395.20,304.32 L395.70,302.21 L396.20,300.17 L396.70,298.22 L397.20,296.39 L397.70,294.72 L398.20,293.23 L398.70,291.95 L399.20,290.87 L399.70,289.89 L400.20,289.04 L400.70,288.39 L401.20,287.98 L401.70,287.87 L402.20,288.11 L402.70,288.77 L403.20,289.81 L403.70,291.16 L404.20,292.73 L404.70,294.45 L405.20,296.23 L405.70,298.01 L406.20,299.68 L406.70,301.24 L407.20,302.74 L407.70,304.21 L408.20,305.68 L408.70,307.16 L409.20,308.68 L409.70,310.25 L410.20,311.90 L410.70,313.65 L411.20,315.52 L411.70,317.53 L412.20,319.74 L412.70,322.16 L413.20,324.75 L413.70,327.49 L414.20,330.36 L414.70,333.31 L415.20,336.34 L415.70,339.41 L416.20,342.50 L416.70,345.58 L417.20,348.63 L417.70,351.61 L418.20,354.65 L418.70,357.94 L419.20,361.37 L419.70,364.82 L420.20,368.18 L420.70,371.33 L421.20,374.14 L421.70,376.51 L422.20,378.41 L422.70,380.19 L423.20,381.88 L423.70,383.47 L424.20,384.92 L424.70,386.22 L425.20,387.35 L425.70,388.30 L426.20,389.03 L426.70,389.54 L427.20,389.80 L427.70,389.92 L428.20,390.00 L428.70,390.05 L429.20,390.05 L429.70,390.01 L430.20,389.92 L430.70,389.78 L431.20,389.57 L431.70,389.30 L432.20,388.96 L432.70,388.52 L433.20,387.91 L433.70,387.17 L434.20,386.35 L434.70,385.50 L435.20,384.67 L435.70,383.91 L436.20,383.26 L436.70,382.78 L437.20,382.52 L437.70,382.52 L438.20,382.70 L438.70,382.99 L439.20,383.38 L439.70,383.84 L440.20,384.37 L440.70,384.95 L441.20,385.56 L441.70,386.19 L442.20,386.83 L442.70,387.45 L443.20,388.04 L443.70,388.60 L444.20,389.11 L444.70,389.65 L445.20,390.21 L445.70,390.79 L446.20,391.37 L446.70,391.93 L447.20,392.46 L447.70,392.95 L448.20,393.39 L448.70,393.76 L449.20,394.05 L449.70,394.09 L450.20,393.86 L450.70,393.44 L451.20,392.87 L451.70,392.24 L452.20,391.60 L452.70,391.02 L453.20,390.56 L453.70,390.29 L454.20,390.27 L454.70,390.52 L455.20,390.96 L455.70,391.55 L456.20,392.27 L456.70,393.08 L457.20,393.97 L457.70,394.90 L458.20,395.85 L458.70,396.79 L459.20,397.69 L459.70,398.54 L460.20,399.47 L460.70,400.47 L461.20,401.53 L461.70,402.60 L462.20,403.66 L462.70,404.67 L463.20,405.59 L463.70,406.40 L464.20,407.05 L464.70,407.53 L465.20,407.85 L465.70,408.13 L466.20,408.37 L466.70,408.58 L467.20,408.75 L467.70,408.89 L468.20,408.99 L468.70,409.07 L469.20,409.12 L469.70,409.16 L470.20,409.21 L470.70,409.25 L471.20,409.29 L471.70,409.34 L472.20,409.37 L472.70,409.41 L473.20,409.44 L473.70,409.46 L474.20,409.48 L474.70,409.49 L475.20,409.49 L475.70,409.49 L476.20,409.47 L476.70,409.44 L477.20,409.40" fill="none" stroke="#008000" stroke-width="1.9" stroke-linejoin="round" stroke-linecap="round"/>
<g fill="#008000"><circle cx="342.20" cy="409.60" r="1.0"/><circle cx="343.60" cy="409.46" r="1.0"/><circle cx="345.00" cy="409.04" r="1.0"/><circle cx="346.40" cy="408.41" r="1.0"/><circle cx="347.80" cy="407.63" r="1.0"/><circle cx="349.20" cy="406.78" r="1.0"/><circle cx="350.60" cy="405.82" r="1.0"/><circle cx="352.00" cy="404.45" r="1.0"/><circle cx="353.40" cy="402.74" r="1.0"/><circle cx="354.80" cy="400.79" r="1.0"/><circle cx="356.20" cy="398.69" r="1.0"/><circle cx="357.60" cy="396.20" r="1.0"/><circle cx="359.00" cy="393.32" r="1.0"/><circle cx="360.40" cy="390.28" r="1.0"/><circle cx="361.80" cy="387.18" r="1.0"/><circle cx="363.20" cy="383.82" r="1.0"/><circle cx="364.60" cy="380.51" r="1.0"/><circle cx="366.00" cy="377.61" r="1.0"/><circle cx="367.40" cy="374.80" r="1.0"/><circle cx="368.80" cy="372.91" r="1.0"/><circle cx="370.20" cy="373.38" r="1.0"/><circle cx="371.60" cy="375.76" r="1.0"/><circle cx="373.00" cy="378.26" r="1.0"/><circle cx="374.40" cy="380.12" r="1.0"/><circle cx="375.80" cy="381.73" r="1.0"/><circle cx="377.20" cy="382.60" r="1.0"/><circle cx="378.60" cy="381.39" r="1.0"/><circle cx="380.00" cy="378.63" r="1.0"/><circle cx="381.40" cy="374.70" r="1.0"/><circle cx="382.80" cy="368.25" r="1.0"/><circle cx="384.20" cy="361.00" r="1.0"/><circle cx="385.60" cy="353.58" r="1.0"/><circle cx="387.00" cy="345.66" r="1.0"/><circle cx="388.40" cy="337.77" r="1.0"/><circle cx="389.80" cy="330.31" r="1.0"/><circle cx="391.20" cy="322.97" r="1.0"/><circle cx="392.60" cy="315.93" r="1.0"/><circle cx="394.00" cy="309.50" r="1.0"/><circle cx="395.40" cy="303.47" r="1.0"/><circle cx="396.80" cy="297.84" r="1.0"/><circle cx="398.20" cy="293.23" r="1.0"/><circle cx="399.60" cy="290.07" r="1.0"/><circle cx="401.00" cy="288.11" r="1.0"/><circle cx="402.40" cy="288.32" r="1.0"/><circle cx="403.80" cy="291.46" r="1.0"/><circle cx="405.20" cy="296.23" r="1.0"/><circle cx="406.60" cy="300.93" r="1.0"/><circle cx="408.00" cy="305.09" r="1.0"/><circle cx="409.40" cy="309.30" r="1.0"/><circle cx="410.80" cy="314.01" r="1.0"/><circle cx="412.20" cy="319.74" r="1.0"/><circle cx="413.60" cy="326.94" r="1.0"/><circle cx="415.00" cy="335.12" r="1.0"/><circle cx="416.40" cy="343.73" r="1.0"/><circle cx="417.80" cy="352.20" r="1.0"/><circle cx="419.20" cy="361.37" r="1.0"/><circle cx="420.60" cy="370.72" r="1.0"/><circle cx="422.00" cy="377.67" r="1.0"/><circle cx="423.40" cy="382.53" r="1.0"/><circle cx="424.80" cy="386.46" r="1.0"/><circle cx="426.20" cy="389.03" r="1.0"/><circle cx="427.60" cy="389.89" r="1.0"/><circle cx="429.00" cy="390.05" r="1.0"/><circle cx="430.40" cy="389.87" r="1.0"/><circle cx="431.80" cy="389.24" r="1.0"/><circle cx="433.20" cy="387.91" r="1.0"/><circle cx="434.60" cy="385.67" r="1.0"/><circle cx="436.00" cy="383.50" r="1.0"/><circle cx="437.40" cy="382.49" r="1.0"/><circle cx="438.80" cy="383.06" r="1.0"/><circle cx="440.20" cy="384.37" r="1.0"/><circle cx="441.60" cy="386.07" r="1.0"/><circle cx="443.00" cy="387.81" r="1.0"/><circle cx="444.40" cy="389.32" r="1.0"/><circle cx="445.80" cy="390.91" r="1.0"/><circle cx="447.20" cy="392.46" r="1.0"/><circle cx="448.60" cy="393.69" r="1.0"/><circle cx="450.00" cy="393.98" r="1.0"/><circle cx="451.40" cy="392.63" r="1.0"/><circle cx="452.80" cy="390.91" r="1.0"/><circle cx="454.20" cy="390.27" r="1.0"/><circle cx="455.60" cy="391.42" r="1.0"/><circle cx="457.00" cy="393.61" r="1.0"/><circle cx="458.40" cy="396.23" r="1.0"/><circle cx="459.80" cy="398.72" r="1.0"/><circle cx="461.20" cy="401.53" r="1.0"/><circle cx="462.60" cy="404.47" r="1.0"/><circle cx="464.00" cy="406.81" r="1.0"/><circle cx="465.40" cy="407.97" r="1.0"/><circle cx="466.80" cy="408.62" r="1.0"/><circle cx="468.20" cy="408.99" r="1.0"/><circle cx="469.60" cy="409.15" r="1.0"/><circle cx="471.00" cy="409.28" r="1.0"/><circle cx="472.40" cy="409.39" r="1.0"/><circle cx="473.80" cy="409.47" r="1.0"/><circle cx="475.20" cy="409.49" r="1.0"/><circle cx="476.60" cy="409.45" r="1.0"/></g>
<path d="M342.20,409.60 L342.70,409.59 L343.20,409.53 L343.70,409.43 L344.20,409.31 L344.70,409.15 L345.20,408.96 L345.70,408.74 L346.20,408.51 L346.70,408.25 L347.20,407.98 L347.70,407.69 L348.20,407.40 L348.70,407.09 L349.20,406.78 L349.70,406.46 L350.20,406.13 L350.70,405.74 L351.20,405.29 L351.70,404.79 L352.20,404.25 L352.70,403.66 L353.20,403.03 L353.70,402.37 L354.20,401.68 L354.70,400.96 L355.20,400.22 L355.70,399.46 L356.20,398.68 L356.70,397.83 L357.20,396.91 L357.70,395.93 L358.20,394.90 L358.70,393.85 L359.20,392.77 L359.70,391.70 L360.20,390.64 L360.70,389.60 L361.20,388.60 L361.70,387.57 L362.20,386.53 L362.70,385.48 L363.20,384.44 L363.70,383.40 L364.20,382.39 L364.70,381.41 L365.20,380.47 L365.70,379.57 L366.20,378.68 L366.70,377.74 L367.20,376.80 L367.70,375.94 L368.20,375.22 L368.70,374.71 L369.20,374.48 L369.70,374.58 L370.20,374.99 L370.70,375.61 L371.20,376.39 L371.70,377.24 L372.20,378.09 L372.70,378.87 L373.20,379.52 L373.70,380.11 L374.20,380.70 L374.70,381.27 L375.20,381.80 L375.70,382.29 L376.20,382.71 L376.70,383.04 L377.20,383.20 L377.70,383.03 L378.20,382.58 L378.70,381.89 L379.20,381.01 L379.70,379.99 L380.20,378.89 L380.70,377.69 L381.20,376.07 L381.70,374.02 L382.20,371.65 L382.70,369.06 L383.20,366.35 L383.70,363.63 L384.20,361.00 L384.70,358.40 L385.20,355.71 L385.70,352.95 L386.20,350.14 L386.70,347.31 L387.20,344.47 L387.70,341.65 L388.20,338.86 L388.70,336.13 L389.20,333.47 L389.70,330.83 L390.20,328.18 L390.70,325.53 L391.20,322.91 L391.70,320.33 L392.20,317.81 L392.70,315.36 L393.20,313.02 L393.70,310.78 L394.20,308.66 L394.70,306.56 L395.20,304.47 L395.70,302.42 L396.20,300.45 L396.70,298.58 L397.20,296.84 L397.70,295.26 L398.20,293.87 L398.70,292.70 L399.20,291.76 L399.70,290.97 L400.20,290.33 L400.70,289.84 L401.20,289.50 L401.70,289.33 L402.20,289.35 L402.70,289.75 L403.20,290.51 L403.70,291.61 L404.20,293.02 L404.70,294.82 L405.20,297.86 L405.70,301.74 L406.20,305.78 L406.70,309.36 L407.20,312.66 L407.70,315.89 L408.20,319.21 L408.70,322.73 L409.20,326.61 L409.70,330.95 L410.20,335.59 L410.70,340.34 L411.20,345.00 L411.70,349.72 L412.20,354.58 L412.70,359.28 L413.20,363.51 L413.70,367.11 L414.20,370.50 L414.70,373.71 L415.20,376.70 L415.70,379.42 L416.20,381.85 L416.70,383.93 L417.20,385.67 L417.70,387.34 L418.20,388.97 L418.70,390.51 L419.20,391.93 L419.70,393.16 L420.20,394.17 L420.70,394.90 L421.20,395.37 L421.70,395.82 L422.20,396.27 L422.70,396.71 L423.20,397.12 L423.70,397.48 L424.20,397.79 L424.70,398.02 L425.20,398.18 L425.70,398.23 L426.20,398.18 L426.70,398.05 L427.20,397.88 L427.70,397.65 L428.20,397.39 L428.70,397.08 L429.20,396.75 L429.70,396.39 L430.20,396.00 L430.70,395.60 L431.20,395.18 L431.70,394.69 L432.20,394.01 L432.70,393.17 L433.20,392.23 L433.70,391.21 L434.20,390.17 L434.70,389.14 L435.20,388.18 L435.70,387.31 L436.20,386.59 L436.70,386.06 L437.20,385.75 L437.70,385.72 L438.20,385.98 L438.70,386.49 L439.20,387.20 L439.70,388.07 L440.20,389.05 L440.70,390.09 L441.20,391.14 L441.70,392.15 L442.20,393.07 L442.70,393.86 L443.20,394.55 L443.70,395.25 L444.20,395.97 L444.70,396.68 L445.20,397.38 L445.70,398.05 L446.20,398.66 L446.70,399.21 L447.20,399.69 L447.70,400.07 L448.20,400.34 L448.70,400.49 L449.20,400.53 L449.70,400.48 L450.20,400.38 L450.70,400.26 L451.20,400.14 L451.70,400.05 L452.20,400.02 L452.70,400.08 L453.20,400.25 L453.70,400.53 L454.20,400.87 L454.70,401.25 L455.20,401.67 L455.70,402.10 L456.20,402.55 L456.70,403.00 L457.20,403.44 L457.70,403.87 L458.20,404.27 L458.70,404.65 L459.20,405.02 L459.70,405.41 L460.20,405.79 L460.70,406.18 L461.20,406.56 L461.70,406.93 L462.20,407.28 L462.70,407.62 L463.20,407.93 L463.70,408.21 L464.20,408.45 L464.70,408.66 L465.20,408.84 L465.70,409.00 L466.20,409.15 L466.70,409.28 L467.20,409.40 L467.70,409.50 L468.20,409.60 L468.70,409.68 L469.20,409.75 L469.70,409.80 L470.20,409.85 L470.70,409.88 L471.20,409.90 L471.70,409.91 L472.20,409.91 L472.70,409.90 L473.20,409.88 L473.70,409.85 L474.20,409.82 L474.70,409.77 L475.20,409.71 L475.70,409.65 L476.20,409.57 L476.70,409.49 L477.20,409.40" fill="none" stroke="#FF0080" stroke-width="1.9" stroke-linejoin="round" stroke-linecap="round"/>
<g fill="#FF0080"><circle cx="342.20" cy="409.60" r="1.0"/><circle cx="343.60" cy="409.46" r="1.0"/><circle cx="345.00" cy="409.04" r="1.0"/><circle cx="346.40" cy="408.41" r="1.0"/><circle cx="347.80" cy="407.63" r="1.0"/><circle cx="349.20" cy="406.78" r="1.0"/><circle cx="350.60" cy="405.82" r="1.0"/><circle cx="352.00" cy="404.47" r="1.0"/><circle cx="353.40" cy="402.77" r="1.0"/><circle cx="354.80" cy="400.81" r="1.0"/><circle cx="356.20" cy="398.68" r="1.0"/><circle cx="357.60" cy="396.13" r="1.0"/><circle cx="359.00" cy="393.20" r="1.0"/><circle cx="360.40" cy="390.22" r="1.0"/><circle cx="361.80" cy="387.36" r="1.0"/><circle cx="363.20" cy="384.44" r="1.0"/><circle cx="364.60" cy="381.60" r="1.0"/><circle cx="366.00" cy="379.05" r="1.0"/><circle cx="367.40" cy="376.45" r="1.0"/><circle cx="368.80" cy="374.64" r="1.0"/><circle cx="370.20" cy="374.99" r="1.0"/><circle cx="371.60" cy="377.07" r="1.0"/><circle cx="373.00" cy="379.28" r="1.0"/><circle cx="374.40" cy="380.93" r="1.0"/><circle cx="375.80" cy="382.38" r="1.0"/><circle cx="377.20" cy="383.20" r="1.0"/><circle cx="378.60" cy="382.04" r="1.0"/><circle cx="380.00" cy="379.34" r="1.0"/><circle cx="381.40" cy="375.30" r="1.0"/><circle cx="382.80" cy="368.52" r="1.0"/><circle cx="384.20" cy="361.00" r="1.0"/><circle cx="385.60" cy="353.51" r="1.0"/><circle cx="387.00" cy="345.61" r="1.0"/><circle cx="388.40" cy="337.76" r="1.0"/><circle cx="389.80" cy="330.30" r="1.0"/><circle cx="391.20" cy="322.91" r="1.0"/><circle cx="392.60" cy="315.85" r="1.0"/><circle cx="394.00" cy="309.50" r="1.0"/><circle cx="395.40" cy="303.64" r="1.0"/><circle cx="396.80" cy="298.22" r="1.0"/><circle cx="398.20" cy="293.87" r="1.0"/><circle cx="399.60" cy="291.11" r="1.0"/><circle cx="401.00" cy="289.62" r="1.0"/><circle cx="402.40" cy="289.47" r="1.0"/><circle cx="403.80" cy="291.87" r="1.0"/><circle cx="405.20" cy="297.86" r="1.0"/><circle cx="406.60" cy="308.69" r="1.0"/><circle cx="408.00" cy="317.86" r="1.0"/><circle cx="409.40" cy="328.29" r="1.0"/><circle cx="410.80" cy="341.29" r="1.0"/><circle cx="412.20" cy="354.58" r="1.0"/><circle cx="413.60" cy="366.41" r="1.0"/><circle cx="415.00" cy="375.53" r="1.0"/><circle cx="416.40" cy="382.72" r="1.0"/><circle cx="417.80" cy="387.67" r="1.0"/><circle cx="419.20" cy="391.93" r="1.0"/><circle cx="420.60" cy="394.77" r="1.0"/><circle cx="422.00" cy="396.10" r="1.0"/><circle cx="423.40" cy="397.27" r="1.0"/><circle cx="424.80" cy="398.06" r="1.0"/><circle cx="426.20" cy="398.18" r="1.0"/><circle cx="427.60" cy="397.70" r="1.0"/><circle cx="429.00" cy="396.88" r="1.0"/><circle cx="430.40" cy="395.84" r="1.0"/><circle cx="431.80" cy="394.57" r="1.0"/><circle cx="433.20" cy="392.23" r="1.0"/><circle cx="434.60" cy="389.34" r="1.0"/><circle cx="436.00" cy="386.86" r="1.0"/><circle cx="437.40" cy="385.70" r="1.0"/><circle cx="438.80" cy="386.62" r="1.0"/><circle cx="440.20" cy="389.05" r="1.0"/><circle cx="441.60" cy="391.95" r="1.0"/><circle cx="443.00" cy="394.27" r="1.0"/><circle cx="444.40" cy="396.26" r="1.0"/><circle cx="445.80" cy="398.17" r="1.0"/><circle cx="447.20" cy="399.69" r="1.0"/><circle cx="448.60" cy="400.47" r="1.0"/><circle cx="450.00" cy="400.43" r="1.0"/><circle cx="451.40" cy="400.10" r="1.0"/><circle cx="452.80" cy="400.10" r="1.0"/><circle cx="454.20" cy="400.87" r="1.0"/><circle cx="455.60" cy="402.01" r="1.0"/><circle cx="457.00" cy="403.27" r="1.0"/><circle cx="458.40" cy="404.43" r="1.0"/><circle cx="459.80" cy="405.48" r="1.0"/><circle cx="461.20" cy="406.56" r="1.0"/><circle cx="462.60" cy="407.55" r="1.0"/><circle cx="464.00" cy="408.36" r="1.0"/><circle cx="465.40" cy="408.90" r="1.0"/><circle cx="466.80" cy="409.30" r="1.0"/><circle cx="468.20" cy="409.60" r="1.0"/><circle cx="469.60" cy="409.79" r="1.0"/><circle cx="471.00" cy="409.89" r="1.0"/><circle cx="472.40" cy="409.91" r="1.0"/><circle cx="473.80" cy="409.85" r="1.0"/><circle cx="475.20" cy="409.71" r="1.0"/><circle cx="476.60" cy="409.51" r="1.0"/></g>
<text x="331.4" y="412.2" font-size="12.1" text-anchor="start" fill="#151515" stroke="#151515" stroke-width="0.22" transform="rotate(-90 331.4 412.2)">Normalized absorbance</text>
<text x="358.6" y="439.6" font-size="12.2" text-anchor="start" fill="#151515" stroke="#151515" stroke-width="0.22">Wavelength (nm)</text>
</svg></body></html>
